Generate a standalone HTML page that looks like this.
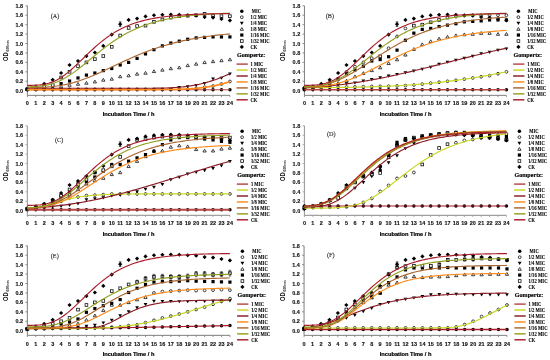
<!DOCTYPE html>
<html><head><meta charset="utf-8"><style>
html,body{margin:0;padding:0;background:#fff;overflow:hidden;width:550px;height:360px;}
svg{display:block;will-change:transform;}
text{font-family:"Liberation Sans",sans-serif;}
.tl text{font-size:5.5px;font-weight:bold;fill:#111;stroke:#111;stroke-width:0.12px;}
.xt{font-size:5.7px;font-weight:bold;fill:#000;stroke:#000;stroke-width:0.2px;}
.yt{font-size:6.5px;font-weight:bold;fill:#111;}
.sub{font-size:3.6px;font-weight:bold;fill:#333;}
.pl{font-family:"Liberation Serif",serif;font-size:6.2px;fill:#222;stroke:#222;stroke-width:0.1px;}
.lg{font-family:"Liberation Serif",serif;font-size:5.3px;font-weight:bold;fill:#000;stroke:#000;stroke-width:0.1px;}
.gz{font-family:"Liberation Serif",serif;font-size:6.1px;font-weight:bold;fill:#000;stroke:#000;stroke-width:0.15px;}
</style></head><body>
<svg width="550" height="360" viewBox="0 0 550 360">
<rect width="550" height="360" fill="#fff"/>
<g><path d="M27.35 5.79V95.35H229.91" fill="none" stroke="#777" stroke-width="0.95"/>
<path d="M25.35 90.7H27.35M25.35 81.27H27.35M25.35 71.83H27.35M25.35 62.4H27.35M25.35 52.96H27.35M25.35 43.53H27.35M25.35 34.1H27.35M25.35 24.66H27.35M25.35 15.23H27.35M25.35 5.79H27.35M27.35 95.35V97.15M35.79 95.35V97.15M44.23 95.35V97.15M52.67 95.35V97.15M61.11 95.35V97.15M69.55 95.35V97.15M77.99 95.35V97.15M86.43 95.35V97.15M94.87 95.35V97.15M103.31 95.35V97.15M111.75 95.35V97.15M120.19 95.35V97.15M128.63 95.35V97.15M137.07 95.35V97.15M145.51 95.35V97.15M153.95 95.35V97.15M162.39 95.35V97.15M170.83 95.35V97.15M179.27 95.35V97.15M187.71 95.35V97.15M196.15 95.35V97.15M204.59 95.35V97.15M213.03 95.35V97.15M221.47 95.35V97.15M229.91 95.35V97.15" stroke="#777" stroke-width="0.8"/>
<g class="tl"><text x="23.15" y="92.7" text-anchor="end">0.0</text><text x="23.15" y="83.27" text-anchor="end">0.2</text><text x="23.15" y="73.83" text-anchor="end">0.4</text><text x="23.15" y="64.4" text-anchor="end">0.6</text><text x="23.15" y="54.96" text-anchor="end">0.8</text><text x="23.15" y="45.53" text-anchor="end">1.0</text><text x="23.15" y="36.1" text-anchor="end">1.2</text><text x="23.15" y="26.66" text-anchor="end">1.4</text><text x="23.15" y="17.23" text-anchor="end">1.6</text><text x="23.15" y="7.79" text-anchor="end">1.8</text><text x="27.35" y="105.3" text-anchor="middle">0</text><text x="35.79" y="105.3" text-anchor="middle">1</text><text x="44.23" y="105.3" text-anchor="middle">2</text><text x="52.67" y="105.3" text-anchor="middle">3</text><text x="61.11" y="105.3" text-anchor="middle">4</text><text x="69.55" y="105.3" text-anchor="middle">5</text><text x="77.99" y="105.3" text-anchor="middle">6</text><text x="86.43" y="105.3" text-anchor="middle">7</text><text x="94.87" y="105.3" text-anchor="middle">8</text><text x="103.31" y="105.3" text-anchor="middle">9</text><text x="111.75" y="105.3" text-anchor="middle">10</text><text x="120.19" y="105.3" text-anchor="middle">11</text><text x="128.63" y="105.3" text-anchor="middle">12</text><text x="137.07" y="105.3" text-anchor="middle">13</text><text x="145.51" y="105.3" text-anchor="middle">14</text><text x="153.95" y="105.3" text-anchor="middle">15</text><text x="162.39" y="105.3" text-anchor="middle">16</text><text x="170.83" y="105.3" text-anchor="middle">17</text><text x="179.27" y="105.3" text-anchor="middle">18</text><text x="187.71" y="105.3" text-anchor="middle">19</text><text x="196.15" y="105.3" text-anchor="middle">20</text><text x="204.59" y="105.3" text-anchor="middle">21</text><text x="213.03" y="105.3" text-anchor="middle">22</text><text x="221.47" y="105.3" text-anchor="middle">23</text><text x="229.91" y="105.3" text-anchor="middle">24</text></g>
<text class="xt" x="128.5" y="115.6" text-anchor="middle">Incubation Time / h</text>
<g transform="translate(7.8 60.9) rotate(-90)"><text class="yt" x="0" y="0" textLength="8.6" lengthAdjust="spacingAndGlyphs">OD</text><text class="sub" x="9.3" y="0.8" textLength="11.3" lengthAdjust="spacingAndGlyphs">600nm</text></g>
<text class="pl" x="50.8" y="17.9">(A)</text>
<circle cx="27.35" cy="89.76" r="1.75" fill="#000"/><circle cx="35.79" cy="89.76" r="1.75" fill="#000"/><circle cx="44.23" cy="89.76" r="1.75" fill="#000"/><circle cx="52.67" cy="89.76" r="1.75" fill="#000"/><circle cx="61.11" cy="89.76" r="1.75" fill="#000"/><circle cx="69.55" cy="89.76" r="1.75" fill="#000"/><circle cx="77.99" cy="89.76" r="1.75" fill="#000"/><circle cx="86.43" cy="89.76" r="1.75" fill="#000"/><circle cx="94.87" cy="89.76" r="1.75" fill="#000"/><circle cx="103.31" cy="89.76" r="1.75" fill="#000"/><circle cx="111.75" cy="89.76" r="1.75" fill="#000"/><circle cx="120.19" cy="89.76" r="1.75" fill="#000"/><circle cx="128.63" cy="89.76" r="1.75" fill="#000"/><circle cx="137.07" cy="89.76" r="1.75" fill="#000"/><circle cx="145.51" cy="89.76" r="1.75" fill="#000"/><circle cx="153.95" cy="89.76" r="1.75" fill="#000"/><circle cx="162.39" cy="89.76" r="1.75" fill="#000"/><circle cx="170.83" cy="89.76" r="1.75" fill="#000"/><circle cx="179.27" cy="89.76" r="1.75" fill="#000"/><circle cx="187.71" cy="89.76" r="1.75" fill="#000"/><circle cx="196.15" cy="89.76" r="1.75" fill="#000"/><circle cx="204.59" cy="89.76" r="1.75" fill="#000"/><circle cx="213.03" cy="89.76" r="1.75" fill="#000"/><circle cx="221.47" cy="89.76" r="1.75" fill="#000"/><circle cx="229.91" cy="89.76" r="1.75" fill="#000"/>
<circle cx="27.35" cy="89.28" r="1.4" fill="none" stroke="#111" stroke-width="0.8"/><circle cx="35.79" cy="89.28" r="1.4" fill="none" stroke="#111" stroke-width="0.8"/><circle cx="44.23" cy="89.28" r="1.4" fill="none" stroke="#111" stroke-width="0.8"/><circle cx="52.67" cy="89.28" r="1.4" fill="none" stroke="#111" stroke-width="0.8"/><circle cx="61.11" cy="89.28" r="1.4" fill="none" stroke="#111" stroke-width="0.8"/><circle cx="69.55" cy="89.28" r="1.4" fill="none" stroke="#111" stroke-width="0.8"/><circle cx="77.99" cy="89.28" r="1.4" fill="none" stroke="#111" stroke-width="0.8"/><circle cx="86.43" cy="89.28" r="1.4" fill="none" stroke="#111" stroke-width="0.8"/><circle cx="94.87" cy="89.28" r="1.4" fill="none" stroke="#111" stroke-width="0.8"/><circle cx="103.31" cy="89.28" r="1.4" fill="none" stroke="#111" stroke-width="0.8"/><circle cx="111.75" cy="89.28" r="1.4" fill="none" stroke="#111" stroke-width="0.8"/><circle cx="120.19" cy="89.28" r="1.4" fill="none" stroke="#111" stroke-width="0.8"/><circle cx="128.63" cy="89.28" r="1.4" fill="none" stroke="#111" stroke-width="0.8"/><circle cx="137.07" cy="89.28" r="1.4" fill="none" stroke="#111" stroke-width="0.8"/><circle cx="145.51" cy="89.28" r="1.4" fill="none" stroke="#111" stroke-width="0.8"/><circle cx="153.95" cy="89.28" r="1.4" fill="none" stroke="#111" stroke-width="0.8"/><circle cx="162.39" cy="89.28" r="1.4" fill="none" stroke="#111" stroke-width="0.8"/><circle cx="170.83" cy="89.28" r="1.4" fill="none" stroke="#111" stroke-width="0.8"/><circle cx="179.27" cy="89.28" r="1.4" fill="none" stroke="#111" stroke-width="0.8"/><circle cx="187.71" cy="89.28" r="1.4" fill="none" stroke="#111" stroke-width="0.8"/><circle cx="196.15" cy="88.48" r="1.4" fill="none" stroke="#111" stroke-width="0.8"/><circle cx="204.59" cy="87.21" r="1.4" fill="none" stroke="#111" stroke-width="0.8"/><circle cx="213.03" cy="86.08" r="1.4" fill="none" stroke="#111" stroke-width="0.8"/><circle cx="221.47" cy="84" r="1.4" fill="none" stroke="#111" stroke-width="0.8"/><circle cx="229.91" cy="81.5" r="1.4" fill="none" stroke="#111" stroke-width="0.8"/>
<path d="M25.45 87.98H29.25L27.35 91.18Z" fill="#000"/><path d="M33.89 87.98H37.69L35.79 91.18Z" fill="#000"/><path d="M42.33 87.98H46.13L44.23 91.18Z" fill="#000"/><path d="M50.77 87.98H54.57L52.67 91.18Z" fill="#000"/><path d="M59.21 87.98H63.01L61.11 91.18Z" fill="#000"/><path d="M67.65 87.98H71.45L69.55 91.18Z" fill="#000"/><path d="M76.09 87.98H79.89L77.99 91.18Z" fill="#000"/><path d="M84.53 87.98H88.33L86.43 91.18Z" fill="#000"/><path d="M92.97 87.98H96.77L94.87 91.18Z" fill="#000"/><path d="M101.41 87.98H105.21L103.31 91.18Z" fill="#000"/><path d="M109.85 87.98H113.65L111.75 91.18Z" fill="#000"/><path d="M118.29 87.98H122.09L120.19 91.18Z" fill="#000"/><path d="M126.73 87.98H130.53L128.63 91.18Z" fill="#000"/><path d="M135.17 87.98H138.97L137.07 91.18Z" fill="#000"/><path d="M143.61 87.98H147.41L145.51 91.18Z" fill="#000"/><path d="M152.05 87.98H155.85L153.95 91.18Z" fill="#000"/><path d="M160.49 87.98H164.29L162.39 91.18Z" fill="#000"/><path d="M168.93 87.98H172.73L170.83 91.18Z" fill="#000"/><path d="M177.37 86.1H181.17L179.27 89.3Z" fill="#000"/><path d="M185.81 85.3H189.61L187.71 88.5Z" fill="#000"/><path d="M194.25 83.98H198.05L196.15 87.18Z" fill="#000"/><path d="M202.69 81.99H206.49L204.59 85.19Z" fill="#000"/><path d="M211.13 77.42H214.93L213.03 80.62Z" fill="#000"/><path d="M219.57 76.66H223.37L221.47 79.86Z" fill="#000"/><path d="M228.01 72.51H231.81L229.91 75.71Z" fill="#000"/>
<path d="M25.7 90.48H29L27.35 87.68Z" fill="#fff" stroke="#111" stroke-width="0.8"/><path d="M34.14 90.25H37.44L35.79 87.45Z" fill="#fff" stroke="#111" stroke-width="0.8"/><path d="M42.58 90.01H45.88L44.23 87.21Z" fill="#fff" stroke="#111" stroke-width="0.8"/><path d="M51.02 89.54H54.32L52.67 86.74Z" fill="#fff" stroke="#111" stroke-width="0.8"/><path d="M59.46 87.8H62.76L61.11 85Z" fill="#fff" stroke="#111" stroke-width="0.8"/><path d="M67.9 86.24H71.2L69.55 83.44Z" fill="#fff" stroke="#111" stroke-width="0.8"/><path d="M76.34 85.3H79.64L77.99 82.5Z" fill="#fff" stroke="#111" stroke-width="0.8"/><path d="M84.78 84.21H88.08L86.43 81.41Z" fill="#fff" stroke="#111" stroke-width="0.8"/><path d="M93.22 82.94H96.52L94.87 80.14Z" fill="#fff" stroke="#111" stroke-width="0.8"/><path d="M101.66 81.19H104.96L103.31 78.39Z" fill="#fff" stroke="#111" stroke-width="0.8"/><path d="M110.1 80.2H113.4L111.75 77.4Z" fill="#fff" stroke="#111" stroke-width="0.8"/><path d="M118.54 77.75H121.84L120.19 74.95Z" fill="#fff" stroke="#111" stroke-width="0.8"/><path d="M126.98 76.81H130.28L128.63 74.01Z" fill="#fff" stroke="#111" stroke-width="0.8"/><path d="M135.42 75.2H138.72L137.07 72.4Z" fill="#fff" stroke="#111" stroke-width="0.8"/><path d="M143.86 74.21H147.16L145.51 71.41Z" fill="#fff" stroke="#111" stroke-width="0.8"/><path d="M152.3 72.56H155.6L153.95 69.76Z" fill="#fff" stroke="#111" stroke-width="0.8"/><path d="M160.74 71.15H164.04L162.39 68.35Z" fill="#fff" stroke="#111" stroke-width="0.8"/><path d="M169.18 69.73H172.48L170.83 66.93Z" fill="#fff" stroke="#111" stroke-width="0.8"/><path d="M177.62 68.79H180.92L179.27 65.99Z" fill="#fff" stroke="#111" stroke-width="0.8"/><path d="M186.06 66.62H189.36L187.71 63.82Z" fill="#fff" stroke="#111" stroke-width="0.8"/><path d="M194.5 65.2H197.8L196.15 62.4Z" fill="#fff" stroke="#111" stroke-width="0.8"/><path d="M202.94 63.6H206.24L204.59 60.8Z" fill="#fff" stroke="#111" stroke-width="0.8"/><path d="M211.38 62.65H214.68L213.03 59.85Z" fill="#fff" stroke="#111" stroke-width="0.8"/><path d="M219.82 61.71H223.12L221.47 58.91Z" fill="#fff" stroke="#111" stroke-width="0.8"/><path d="M228.26 60.77H231.56L229.91 57.97Z" fill="#fff" stroke="#111" stroke-width="0.8"/>
<rect x="25.75" y="87.68" width="3.2" height="3.2" fill="#000"/><rect x="34.19" y="87.21" width="3.2" height="3.2" fill="#000"/><rect x="42.63" y="86.27" width="3.2" height="3.2" fill="#000"/><rect x="51.07" y="84.38" width="3.2" height="3.2" fill="#000"/><rect x="59.51" y="82.02" width="3.2" height="3.2" fill="#000"/><rect x="67.95" y="79.43" width="3.2" height="3.2" fill="#000"/><rect x="76.39" y="76.36" width="3.2" height="3.2" fill="#000"/><rect x="84.83" y="73.53" width="3.2" height="3.2" fill="#000"/><rect x="93.27" y="71.41" width="3.2" height="3.2" fill="#000"/><rect x="101.71" y="69.01" width="3.2" height="3.2" fill="#000"/><rect x="110.15" y="66.93" width="3.2" height="3.2" fill="#000"/><rect x="118.59" y="63.39" width="3.2" height="3.2" fill="#000"/><rect x="127.03" y="60.8" width="3.2" height="3.2" fill="#000"/><rect x="135.47" y="56.79" width="3.2" height="3.2" fill="#000"/><rect x="143.91" y="52.31" width="3.2" height="3.2" fill="#000"/><rect x="152.35" y="48.06" width="3.2" height="3.2" fill="#000"/><rect x="160.79" y="44.29" width="3.2" height="3.2" fill="#000"/><rect x="169.23" y="41.46" width="3.2" height="3.2" fill="#000"/><rect x="177.67" y="39.57" width="3.2" height="3.2" fill="#000"/><rect x="186.11" y="37.68" width="3.2" height="3.2" fill="#000"/><rect x="194.55" y="36.27" width="3.2" height="3.2" fill="#000"/><rect x="202.99" y="35.8" width="3.2" height="3.2" fill="#000"/><rect x="211.43" y="35.33" width="3.2" height="3.2" fill="#000"/><rect x="219.87" y="35.33" width="3.2" height="3.2" fill="#000"/><rect x="228.31" y="35.33" width="3.2" height="3.2" fill="#000"/>
<rect x="26" y="87.93" width="2.7" height="2.7" fill="#fff" stroke="#111" stroke-width="0.8"/><rect x="34.44" y="86.99" width="2.7" height="2.7" fill="#fff" stroke="#111" stroke-width="0.8"/><rect x="42.88" y="85.58" width="2.7" height="2.7" fill="#fff" stroke="#111" stroke-width="0.8"/><rect x="51.32" y="83.69" width="2.7" height="2.7" fill="#fff" stroke="#111" stroke-width="0.8"/><rect x="59.76" y="76.14" width="2.7" height="2.7" fill="#fff" stroke="#111" stroke-width="0.8"/><rect x="68.2" y="70.48" width="2.7" height="2.7" fill="#fff" stroke="#111" stroke-width="0.8"/><rect x="76.64" y="64.82" width="2.7" height="2.7" fill="#fff" stroke="#111" stroke-width="0.8"/><rect x="85.08" y="61.05" width="2.7" height="2.7" fill="#fff" stroke="#111" stroke-width="0.8"/><rect x="93.52" y="57.75" width="2.7" height="2.7" fill="#fff" stroke="#111" stroke-width="0.8"/><rect x="101.96" y="54.68" width="2.7" height="2.7" fill="#fff" stroke="#111" stroke-width="0.8"/><rect x="110.4" y="45.48" width="2.7" height="2.7" fill="#fff" stroke="#111" stroke-width="0.8"/><rect x="118.84" y="34.16" width="2.7" height="2.7" fill="#fff" stroke="#111" stroke-width="0.8"/><rect x="127.28" y="26.61" width="2.7" height="2.7" fill="#fff" stroke="#111" stroke-width="0.8"/><rect x="135.72" y="24.73" width="2.7" height="2.7" fill="#fff" stroke="#111" stroke-width="0.8"/><rect x="144.16" y="24.26" width="2.7" height="2.7" fill="#fff" stroke="#111" stroke-width="0.8"/><rect x="152.6" y="20.48" width="2.7" height="2.7" fill="#fff" stroke="#111" stroke-width="0.8"/><rect x="161.04" y="18.12" width="2.7" height="2.7" fill="#fff" stroke="#111" stroke-width="0.8"/><rect x="169.48" y="16.24" width="2.7" height="2.7" fill="#fff" stroke="#111" stroke-width="0.8"/><rect x="177.92" y="14.82" width="2.7" height="2.7" fill="#fff" stroke="#111" stroke-width="0.8"/><rect x="186.36" y="14.35" width="2.7" height="2.7" fill="#fff" stroke="#111" stroke-width="0.8"/><rect x="194.8" y="13.88" width="2.7" height="2.7" fill="#fff" stroke="#111" stroke-width="0.8"/><rect x="203.24" y="12.46" width="2.7" height="2.7" fill="#fff" stroke="#111" stroke-width="0.8"/><rect x="211.68" y="14.35" width="2.7" height="2.7" fill="#fff" stroke="#111" stroke-width="0.8"/><rect x="220.12" y="14.82" width="2.7" height="2.7" fill="#fff" stroke="#111" stroke-width="0.8"/><rect x="228.56" y="14.82" width="2.7" height="2.7" fill="#fff" stroke="#111" stroke-width="0.8"/>
<path d="M27.35 86.71L29.45 88.81L27.35 90.91L25.25 88.81Z" fill="#000"/><path d="M35.79 84.5L37.89 86.6L35.79 88.7L33.69 86.6Z" fill="#000"/><path d="M44.23 81.71L46.33 83.81L44.23 85.91L42.13 83.81Z" fill="#000"/><path d="M52.67 77.75L54.77 79.85L52.67 81.95L50.57 79.85Z" fill="#000"/><path d="M61.11 70.91L63.21 73.01L61.11 75.11L59.01 73.01Z" fill="#000"/><path d="M69.55 62.89L71.65 64.99L69.55 67.09L67.45 64.99Z" fill="#000"/><path d="M77.99 58.88L80.09 60.98L77.99 63.08L75.89 60.98Z" fill="#000"/><path d="M86.43 53.93L88.53 56.03L86.43 58.13L84.33 56.03Z" fill="#000"/><path d="M94.87 50.39L96.97 52.49L94.87 54.59L92.77 52.49Z" fill="#000"/><path d="M103.31 43.79L105.41 45.89L103.31 47.99L101.21 45.89Z" fill="#000"/><path d="M111.75 32.47L113.85 34.57L111.75 36.67L109.65 34.57Z" fill="#000"/><path d="M120.19 22.09L122.29 24.19L120.19 26.29L118.09 24.19Z" fill="#000"/><path d="M128.63 17.85L130.73 19.95L128.63 22.05L126.53 19.95Z" fill="#000"/><path d="M137.07 16.43L139.17 18.53L137.07 20.63L134.97 18.53Z" fill="#000"/><path d="M145.51 14.31L147.61 16.41L145.51 18.51L143.41 16.41Z" fill="#000"/><path d="M153.95 13.13L156.05 15.23L153.95 17.33L151.85 15.23Z" fill="#000"/><path d="M162.39 12.66L164.49 14.76L162.39 16.86L160.29 14.76Z" fill="#000"/><path d="M170.83 12.42L172.93 14.52L170.83 16.62L168.73 14.52Z" fill="#000"/><path d="M179.27 12.66L181.37 14.76L179.27 16.86L177.17 14.76Z" fill="#000"/><path d="M187.71 13.13L189.81 15.23L187.71 17.33L185.61 15.23Z" fill="#000"/><path d="M196.15 13.6L198.25 15.7L196.15 17.8L194.05 15.7Z" fill="#000"/><path d="M204.59 15.01L206.69 17.11L204.59 19.21L202.49 17.11Z" fill="#000"/><path d="M213.03 15.49L215.13 17.59L213.03 19.69L210.93 17.59Z" fill="#000"/><path d="M221.47 16.9L223.57 19L221.47 21.1L219.37 19Z" fill="#000"/><path d="M229.91 18.32L232.01 20.42L229.91 22.52L227.81 20.42Z" fill="#000"/><path d="M120.19 21.83V26.55M118.89 21.83H121.49M118.89 26.55H121.49" stroke="#000" stroke-width="0.6"/>
<path d="M27.35 89.76H229.91" fill="none" stroke="#b84646" stroke-width="1.2"/>
<path d="M27.35 89.55 29.46 89.55 31.57 89.55 33.68 89.55 35.79 89.55 37.9 89.55 40.01 89.55 42.12 89.55 44.23 89.55 46.34 89.55 48.45 89.55 50.56 89.55 52.67 89.55 54.78 89.55 56.89 89.55 59 89.55 61.11 89.55 63.22 89.55 65.33 89.55 67.44 89.55 69.55 89.55 71.66 89.55 73.77 89.55 75.88 89.55 77.99 89.55 80.1 89.55 82.21 89.55 84.32 89.55 86.43 89.55 88.54 89.55 90.65 89.55 92.76 89.55 94.87 89.55 96.98 89.55 99.09 89.55 101.2 89.55 103.31 89.55 105.42 89.55 107.53 89.55 109.64 89.55 111.75 89.55 113.86 89.55 115.97 89.55 118.08 89.55 120.19 89.55 122.3 89.55 124.41 89.55 126.52 89.55 128.63 89.55 130.74 89.55 132.85 89.55 134.96 89.55 137.07 89.55 139.18 89.55 141.29 89.55 143.4 89.55 145.51 89.55 147.62 89.54 149.73 89.54 151.84 89.54 153.95 89.53 156.06 89.53 158.17 89.52 160.28 89.51 162.39 89.49 164.5 89.48 166.61 89.46 168.72 89.43 170.83 89.41 172.94 89.37 175.05 89.33 177.16 89.28 179.27 89.22 181.38 89.16 183.49 89.08 185.6 88.99 187.71 88.88 189.82 88.77 191.93 88.63 194.04 88.48 196.15 88.3 198.26 88.11 200.37 87.89 202.48 87.65 204.59 87.38 206.7 87.08 208.81 86.75 210.92 86.39 213.03 86 215.14 85.57 217.25 85.11 219.36 84.61 221.47 84.07 223.58 83.49 225.69 82.87 227.8 82.2 229.91 81.5" fill="none" stroke="#ff8c1a" stroke-width="1.7"/>
<path d="M27.35 88.29 29.46 88.29 31.57 88.29 33.68 88.29 35.79 88.29 37.9 88.29 40.01 88.29 42.12 88.29 44.23 88.29 46.34 88.29 48.45 88.29 50.56 88.29 52.67 88.29 54.78 88.29 56.89 88.29 59 88.29 61.11 88.29 63.22 88.29 65.33 88.29 67.44 88.29 69.55 88.29 71.66 88.29 73.77 88.29 75.88 88.29 77.99 88.29 80.1 88.29 82.21 88.29 84.32 88.29 86.43 88.29 88.54 88.29 90.65 88.29 92.76 88.29 94.87 88.29 96.98 88.29 99.09 88.29 101.2 88.29 103.31 88.29 105.42 88.29 107.53 88.29 109.64 88.29 111.75 88.29 113.86 88.29 115.97 88.29 118.08 88.29 120.19 88.29 122.3 88.29 124.41 88.29 126.52 88.29 128.63 88.29 130.74 88.28 132.85 88.28 134.96 88.28 137.07 88.28 139.18 88.28 141.29 88.27 143.4 88.27 145.51 88.26 147.62 88.25 149.73 88.24 151.84 88.23 153.95 88.21 156.06 88.18 158.17 88.15 160.28 88.12 162.39 88.07 164.5 88.01 166.61 87.95 168.72 87.87 170.83 87.78 172.94 87.67 175.05 87.54 177.16 87.39 179.27 87.22 181.38 87.03 183.49 86.82 185.6 86.57 187.71 86.3 189.82 86 191.93 85.67 194.04 85.3 196.15 84.9 198.26 84.47 200.37 84 202.48 83.49 204.59 82.95 206.7 82.37 208.81 81.75 210.92 81.1 213.03 80.41 215.14 79.68 217.25 78.92 219.36 78.13 221.47 77.3 223.58 76.44 225.69 75.56 227.8 74.64 229.91 73.7" fill="none" stroke="#8a1c26" stroke-width="1.15"/>
<path d="M27.35 87.73 29.46 87.71 31.57 87.68 33.68 87.63 35.79 87.58 37.9 87.52 40.01 87.44 42.12 87.34 44.23 87.23 46.34 87.1 48.45 86.94 50.56 86.75 52.67 86.54 54.78 86.3 56.89 86.03 59 85.72 61.11 85.37 63.22 84.99 65.33 84.57 67.44 84.12 69.55 83.62 71.66 83.08 73.77 82.51 75.88 81.89 77.99 81.24 80.1 80.55 82.21 79.82 84.32 79.06 86.43 78.27 88.54 77.45 90.65 76.59 92.76 75.72 94.87 74.81 96.98 73.89 99.09 72.95 101.2 71.99 103.31 71.02 105.42 70.03 107.53 69.04 109.64 68.05 111.75 67.04 113.86 66.04 115.97 65.04 118.08 64.04 120.19 63.05 122.3 62.06 124.41 61.08 126.52 60.11 128.63 59.16 130.74 58.21 132.85 57.28 134.96 56.37 137.07 55.47 139.18 54.59 141.29 53.73 143.4 52.89 145.51 52.06 147.62 51.26 149.73 50.47 151.84 49.71 153.95 48.97 156.06 48.24 158.17 47.54 160.28 46.86 162.39 46.2 164.5 45.56 166.61 44.94 168.72 44.33 170.83 43.75 172.94 43.19 175.05 42.65 177.16 42.13 179.27 41.62 181.38 41.13 183.49 40.66 185.6 40.21 187.71 39.77 189.82 39.35 191.93 38.95 194.04 38.56 196.15 38.19 198.26 37.83 200.37 37.48 202.48 37.15 204.59 36.83 206.7 36.53 208.81 36.24 210.92 35.95 213.03 35.68 215.14 35.42 217.25 35.18 219.36 34.94 221.47 34.71 223.58 34.49 225.69 34.28 227.8 34.08 229.91 33.89" fill="none" stroke="#aa6630" stroke-width="1.15"/>
<path d="M27.35 86.79 29.46 86.74 31.57 86.67 33.68 86.57 35.79 86.45 37.9 86.29 40.01 86.08 42.12 85.82 44.23 85.5 46.34 85.12 48.45 84.66 50.56 84.13 52.67 83.51 54.78 82.8 56.89 81.99 59 81.1 61.11 80.11 63.22 79.03 65.33 77.86 67.44 76.61 69.55 75.27 71.66 73.86 73.77 72.38 75.88 70.84 77.99 69.25 80.1 67.6 82.21 65.93 84.32 64.22 86.43 62.49 88.54 60.75 90.65 59 92.76 57.25 94.87 55.51 96.98 53.79 99.09 52.08 101.2 50.4 103.31 48.75 105.42 47.14 107.53 45.56 109.64 44.02 111.75 42.52 113.86 41.07 115.97 39.67 118.08 38.31 120.19 37 122.3 35.74 124.41 34.53 126.52 33.36 128.63 32.25 130.74 31.18 132.85 30.16 134.96 29.18 137.07 28.25 139.18 27.37 141.29 26.52 143.4 25.72 145.51 24.95 147.62 24.23 149.73 23.54 151.84 22.89 153.95 22.27 156.06 21.68 158.17 21.13 160.28 20.6 162.39 20.11 164.5 19.64 166.61 19.19 168.72 18.78 170.83 18.38 172.94 18.01 175.05 17.65 177.16 17.32 179.27 17.01 181.38 16.71 183.49 16.44 185.6 16.17 187.71 15.93 189.82 15.7 191.93 15.48 194.04 15.27 196.15 15.08 198.26 14.9 200.37 14.72 202.48 14.56 204.59 14.41 206.7 14.27 208.81 14.14 210.92 14.01 213.03 13.89 215.14 13.78 217.25 13.67 219.36 13.58 221.47 13.48 223.58 13.4 225.69 13.32 227.8 13.24 229.91 13.17" fill="none" stroke="#94a020" stroke-width="1.15"/>
<path d="M27.35 85.39 29.46 85.37 31.57 85.32 33.68 85.26 35.79 85.16 37.9 85.02 40.01 84.83 42.12 84.57 44.23 84.24 46.34 83.81 48.45 83.28 50.56 82.64 52.67 81.87 54.78 80.98 56.89 79.95 59 78.79 61.11 77.49 63.22 76.07 65.33 74.53 67.44 72.88 69.55 71.13 71.66 69.29 73.77 67.38 75.88 65.41 77.99 63.4 80.1 61.36 82.21 59.31 84.32 57.25 86.43 55.2 88.54 53.17 90.65 51.17 92.76 49.21 94.87 47.3 96.98 45.44 99.09 43.64 101.2 41.9 103.31 40.22 105.42 38.62 107.53 37.08 109.64 35.61 111.75 34.21 113.86 32.88 115.97 31.62 118.08 30.43 120.19 29.3 122.3 28.24 124.41 27.24 126.52 26.29 128.63 25.41 130.74 24.57 132.85 23.79 134.96 23.06 137.07 22.38 139.18 21.74 141.29 21.14 143.4 20.58 145.51 20.06 147.62 19.57 149.73 19.12 151.84 18.7 153.95 18.31 156.06 17.94 158.17 17.6 160.28 17.28 162.39 16.99 164.5 16.72 166.61 16.46 168.72 16.23 170.83 16.01 172.94 15.81 175.05 15.62 177.16 15.44 179.27 15.28 181.38 15.13 183.49 14.99 185.6 14.86 187.71 14.74 189.82 14.63 191.93 14.53 194.04 14.43 196.15 14.34 198.26 14.26 200.37 14.19 202.48 14.12 204.59 14.05 206.7 13.99 208.81 13.93 210.92 13.88 213.03 13.84 215.14 13.79 217.25 13.75 219.36 13.71 221.47 13.68 223.58 13.64 225.69 13.61 227.8 13.59 229.91 13.56" fill="none" stroke="#a81c2a" stroke-width="1.15"/>
<circle cx="241.8" cy="11.25" r="1.75" fill="#000"/>
<text class="lg" x="250.6" y="13" xml:space="preserve" textLength="10.38" lengthAdjust="spacingAndGlyphs"> MIC</text>
<circle cx="241.8" cy="17.2" r="1.4" fill="none" stroke="#111" stroke-width="0.8"/>
<text class="lg" x="250.6" y="18.95" xml:space="preserve" textLength="16.57" lengthAdjust="spacingAndGlyphs">1/2 MIC</text>
<path d="M239.9 21.85H243.7L241.8 25.05Z" fill="#000"/>
<text class="lg" x="250.6" y="24.9" xml:space="preserve" textLength="16.57" lengthAdjust="spacingAndGlyphs">1/4 MIC</text>
<path d="M240.15 30.3H243.45L241.8 27.5Z" fill="#fff" stroke="#111" stroke-width="0.8"/>
<text class="lg" x="250.6" y="30.85" xml:space="preserve" textLength="16.57" lengthAdjust="spacingAndGlyphs">1/8 MIC</text>
<rect x="240.2" y="33.45" width="3.2" height="3.2" fill="#000"/>
<text class="lg" x="250.6" y="36.8" xml:space="preserve" textLength="19" lengthAdjust="spacingAndGlyphs">1/16 MIC</text>
<rect x="240.45" y="39.65" width="2.7" height="2.7" fill="#fff" stroke="#111" stroke-width="0.8"/>
<text class="lg" x="250.6" y="42.75" xml:space="preserve" textLength="19" lengthAdjust="spacingAndGlyphs">1/32 MIC</text>
<path d="M241.8 44.85L243.9 46.95L241.8 49.05L239.7 46.95Z" fill="#000"/>
<text class="lg" x="250.6" y="48.7" xml:space="preserve" textLength="6.74" lengthAdjust="spacingAndGlyphs">CK</text>
<text class="gz" x="236.9" y="57.2">Gompertz:</text>
<path d="M236.5 64.1H247.8" stroke="#b84646" stroke-width="1.45"/>
<text class="lg" x="250.6" y="65.95" textLength="12.8" lengthAdjust="spacingAndGlyphs">1 MIC</text>
<path d="M236.5 70.05H247.8" stroke="#c8d820" stroke-width="1.45"/>
<text class="lg" x="250.6" y="71.9" textLength="16.57" lengthAdjust="spacingAndGlyphs">1/2 MIC</text>
<path d="M236.5 76H247.8" stroke="#8a1c26" stroke-width="1.45"/>
<text class="lg" x="250.6" y="77.85" textLength="16.57" lengthAdjust="spacingAndGlyphs">1/4 MIC</text>
<path d="M236.5 81.95H247.8" stroke="#ff8c1a" stroke-width="1.45"/>
<text class="lg" x="250.6" y="83.8" textLength="16.57" lengthAdjust="spacingAndGlyphs">1/8 MIC</text>
<path d="M236.5 87.9H247.8" stroke="#aa6630" stroke-width="1.45"/>
<text class="lg" x="250.6" y="89.75" textLength="19" lengthAdjust="spacingAndGlyphs">1/16 MIC</text>
<path d="M236.5 93.85H247.8" stroke="#94a020" stroke-width="1.45"/>
<text class="lg" x="250.6" y="95.7" textLength="19" lengthAdjust="spacingAndGlyphs">1/32 MIC</text>
<path d="M236.5 99.8H247.8" stroke="#a81c2a" stroke-width="1.45"/>
<text class="lg" x="250.6" y="101.65" textLength="6.74" lengthAdjust="spacingAndGlyphs">CK</text></g>
<g><path d="M304.45 5.79V95.35H506.41" fill="none" stroke="#777" stroke-width="0.95"/>
<path d="M302.45 90.7H304.45M302.45 81.27H304.45M302.45 71.83H304.45M302.45 62.4H304.45M302.45 52.96H304.45M302.45 43.53H304.45M302.45 34.1H304.45M302.45 24.66H304.45M302.45 15.23H304.45M302.45 5.79H304.45M304.45 95.35V97.15M312.87 95.35V97.15M321.28 95.35V97.15M329.7 95.35V97.15M338.11 95.35V97.15M346.53 95.35V97.15M354.94 95.35V97.15M363.36 95.35V97.15M371.77 95.35V97.15M380.19 95.35V97.15M388.6 95.35V97.15M397.02 95.35V97.15M405.43 95.35V97.15M413.85 95.35V97.15M422.26 95.35V97.15M430.68 95.35V97.15M439.09 95.35V97.15M447.5 95.35V97.15M455.92 95.35V97.15M464.34 95.35V97.15M472.75 95.35V97.15M481.17 95.35V97.15M489.58 95.35V97.15M498 95.35V97.15M506.41 95.35V97.15" stroke="#777" stroke-width="0.8"/>
<g class="tl"><text x="300.25" y="92.7" text-anchor="end">0.0</text><text x="300.25" y="83.27" text-anchor="end">0.2</text><text x="300.25" y="73.83" text-anchor="end">0.4</text><text x="300.25" y="64.4" text-anchor="end">0.6</text><text x="300.25" y="54.96" text-anchor="end">0.8</text><text x="300.25" y="45.53" text-anchor="end">1.0</text><text x="300.25" y="36.1" text-anchor="end">1.2</text><text x="300.25" y="26.66" text-anchor="end">1.4</text><text x="300.25" y="17.23" text-anchor="end">1.6</text><text x="300.25" y="7.79" text-anchor="end">1.8</text><text x="304.45" y="105.3" text-anchor="middle">0</text><text x="312.87" y="105.3" text-anchor="middle">1</text><text x="321.28" y="105.3" text-anchor="middle">2</text><text x="329.7" y="105.3" text-anchor="middle">3</text><text x="338.11" y="105.3" text-anchor="middle">4</text><text x="346.53" y="105.3" text-anchor="middle">5</text><text x="354.94" y="105.3" text-anchor="middle">6</text><text x="363.36" y="105.3" text-anchor="middle">7</text><text x="371.77" y="105.3" text-anchor="middle">8</text><text x="380.19" y="105.3" text-anchor="middle">9</text><text x="388.6" y="105.3" text-anchor="middle">10</text><text x="397.02" y="105.3" text-anchor="middle">11</text><text x="405.43" y="105.3" text-anchor="middle">12</text><text x="413.85" y="105.3" text-anchor="middle">13</text><text x="422.26" y="105.3" text-anchor="middle">14</text><text x="430.68" y="105.3" text-anchor="middle">15</text><text x="439.09" y="105.3" text-anchor="middle">16</text><text x="447.5" y="105.3" text-anchor="middle">17</text><text x="455.92" y="105.3" text-anchor="middle">18</text><text x="464.34" y="105.3" text-anchor="middle">19</text><text x="472.75" y="105.3" text-anchor="middle">20</text><text x="481.17" y="105.3" text-anchor="middle">21</text><text x="489.58" y="105.3" text-anchor="middle">22</text><text x="498" y="105.3" text-anchor="middle">23</text><text x="506.41" y="105.3" text-anchor="middle">24</text></g>
<text class="xt" x="405.6" y="115.6" text-anchor="middle">Incubation Time / h</text>
<g transform="translate(284.9 60.9) rotate(-90)"><text class="yt" x="0" y="0" textLength="8.6" lengthAdjust="spacingAndGlyphs">OD</text><text class="sub" x="9.3" y="0.8" textLength="11.3" lengthAdjust="spacingAndGlyphs">600nm</text></g>
<text class="pl" x="325.8" y="17.9">(B)</text>
<circle cx="304.45" cy="89.76" r="1.75" fill="#000"/><circle cx="312.87" cy="89.76" r="1.75" fill="#000"/><circle cx="321.28" cy="89.76" r="1.75" fill="#000"/><circle cx="329.7" cy="89.76" r="1.75" fill="#000"/><circle cx="338.11" cy="89.76" r="1.75" fill="#000"/><circle cx="346.53" cy="89.76" r="1.75" fill="#000"/><circle cx="354.94" cy="89.76" r="1.75" fill="#000"/><circle cx="363.36" cy="89.76" r="1.75" fill="#000"/><circle cx="371.77" cy="89.76" r="1.75" fill="#000"/><circle cx="380.19" cy="89.76" r="1.75" fill="#000"/><circle cx="388.6" cy="89.76" r="1.75" fill="#000"/><circle cx="397.02" cy="89.76" r="1.75" fill="#000"/><circle cx="405.43" cy="89.76" r="1.75" fill="#000"/><circle cx="413.85" cy="89.76" r="1.75" fill="#000"/><circle cx="422.26" cy="89.76" r="1.75" fill="#000"/><circle cx="430.68" cy="89.76" r="1.75" fill="#000"/><circle cx="439.09" cy="89.76" r="1.75" fill="#000"/><circle cx="447.5" cy="89.76" r="1.75" fill="#000"/><circle cx="455.92" cy="89.76" r="1.75" fill="#000"/><circle cx="464.34" cy="89.76" r="1.75" fill="#000"/><circle cx="472.75" cy="89.76" r="1.75" fill="#000"/><circle cx="481.17" cy="89.76" r="1.75" fill="#000"/><circle cx="489.58" cy="89.76" r="1.75" fill="#000"/><circle cx="498" cy="89.76" r="1.75" fill="#000"/><circle cx="506.41" cy="89.76" r="1.75" fill="#000"/>
<circle cx="304.45" cy="87.87" r="1.4" fill="none" stroke="#111" stroke-width="0.8"/><circle cx="312.87" cy="87.63" r="1.4" fill="none" stroke="#111" stroke-width="0.8"/><circle cx="321.28" cy="87.4" r="1.4" fill="none" stroke="#111" stroke-width="0.8"/><circle cx="329.7" cy="87.3" r="1.4" fill="none" stroke="#111" stroke-width="0.8"/><circle cx="338.11" cy="87.16" r="1.4" fill="none" stroke="#111" stroke-width="0.8"/><circle cx="346.53" cy="87.02" r="1.4" fill="none" stroke="#111" stroke-width="0.8"/><circle cx="354.94" cy="86.93" r="1.4" fill="none" stroke="#111" stroke-width="0.8"/><circle cx="363.36" cy="86.69" r="1.4" fill="none" stroke="#111" stroke-width="0.8"/><circle cx="371.77" cy="86.45" r="1.4" fill="none" stroke="#111" stroke-width="0.8"/><circle cx="380.19" cy="86.36" r="1.4" fill="none" stroke="#111" stroke-width="0.8"/><circle cx="388.6" cy="86.22" r="1.4" fill="none" stroke="#111" stroke-width="0.8"/><circle cx="397.02" cy="85.98" r="1.4" fill="none" stroke="#111" stroke-width="0.8"/><circle cx="405.43" cy="85.61" r="1.4" fill="none" stroke="#111" stroke-width="0.8"/><circle cx="413.85" cy="85.04" r="1.4" fill="none" stroke="#111" stroke-width="0.8"/><circle cx="422.26" cy="84.1" r="1.4" fill="none" stroke="#111" stroke-width="0.8"/><circle cx="430.68" cy="83.15" r="1.4" fill="none" stroke="#111" stroke-width="0.8"/><circle cx="439.09" cy="82.21" r="1.4" fill="none" stroke="#111" stroke-width="0.8"/><circle cx="447.5" cy="81.27" r="1.4" fill="none" stroke="#111" stroke-width="0.8"/><circle cx="455.92" cy="80.32" r="1.4" fill="none" stroke="#111" stroke-width="0.8"/><circle cx="464.34" cy="79.14" r="1.4" fill="none" stroke="#111" stroke-width="0.8"/><circle cx="472.75" cy="77.96" r="1.4" fill="none" stroke="#111" stroke-width="0.8"/><circle cx="481.17" cy="76.78" r="1.4" fill="none" stroke="#111" stroke-width="0.8"/><circle cx="489.58" cy="75.61" r="1.4" fill="none" stroke="#111" stroke-width="0.8"/><circle cx="498" cy="73.72" r="1.4" fill="none" stroke="#111" stroke-width="0.8"/><circle cx="506.41" cy="71.83" r="1.4" fill="none" stroke="#111" stroke-width="0.8"/>
<path d="M302.55 87.04H306.35L304.45 90.24Z" fill="#000"/><path d="M310.97 86.57H314.77L312.87 89.77Z" fill="#000"/><path d="M319.38 85.63H323.18L321.28 88.83Z" fill="#000"/><path d="M327.8 84.68H331.6L329.7 87.88Z" fill="#000"/><path d="M336.21 83.27H340.01L338.11 86.47Z" fill="#000"/><path d="M344.63 82.32H348.43L346.53 85.52Z" fill="#000"/><path d="M353.04 81.38H356.84L354.94 84.58Z" fill="#000"/><path d="M361.46 79.49H365.25L363.36 82.69Z" fill="#000"/><path d="M369.87 78.08H373.67L371.77 81.28Z" fill="#000"/><path d="M378.29 76.19H382.09L380.19 79.39Z" fill="#000"/><path d="M386.7 74.54H390.5L388.6 77.74Z" fill="#000"/><path d="M395.12 72.89H398.92L397.02 76.09Z" fill="#000"/><path d="M403.53 71.24H407.33L405.43 74.44Z" fill="#000"/><path d="M411.95 69.59H415.75L413.85 72.79Z" fill="#000"/><path d="M420.36 67.7H424.16L422.26 70.9Z" fill="#000"/><path d="M428.78 65.82H432.58L430.68 69.02Z" fill="#000"/><path d="M437.19 62.7H440.99L439.09 65.9Z" fill="#000"/><path d="M445.61 60.63H449.4L447.5 63.83Z" fill="#000"/><path d="M454.02 58.74H457.82L455.92 61.94Z" fill="#000"/><path d="M462.44 56.85H466.24L464.34 60.05Z" fill="#000"/><path d="M470.85 54.73H474.65L472.75 57.93Z" fill="#000"/><path d="M479.27 52.14H483.06L481.17 55.34Z" fill="#000"/><path d="M487.68 50.72H491.48L489.58 53.92Z" fill="#000"/><path d="M496.1 48.83H499.89L498 52.03Z" fill="#000"/><path d="M504.51 47.42H508.31L506.41 50.62Z" fill="#000"/>
<path d="M302.8 89.54H306.1L304.45 86.74Z" fill="#fff" stroke="#111" stroke-width="0.8"/><path d="M311.22 89.07H314.52L312.87 86.27Z" fill="#fff" stroke="#111" stroke-width="0.8"/><path d="M319.63 88.13H322.93L321.28 85.33Z" fill="#fff" stroke="#111" stroke-width="0.8"/><path d="M328.05 86.24H331.35L329.7 83.44Z" fill="#fff" stroke="#111" stroke-width="0.8"/><path d="M336.46 84.35H339.76L338.11 81.55Z" fill="#fff" stroke="#111" stroke-width="0.8"/><path d="M344.88 81.99H348.18L346.53 79.19Z" fill="#fff" stroke="#111" stroke-width="0.8"/><path d="M353.29 77.75H356.59L354.94 74.95Z" fill="#fff" stroke="#111" stroke-width="0.8"/><path d="M361.71 74.45H365L363.36 71.65Z" fill="#fff" stroke="#111" stroke-width="0.8"/><path d="M370.12 71.62H373.42L371.77 68.82Z" fill="#fff" stroke="#111" stroke-width="0.8"/><path d="M378.54 68.79H381.84L380.19 65.99Z" fill="#fff" stroke="#111" stroke-width="0.8"/><path d="M386.95 64.54H390.25L388.6 61.74Z" fill="#fff" stroke="#111" stroke-width="0.8"/><path d="M395.37 60.77H398.67L397.02 57.97Z" fill="#fff" stroke="#111" stroke-width="0.8"/><path d="M403.78 56.05H407.08L405.43 53.25Z" fill="#fff" stroke="#111" stroke-width="0.8"/><path d="M412.2 50.39H415.5L413.85 47.59Z" fill="#fff" stroke="#111" stroke-width="0.8"/><path d="M420.61 45.67H423.91L422.26 42.87Z" fill="#fff" stroke="#111" stroke-width="0.8"/><path d="M429.03 42.61H432.33L430.68 39.81Z" fill="#fff" stroke="#111" stroke-width="0.8"/><path d="M437.44 40.01H440.74L439.09 37.21Z" fill="#fff" stroke="#111" stroke-width="0.8"/><path d="M445.86 38.13H449.15L447.5 35.33Z" fill="#fff" stroke="#111" stroke-width="0.8"/><path d="M454.27 36.71H457.57L455.92 33.91Z" fill="#fff" stroke="#111" stroke-width="0.8"/><path d="M462.69 35.77H465.99L464.34 32.97Z" fill="#fff" stroke="#111" stroke-width="0.8"/><path d="M471.1 35.3H474.4L472.75 32.5Z" fill="#fff" stroke="#111" stroke-width="0.8"/><path d="M479.52 34.35H482.81L481.17 31.55Z" fill="#fff" stroke="#111" stroke-width="0.8"/><path d="M487.93 34.35H491.23L489.58 31.55Z" fill="#fff" stroke="#111" stroke-width="0.8"/><path d="M496.35 35.3H499.64L498 32.5Z" fill="#fff" stroke="#111" stroke-width="0.8"/><path d="M504.76 35.3H508.06L506.41 32.5Z" fill="#fff" stroke="#111" stroke-width="0.8"/>
<rect x="302.85" y="86.74" width="3.2" height="3.2" fill="#000"/><rect x="311.27" y="85.8" width="3.2" height="3.2" fill="#000"/><rect x="319.68" y="84.38" width="3.2" height="3.2" fill="#000"/><rect x="328.1" y="82.02" width="3.2" height="3.2" fill="#000"/><rect x="336.51" y="77.31" width="3.2" height="3.2" fill="#000"/><rect x="344.93" y="72.12" width="3.2" height="3.2" fill="#000"/><rect x="353.34" y="68.35" width="3.2" height="3.2" fill="#000"/><rect x="361.75" y="64.57" width="3.2" height="3.2" fill="#000"/><rect x="370.17" y="59.38" width="3.2" height="3.2" fill="#000"/><rect x="378.59" y="57.97" width="3.2" height="3.2" fill="#000"/><rect x="387" y="55.14" width="3.2" height="3.2" fill="#000"/><rect x="395.42" y="48.53" width="3.2" height="3.2" fill="#000"/><rect x="403.83" y="38.63" width="3.2" height="3.2" fill="#000"/><rect x="412.25" y="31.55" width="3.2" height="3.2" fill="#000"/><rect x="420.66" y="27.78" width="3.2" height="3.2" fill="#000"/><rect x="429.08" y="26.84" width="3.2" height="3.2" fill="#000"/><rect x="437.49" y="24.95" width="3.2" height="3.2" fill="#000"/><rect x="445.9" y="23.53" width="3.2" height="3.2" fill="#000"/><rect x="454.32" y="22.12" width="3.2" height="3.2" fill="#000"/><rect x="462.74" y="20.23" width="3.2" height="3.2" fill="#000"/><rect x="471.15" y="19.76" width="3.2" height="3.2" fill="#000"/><rect x="479.56" y="19.29" width="3.2" height="3.2" fill="#000"/><rect x="487.98" y="18.35" width="3.2" height="3.2" fill="#000"/><rect x="496.39" y="18.35" width="3.2" height="3.2" fill="#000"/><rect x="504.81" y="18.35" width="3.2" height="3.2" fill="#000"/>
<circle cx="304.45" cy="88.34" r="1.4" fill="none" stroke="#111" stroke-width="0.8"/><circle cx="312.87" cy="86.93" r="1.4" fill="none" stroke="#111" stroke-width="0.8"/><circle cx="321.28" cy="85.04" r="1.4" fill="none" stroke="#111" stroke-width="0.8"/><circle cx="329.7" cy="82.68" r="1.4" fill="none" stroke="#111" stroke-width="0.8"/><circle cx="338.11" cy="79.19" r="1.4" fill="none" stroke="#111" stroke-width="0.8"/><circle cx="346.53" cy="71.83" r="1.4" fill="none" stroke="#111" stroke-width="0.8"/><circle cx="354.94" cy="66.64" r="1.4" fill="none" stroke="#111" stroke-width="0.8"/><circle cx="363.36" cy="62.4" r="1.4" fill="none" stroke="#111" stroke-width="0.8"/><circle cx="371.77" cy="58.15" r="1.4" fill="none" stroke="#111" stroke-width="0.8"/><rect x="378.84" y="54.92" width="2.7" height="2.7" fill="#fff" stroke="#111" stroke-width="0.8"/><circle cx="388.6" cy="48.25" r="1.4" fill="none" stroke="#111" stroke-width="0.8"/><circle cx="397.02" cy="36.45" r="1.4" fill="none" stroke="#111" stroke-width="0.8"/><circle cx="405.43" cy="28.44" r="1.4" fill="none" stroke="#111" stroke-width="0.8"/><rect x="412.5" y="24.26" width="2.7" height="2.7" fill="#fff" stroke="#111" stroke-width="0.8"/><rect x="420.91" y="23.31" width="2.7" height="2.7" fill="#fff" stroke="#111" stroke-width="0.8"/><rect x="429.33" y="20.95" width="2.7" height="2.7" fill="#fff" stroke="#111" stroke-width="0.8"/><rect x="437.74" y="18.6" width="2.7" height="2.7" fill="#fff" stroke="#111" stroke-width="0.8"/><rect x="446.15" y="16.24" width="2.7" height="2.7" fill="#fff" stroke="#111" stroke-width="0.8"/><circle cx="455.92" cy="16.64" r="1.4" fill="none" stroke="#111" stroke-width="0.8"/><circle cx="464.34" cy="15.7" r="1.4" fill="none" stroke="#111" stroke-width="0.8"/><circle cx="472.75" cy="15.23" r="1.4" fill="none" stroke="#111" stroke-width="0.8"/><circle cx="481.17" cy="15.23" r="1.4" fill="none" stroke="#111" stroke-width="0.8"/><circle cx="489.58" cy="15.23" r="1.4" fill="none" stroke="#111" stroke-width="0.8"/><circle cx="498" cy="15.23" r="1.4" fill="none" stroke="#111" stroke-width="0.8"/><circle cx="506.41" cy="15.23" r="1.4" fill="none" stroke="#111" stroke-width="0.8"/>
<path d="M304.45 86.71L306.55 88.81L304.45 90.91L302.35 88.81Z" fill="#000"/><path d="M312.87 84.5L314.97 86.6L312.87 88.7L310.77 86.6Z" fill="#000"/><path d="M321.28 81.71L323.38 83.81L321.28 85.91L319.18 83.81Z" fill="#000"/><path d="M329.7 77.75L331.8 79.85L329.7 81.95L327.6 79.85Z" fill="#000"/><path d="M338.11 70.91L340.21 73.01L338.11 75.11L336.01 73.01Z" fill="#000"/><path d="M346.53 62.89L348.63 64.99L346.53 67.09L344.43 64.99Z" fill="#000"/><path d="M354.94 58.88L357.04 60.98L354.94 63.08L352.84 60.98Z" fill="#000"/><path d="M363.36 53.93L365.46 56.03L363.36 58.13L361.25 56.03Z" fill="#000"/><path d="M371.77 50.39L373.87 52.49L371.77 54.59L369.67 52.49Z" fill="#000"/><path d="M380.19 43.79L382.29 45.89L380.19 47.99L378.09 45.89Z" fill="#000"/><path d="M388.6 32.47L390.7 34.57L388.6 36.67L386.5 34.57Z" fill="#000"/><path d="M397.02 22.09L399.12 24.19L397.02 26.29L394.92 24.19Z" fill="#000"/><path d="M405.43 17.85L407.53 19.95L405.43 22.05L403.33 19.95Z" fill="#000"/><path d="M413.85 16.43L415.95 18.53L413.85 20.63L411.75 18.53Z" fill="#000"/><path d="M422.26 14.31L424.36 16.41L422.26 18.51L420.16 16.41Z" fill="#000"/><path d="M430.68 13.13L432.78 15.23L430.68 17.33L428.58 15.23Z" fill="#000"/><path d="M439.09 12.66L441.19 14.76L439.09 16.86L436.99 14.76Z" fill="#000"/><path d="M447.5 12.42L449.61 14.52L447.5 16.62L445.4 14.52Z" fill="#000"/><path d="M455.92 12.66L458.02 14.76L455.92 16.86L453.82 14.76Z" fill="#000"/><path d="M464.34 13.13L466.44 15.23L464.34 17.33L462.24 15.23Z" fill="#000"/><path d="M472.75 13.6L474.85 15.7L472.75 17.8L470.65 15.7Z" fill="#000"/><path d="M481.17 15.01L483.27 17.11L481.17 19.21L479.06 17.11Z" fill="#000"/><path d="M489.58 15.49L491.68 17.59L489.58 19.69L487.48 17.59Z" fill="#000"/><path d="M498 16.9L500.1 19L498 21.1L495.89 19Z" fill="#000"/><path d="M506.41 18.32L508.51 20.42L506.41 22.52L504.31 20.42Z" fill="#000"/><path d="M397.02 21.83V26.55M395.72 21.83H398.32M395.72 26.55H398.32" stroke="#000" stroke-width="0.6"/>
<path d="M304.45 89.76H506.41" fill="none" stroke="#b84646" stroke-width="1.6"/>
<path d="M304.45 87.68 306.55 87.67 308.66 87.66 310.76 87.65 312.87 87.64 314.97 87.63 317.07 87.62 319.18 87.61 321.28 87.6 323.38 87.59 325.49 87.57 327.59 87.56 329.7 87.54 331.8 87.52 333.9 87.5 336.01 87.48 338.11 87.46 340.21 87.43 342.32 87.4 344.42 87.38 346.53 87.35 348.63 87.31 350.73 87.28 352.84 87.24 354.94 87.2 357.04 87.16 359.15 87.12 361.25 87.07 363.36 87.02 365.46 86.97 367.56 86.91 369.67 86.85 371.77 86.79 373.87 86.73 375.98 86.66 378.08 86.58 380.19 86.51 382.29 86.43 384.39 86.34 386.5 86.25 388.6 86.16 390.7 86.07 392.81 85.96 394.91 85.86 397.02 85.75 399.12 85.63 401.22 85.51 403.33 85.39 405.43 85.26 407.53 85.12 409.64 84.98 411.74 84.83 413.85 84.68 415.95 84.52 418.05 84.36 420.16 84.19 422.26 84.02 424.36 83.84 426.47 83.65 428.57 83.46 430.68 83.26 432.78 83.05 434.88 82.84 436.99 82.62 439.09 82.4 441.19 82.17 443.3 81.93 445.4 81.69 447.5 81.44 449.61 81.18 451.71 80.92 453.82 80.65 455.92 80.37 458.02 80.09 460.13 79.8 462.23 79.51 464.34 79.2 466.44 78.89 468.54 78.58 470.65 78.26 472.75 77.93 474.85 77.59 476.96 77.25 479.06 76.9 481.17 76.55 483.27 76.19 485.37 75.82 487.48 75.45 489.58 75.07 491.68 74.69 493.79 74.3 495.89 73.9 498 73.5 500.1 73.09 502.2 72.67 504.31 72.25 506.41 71.83" fill="none" stroke="#c8d820" stroke-width="1.15"/>
<path d="M304.45 87.88 306.55 87.75 308.66 87.63 310.76 87.49 312.87 87.35 314.97 87.2 317.07 87.04 319.18 86.87 321.28 86.7 323.38 86.52 325.49 86.32 327.59 86.13 329.7 85.92 331.8 85.7 333.9 85.48 336.01 85.24 338.11 85 340.21 84.75 342.32 84.49 344.42 84.22 346.53 83.94 348.63 83.65 350.73 83.35 352.84 83.05 354.94 82.73 357.04 82.41 359.15 82.08 361.25 81.74 363.36 81.39 365.46 81.03 367.56 80.66 369.67 80.29 371.77 79.9 373.87 79.51 375.98 79.11 378.08 78.71 380.19 78.29 382.29 77.87 384.39 77.44 386.5 77.01 388.6 76.56 390.7 76.12 392.81 75.66 394.91 75.2 397.02 74.73 399.12 74.26 401.22 73.78 403.33 73.3 405.43 72.81 407.53 72.32 409.64 71.82 411.74 71.32 413.85 70.81 415.95 70.31 418.05 69.79 420.16 69.28 422.26 68.76 424.36 68.24 426.47 67.71 428.57 67.19 430.68 66.66 432.78 66.13 434.88 65.6 436.99 65.07 439.09 64.54 441.19 64 443.3 63.47 445.4 62.94 447.5 62.4 449.61 61.87 451.71 61.33 453.82 60.8 455.92 60.27 458.02 59.74 460.13 59.21 462.23 58.68 464.34 58.15 466.44 57.62 468.54 57.1 470.65 56.58 472.75 56.06 474.85 55.54 476.96 55.03 479.06 54.51 481.17 54.01 483.27 53.5 485.37 53 487.48 52.49 489.58 52 491.68 51.5 493.79 51.01 495.89 50.53 498 50.04 500.1 49.57 502.2 49.09 504.31 48.62 506.41 48.15" fill="none" stroke="#8a1c26" stroke-width="1.15"/>
<path d="M304.45 87.25 306.55 87.19 308.66 87.13 310.76 87.04 312.87 86.94 314.97 86.81 317.07 86.66 319.18 86.48 321.28 86.28 323.38 86.04 325.49 85.76 327.59 85.45 329.7 85.1 331.8 84.71 333.9 84.27 336.01 83.79 338.11 83.26 340.21 82.69 342.32 82.08 344.42 81.42 346.53 80.71 348.63 79.96 350.73 79.18 352.84 78.35 354.94 77.48 357.04 76.58 359.15 75.65 361.25 74.69 363.36 73.7 365.46 72.69 367.56 71.66 369.67 70.61 371.77 69.54 373.87 68.47 375.98 67.38 378.08 66.29 380.19 65.2 382.29 64.11 384.39 63.02 386.5 61.94 388.6 60.86 390.7 59.8 392.81 58.74 394.91 57.7 397.02 56.67 399.12 55.67 401.22 54.67 403.33 53.7 405.43 52.75 407.53 51.82 409.64 50.91 411.74 50.02 413.85 49.15 415.95 48.31 418.05 47.49 420.16 46.7 422.26 45.93 424.36 45.18 426.47 44.45 428.57 43.75 430.68 43.08 432.78 42.42 434.88 41.79 436.99 41.18 439.09 40.59 441.19 40.02 443.3 39.48 445.4 38.95 447.5 38.45 449.61 37.96 451.71 37.49 453.82 37.04 455.92 36.61 458.02 36.2 460.13 35.8 462.23 35.42 464.34 35.06 466.44 34.71 468.54 34.37 470.65 34.05 472.75 33.74 474.85 33.45 476.96 33.17 479.06 32.9 481.17 32.64 483.27 32.4 485.37 32.16 487.48 31.94 489.58 31.72 491.68 31.52 493.79 31.32 495.89 31.13 498 30.95 500.1 30.78 502.2 30.62 504.31 30.46 506.41 30.32" fill="none" stroke="#ff8c1a" stroke-width="1.15"/>
<path d="M304.45 87.68 306.55 87.55 308.66 87.39 310.76 87.2 312.87 86.97 314.97 86.7 317.07 86.39 319.18 86.02 321.28 85.61 323.38 85.15 325.49 84.63 327.59 84.05 329.7 83.41 331.8 82.71 333.9 81.95 336.01 81.14 338.11 80.26 340.21 79.32 342.32 78.33 344.42 77.29 346.53 76.19 348.63 75.05 350.73 73.87 352.84 72.64 354.94 71.38 357.04 70.09 359.15 68.76 361.25 67.42 363.36 66.06 365.46 64.68 367.56 63.29 369.67 61.9 371.77 60.5 373.87 59.11 375.98 57.72 378.08 56.34 380.19 54.97 382.29 53.61 384.39 52.27 386.5 50.95 388.6 49.65 390.7 48.38 392.81 47.12 394.91 45.9 397.02 44.7 399.12 43.53 401.22 42.4 403.33 41.29 405.43 40.21 407.53 39.16 409.64 38.15 411.74 37.16 413.85 36.21 415.95 35.29 418.05 34.4 420.16 33.54 422.26 32.71 424.36 31.91 426.47 31.14 428.57 30.4 430.68 29.69 432.78 29.01 434.88 28.35 436.99 27.72 439.09 27.11 441.19 26.53 443.3 25.97 445.4 25.44 447.5 24.93 449.61 24.44 451.71 23.97 453.82 23.52 455.92 23.09 458.02 22.68 460.13 22.29 462.23 21.92 464.34 21.56 466.44 21.22 468.54 20.9 470.65 20.58 472.75 20.29 474.85 20.01 476.96 19.74 479.06 19.48 481.17 19.23 483.27 19 485.37 18.78 487.48 18.57 489.58 18.36 491.68 18.17 493.79 17.99 495.89 17.81 498 17.65 500.1 17.49 502.2 17.34 504.31 17.2 506.41 17.06" fill="none" stroke="#aa6630" stroke-width="1.15"/>
<path d="M304.45 86.69 306.55 86.62 308.66 86.53 310.76 86.41 312.87 86.26 314.97 86.06 317.07 85.82 319.18 85.52 321.28 85.15 323.38 84.72 325.49 84.22 327.59 83.63 329.7 82.96 331.8 82.21 333.9 81.37 336.01 80.44 338.11 79.42 340.21 78.31 342.32 77.12 344.42 75.86 346.53 74.51 348.63 73.1 350.73 71.63 352.84 70.1 354.94 68.53 357.04 66.91 359.15 65.26 361.25 63.59 363.36 61.9 365.46 60.19 367.56 58.49 369.67 56.79 371.77 55.09 373.87 53.41 375.98 51.75 378.08 50.12 380.19 48.51 382.29 46.94 384.39 45.4 386.5 43.9 388.6 42.44 390.7 41.03 392.81 39.66 394.91 38.33 397.02 37.05 399.12 35.81 401.22 34.62 403.33 33.48 405.43 32.38 407.53 31.33 409.64 30.32 411.74 29.36 413.85 28.44 415.95 27.56 418.05 26.72 420.16 25.92 422.26 25.16 424.36 24.44 426.47 23.75 428.57 23.1 430.68 22.48 432.78 21.89 434.88 21.33 436.99 20.8 439.09 20.3 441.19 19.83 443.3 19.38 445.4 18.95 447.5 18.55 449.61 18.17 451.71 17.81 453.82 17.47 455.92 17.15 458.02 16.85 460.13 16.57 462.23 16.3 464.34 16.04 466.44 15.8 468.54 15.58 470.65 15.36 472.75 15.16 474.85 14.97 476.96 14.79 479.06 14.63 481.17 14.47 483.27 14.32 485.37 14.18 487.48 14.05 489.58 13.92 491.68 13.8 493.79 13.69 495.89 13.59 498 13.49 500.1 13.4 502.2 13.31 504.31 13.23 506.41 13.15" fill="none" stroke="#94a020" stroke-width="1.15"/>
<path d="M304.45 85.39 306.55 85.37 308.66 85.32 310.76 85.26 312.87 85.16 314.97 85.02 317.07 84.83 319.18 84.57 321.28 84.24 323.38 83.81 325.49 83.28 327.59 82.64 329.7 81.87 331.8 80.98 333.9 79.95 336.01 78.79 338.11 77.49 340.21 76.07 342.32 74.53 344.42 72.88 346.53 71.13 348.63 69.29 350.73 67.38 352.84 65.41 354.94 63.4 357.04 61.36 359.15 59.31 361.25 57.25 363.36 55.2 365.46 53.17 367.56 51.17 369.67 49.21 371.77 47.3 373.87 45.44 375.98 43.64 378.08 41.9 380.19 40.22 382.29 38.62 384.39 37.08 386.5 35.61 388.6 34.21 390.7 32.88 392.81 31.62 394.91 30.43 397.02 29.3 399.12 28.24 401.22 27.24 403.33 26.29 405.43 25.41 407.53 24.57 409.64 23.79 411.74 23.06 413.85 22.38 415.95 21.74 418.05 21.14 420.16 20.58 422.26 20.06 424.36 19.57 426.47 19.12 428.57 18.7 430.68 18.31 432.78 17.94 434.88 17.6 436.99 17.28 439.09 16.99 441.19 16.72 443.3 16.46 445.4 16.23 447.5 16.01 449.61 15.81 451.71 15.62 453.82 15.44 455.92 15.28 458.02 15.13 460.13 14.99 462.23 14.86 464.34 14.74 466.44 14.63 468.54 14.53 470.65 14.43 472.75 14.34 474.85 14.26 476.96 14.19 479.06 14.12 481.17 14.05 483.27 13.99 485.37 13.93 487.48 13.88 489.58 13.84 491.68 13.79 493.79 13.75 495.89 13.71 498 13.68 500.1 13.64 502.2 13.61 504.31 13.59 506.41 13.56" fill="none" stroke="#a81c2a" stroke-width="1.15"/>
<circle cx="518.4" cy="11.25" r="1.75" fill="#000"/>
<text class="lg" x="527.2" y="13" xml:space="preserve" textLength="10.38" lengthAdjust="spacingAndGlyphs"> MIC</text>
<circle cx="518.4" cy="17.2" r="1.4" fill="none" stroke="#111" stroke-width="0.8"/>
<text class="lg" x="527.2" y="18.95" xml:space="preserve" textLength="16.57" lengthAdjust="spacingAndGlyphs">1/2 MIC</text>
<path d="M516.5 21.85H520.3L518.4 25.05Z" fill="#000"/>
<text class="lg" x="527.2" y="24.9" xml:space="preserve" textLength="16.57" lengthAdjust="spacingAndGlyphs">1/4 MIC</text>
<path d="M516.75 30.3H520.05L518.4 27.5Z" fill="#fff" stroke="#111" stroke-width="0.8"/>
<text class="lg" x="527.2" y="30.85" xml:space="preserve" textLength="16.57" lengthAdjust="spacingAndGlyphs">1/8 MIC</text>
<rect x="516.8" y="33.45" width="3.2" height="3.2" fill="#000"/>
<text class="lg" x="527.2" y="36.8" xml:space="preserve" textLength="19" lengthAdjust="spacingAndGlyphs">1/16 MIC</text>
<rect x="517.05" y="39.65" width="2.7" height="2.7" fill="#fff" stroke="#111" stroke-width="0.8"/>
<text class="lg" x="527.2" y="42.75" xml:space="preserve" textLength="19" lengthAdjust="spacingAndGlyphs">1/32 MIC</text>
<path d="M518.4 44.85L520.5 46.95L518.4 49.05L516.3 46.95Z" fill="#000"/>
<text class="lg" x="527.2" y="48.7" xml:space="preserve" textLength="6.74" lengthAdjust="spacingAndGlyphs">CK</text>
<text class="gz" x="513.5" y="57.2">Gompertz:</text>
<path d="M513.1 64.1H524.4" stroke="#b84646" stroke-width="1.45"/>
<text class="lg" x="527.2" y="65.95" textLength="12.8" lengthAdjust="spacingAndGlyphs">1 MIC</text>
<path d="M513.1 70.05H524.4" stroke="#c8d820" stroke-width="1.45"/>
<text class="lg" x="527.2" y="71.9" textLength="16.57" lengthAdjust="spacingAndGlyphs">1/2 MIC</text>
<path d="M513.1 76H524.4" stroke="#8a1c26" stroke-width="1.45"/>
<text class="lg" x="527.2" y="77.85" textLength="16.57" lengthAdjust="spacingAndGlyphs">1/4 MIC</text>
<path d="M513.1 81.95H524.4" stroke="#ff8c1a" stroke-width="1.45"/>
<text class="lg" x="527.2" y="83.8" textLength="16.57" lengthAdjust="spacingAndGlyphs">1/8 MIC</text>
<path d="M513.1 87.9H524.4" stroke="#aa6630" stroke-width="1.45"/>
<text class="lg" x="527.2" y="89.75" textLength="19" lengthAdjust="spacingAndGlyphs">1/16 MIC</text>
<path d="M513.1 93.85H524.4" stroke="#94a020" stroke-width="1.45"/>
<text class="lg" x="527.2" y="95.7" textLength="19" lengthAdjust="spacingAndGlyphs">1/32 MIC</text>
<path d="M513.1 99.8H524.4" stroke="#a81c2a" stroke-width="1.45"/>
<text class="lg" x="527.2" y="101.65" textLength="6.74" lengthAdjust="spacingAndGlyphs">CK</text></g>
<g><path d="M27.35 125.79V215.35H229.91" fill="none" stroke="#a0a0a0" stroke-width="1.15"/>
<path d="M25.35 210.7H27.35M25.35 201.27H27.35M25.35 191.83H27.35M25.35 182.4H27.35M25.35 172.96H27.35M25.35 163.53H27.35M25.35 154.1H27.35M25.35 144.66H27.35M25.35 135.23H27.35M25.35 125.79H27.35M27.35 215.35V217.15M35.79 215.35V217.15M44.23 215.35V217.15M52.67 215.35V217.15M61.11 215.35V217.15M69.55 215.35V217.15M77.99 215.35V217.15M86.43 215.35V217.15M94.87 215.35V217.15M103.31 215.35V217.15M111.75 215.35V217.15M120.19 215.35V217.15M128.63 215.35V217.15M137.07 215.35V217.15M145.51 215.35V217.15M153.95 215.35V217.15M162.39 215.35V217.15M170.83 215.35V217.15M179.27 215.35V217.15M187.71 215.35V217.15M196.15 215.35V217.15M204.59 215.35V217.15M213.03 215.35V217.15M221.47 215.35V217.15M229.91 215.35V217.15" stroke="#a0a0a0" stroke-width="0.8"/>
<g class="tl"><text x="23.15" y="212.7" text-anchor="end">0.0</text><text x="23.15" y="203.27" text-anchor="end">0.2</text><text x="23.15" y="193.83" text-anchor="end">0.4</text><text x="23.15" y="184.4" text-anchor="end">0.6</text><text x="23.15" y="174.96" text-anchor="end">0.8</text><text x="23.15" y="165.53" text-anchor="end">1.0</text><text x="23.15" y="156.1" text-anchor="end">1.2</text><text x="23.15" y="146.66" text-anchor="end">1.4</text><text x="23.15" y="137.23" text-anchor="end">1.6</text><text x="23.15" y="127.79" text-anchor="end">1.8</text><text x="27.35" y="225.3" text-anchor="middle">0</text><text x="35.79" y="225.3" text-anchor="middle">1</text><text x="44.23" y="225.3" text-anchor="middle">2</text><text x="52.67" y="225.3" text-anchor="middle">3</text><text x="61.11" y="225.3" text-anchor="middle">4</text><text x="69.55" y="225.3" text-anchor="middle">5</text><text x="77.99" y="225.3" text-anchor="middle">6</text><text x="86.43" y="225.3" text-anchor="middle">7</text><text x="94.87" y="225.3" text-anchor="middle">8</text><text x="103.31" y="225.3" text-anchor="middle">9</text><text x="111.75" y="225.3" text-anchor="middle">10</text><text x="120.19" y="225.3" text-anchor="middle">11</text><text x="128.63" y="225.3" text-anchor="middle">12</text><text x="137.07" y="225.3" text-anchor="middle">13</text><text x="145.51" y="225.3" text-anchor="middle">14</text><text x="153.95" y="225.3" text-anchor="middle">15</text><text x="162.39" y="225.3" text-anchor="middle">16</text><text x="170.83" y="225.3" text-anchor="middle">17</text><text x="179.27" y="225.3" text-anchor="middle">18</text><text x="187.71" y="225.3" text-anchor="middle">19</text><text x="196.15" y="225.3" text-anchor="middle">20</text><text x="204.59" y="225.3" text-anchor="middle">21</text><text x="213.03" y="225.3" text-anchor="middle">22</text><text x="221.47" y="225.3" text-anchor="middle">23</text><text x="229.91" y="225.3" text-anchor="middle">24</text></g>
<text class="xt" x="128.5" y="235.6" text-anchor="middle">Incubation Time / h</text>
<g transform="translate(7.8 180.9) rotate(-90)"><text class="yt" x="0" y="0" textLength="8.6" lengthAdjust="spacingAndGlyphs">OD</text><text class="sub" x="9.3" y="0.8" textLength="11.3" lengthAdjust="spacingAndGlyphs">600nm</text></g>
<text class="pl" x="55" y="141.7">(C)</text>
<circle cx="27.35" cy="209.76" r="1.75" fill="#000"/><circle cx="35.79" cy="209.76" r="1.75" fill="#000"/><circle cx="44.23" cy="209.76" r="1.75" fill="#000"/><circle cx="52.67" cy="209.76" r="1.75" fill="#000"/><circle cx="61.11" cy="209.76" r="1.75" fill="#000"/><circle cx="69.55" cy="209.76" r="1.75" fill="#000"/><circle cx="77.99" cy="209.76" r="1.75" fill="#000"/><circle cx="86.43" cy="209.76" r="1.75" fill="#000"/><circle cx="94.87" cy="209.76" r="1.75" fill="#000"/><circle cx="103.31" cy="209.76" r="1.75" fill="#000"/><circle cx="111.75" cy="209.76" r="1.75" fill="#000"/><circle cx="120.19" cy="209.76" r="1.75" fill="#000"/><circle cx="128.63" cy="209.76" r="1.75" fill="#000"/><circle cx="137.07" cy="209.76" r="1.75" fill="#000"/><circle cx="145.51" cy="209.76" r="1.75" fill="#000"/><circle cx="153.95" cy="209.76" r="1.75" fill="#000"/><circle cx="162.39" cy="209.76" r="1.75" fill="#000"/><circle cx="170.83" cy="209.76" r="1.75" fill="#000"/><circle cx="179.27" cy="209.76" r="1.75" fill="#000"/><circle cx="187.71" cy="209.76" r="1.75" fill="#000"/><circle cx="196.15" cy="209.76" r="1.75" fill="#000"/><circle cx="204.59" cy="209.76" r="1.75" fill="#000"/><circle cx="213.03" cy="209.76" r="1.75" fill="#000"/><circle cx="221.47" cy="209.76" r="1.75" fill="#000"/><circle cx="229.91" cy="209.76" r="1.75" fill="#000"/>
<circle cx="27.35" cy="208.34" r="1.4" fill="none" stroke="#111" stroke-width="0.8"/><circle cx="35.79" cy="207.4" r="1.4" fill="none" stroke="#111" stroke-width="0.8"/><circle cx="44.23" cy="205.98" r="1.4" fill="none" stroke="#111" stroke-width="0.8"/><circle cx="52.67" cy="203.62" r="1.4" fill="none" stroke="#111" stroke-width="0.8"/><circle cx="61.11" cy="201.27" r="1.4" fill="none" stroke="#111" stroke-width="0.8"/><circle cx="69.55" cy="197.96" r="1.4" fill="none" stroke="#111" stroke-width="0.8"/><circle cx="77.99" cy="197.02" r="1.4" fill="none" stroke="#111" stroke-width="0.8"/><circle cx="86.43" cy="195.61" r="1.4" fill="none" stroke="#111" stroke-width="0.8"/><circle cx="94.87" cy="195.13" r="1.4" fill="none" stroke="#111" stroke-width="0.8"/><circle cx="103.31" cy="194.66" r="1.4" fill="none" stroke="#111" stroke-width="0.8"/><circle cx="111.75" cy="194" r="1.4" fill="none" stroke="#111" stroke-width="0.8"/><circle cx="120.19" cy="193.95" r="1.4" fill="none" stroke="#111" stroke-width="0.8"/><circle cx="128.63" cy="193.72" r="1.4" fill="none" stroke="#111" stroke-width="0.8"/><circle cx="137.07" cy="193.95" r="1.4" fill="none" stroke="#111" stroke-width="0.8"/><circle cx="145.51" cy="193.95" r="1.4" fill="none" stroke="#111" stroke-width="0.8"/><circle cx="153.95" cy="193.95" r="1.4" fill="none" stroke="#111" stroke-width="0.8"/><circle cx="162.39" cy="193.95" r="1.4" fill="none" stroke="#111" stroke-width="0.8"/><circle cx="170.83" cy="193.95" r="1.4" fill="none" stroke="#111" stroke-width="0.8"/><circle cx="179.27" cy="193.95" r="1.4" fill="none" stroke="#111" stroke-width="0.8"/><circle cx="187.71" cy="193.95" r="1.4" fill="none" stroke="#111" stroke-width="0.8"/><circle cx="196.15" cy="193.95" r="1.4" fill="none" stroke="#111" stroke-width="0.8"/><circle cx="204.59" cy="193.95" r="1.4" fill="none" stroke="#111" stroke-width="0.8"/><circle cx="213.03" cy="193.95" r="1.4" fill="none" stroke="#111" stroke-width="0.8"/><circle cx="221.47" cy="193.95" r="1.4" fill="none" stroke="#111" stroke-width="0.8"/><circle cx="229.91" cy="193.95" r="1.4" fill="none" stroke="#111" stroke-width="0.8"/>
<path d="M25.45 207.51H29.25L27.35 210.71Z" fill="#000"/><path d="M33.89 207.04H37.69L35.79 210.24Z" fill="#000"/><path d="M42.33 206.57H46.13L44.23 209.77Z" fill="#000"/><path d="M50.77 205.63H54.57L52.67 208.83Z" fill="#000"/><path d="M59.21 204.68H63.01L61.11 207.88Z" fill="#000"/><path d="M67.65 203.74H71.45L69.55 206.94Z" fill="#000"/><path d="M76.09 202.32H79.89L77.99 205.52Z" fill="#000"/><path d="M84.53 198.32H88.33L86.43 201.52Z" fill="#000"/><path d="M92.97 197.28H96.77L94.87 200.48Z" fill="#000"/><path d="M101.41 196.19H105.21L103.31 199.39Z" fill="#000"/><path d="M109.85 194.31H113.65L111.75 197.51Z" fill="#000"/><path d="M118.29 193.83H122.09L120.19 197.03Z" fill="#000"/><path d="M126.73 191.29H130.53L128.63 194.49Z" fill="#000"/><path d="M135.17 190.3H138.97L137.07 193.5Z" fill="#000"/><path d="M143.61 187.7H147.41L145.51 190.9Z" fill="#000"/><path d="M152.05 185.81H155.85L153.95 189.01Z" fill="#000"/><path d="M160.49 183.08H164.29L162.39 186.28Z" fill="#000"/><path d="M168.93 178.27H172.73L170.83 181.47Z" fill="#000"/><path d="M177.37 175.72H181.17L179.27 178.92Z" fill="#000"/><path d="M185.81 172.61H189.61L187.71 175.81Z" fill="#000"/><path d="M194.25 170.72H198.05L196.15 173.92Z" fill="#000"/><path d="M202.69 169.12H206.49L204.59 172.32Z" fill="#000"/><path d="M211.13 166.95H214.93L213.03 170.15Z" fill="#000"/><path d="M219.57 164.31H223.37L221.47 167.51Z" fill="#000"/><path d="M228.01 160.11H231.81L229.91 163.31Z" fill="#000"/>
<path d="M25.7 210.01H29L27.35 207.21Z" fill="#fff" stroke="#111" stroke-width="0.8"/><path d="M34.14 209.07H37.44L35.79 206.27Z" fill="#fff" stroke="#111" stroke-width="0.8"/><path d="M42.58 207.18H45.88L44.23 204.38Z" fill="#fff" stroke="#111" stroke-width="0.8"/><path d="M51.02 203.88H54.32L52.67 201.08Z" fill="#fff" stroke="#111" stroke-width="0.8"/><path d="M59.46 200.11H62.76L61.11 197.31Z" fill="#fff" stroke="#111" stroke-width="0.8"/><path d="M67.9 195.39H71.2L69.55 192.59Z" fill="#fff" stroke="#111" stroke-width="0.8"/><path d="M76.34 190.67H79.64L77.99 187.87Z" fill="#fff" stroke="#111" stroke-width="0.8"/><path d="M84.78 185.01H88.08L86.43 182.21Z" fill="#fff" stroke="#111" stroke-width="0.8"/><path d="M93.22 181.71H96.52L94.87 178.91Z" fill="#fff" stroke="#111" stroke-width="0.8"/><path d="M101.66 179.35H104.96L103.31 176.55Z" fill="#fff" stroke="#111" stroke-width="0.8"/><path d="M110.1 175.58H113.4L111.75 172.78Z" fill="#fff" stroke="#111" stroke-width="0.8"/><path d="M118.54 173.69H121.84L120.19 170.89Z" fill="#fff" stroke="#111" stroke-width="0.8"/><path d="M126.98 167.56H130.28L128.63 164.76Z" fill="#fff" stroke="#111" stroke-width="0.8"/><path d="M135.42 162.37H138.72L137.07 159.57Z" fill="#fff" stroke="#111" stroke-width="0.8"/><path d="M143.86 157.65H147.16L145.51 154.85Z" fill="#fff" stroke="#111" stroke-width="0.8"/><path d="M152.3 151.99H155.6L153.95 149.19Z" fill="#fff" stroke="#111" stroke-width="0.8"/><path d="M160.74 151.99H164.04L162.39 149.19Z" fill="#fff" stroke="#111" stroke-width="0.8"/><path d="M169.18 148.22H172.48L170.83 145.42Z" fill="#fff" stroke="#111" stroke-width="0.8"/><path d="M177.62 146.81H180.92L179.27 144.01Z" fill="#fff" stroke="#111" stroke-width="0.8"/><path d="M186.06 147.75H189.36L187.71 144.95Z" fill="#fff" stroke="#111" stroke-width="0.8"/><path d="M194.5 150.58H197.8L196.15 147.78Z" fill="#fff" stroke="#111" stroke-width="0.8"/><path d="M202.94 151.99H206.24L204.59 149.19Z" fill="#fff" stroke="#111" stroke-width="0.8"/><path d="M211.38 151.99H214.68L213.03 149.19Z" fill="#fff" stroke="#111" stroke-width="0.8"/><path d="M219.82 150.11H223.12L221.47 147.31Z" fill="#fff" stroke="#111" stroke-width="0.8"/><path d="M228.26 149.16H231.56L229.91 146.36Z" fill="#fff" stroke="#111" stroke-width="0.8"/>
<rect x="25.75" y="207.21" width="3.2" height="3.2" fill="#000"/><rect x="34.19" y="205.8" width="3.2" height="3.2" fill="#000"/><rect x="42.63" y="203.44" width="3.2" height="3.2" fill="#000"/><rect x="51.07" y="199.67" width="3.2" height="3.2" fill="#000"/><rect x="59.51" y="194.95" width="3.2" height="3.2" fill="#000"/><rect x="67.95" y="190.23" width="3.2" height="3.2" fill="#000"/><rect x="76.39" y="184.57" width="3.2" height="3.2" fill="#000"/><rect x="84.83" y="179.85" width="3.2" height="3.2" fill="#000"/><rect x="93.27" y="175.42" width="3.2" height="3.2" fill="#000"/><rect x="101.71" y="169.48" width="3.2" height="3.2" fill="#000"/><rect x="110.15" y="162.87" width="3.2" height="3.2" fill="#000"/><rect x="118.59" y="162.87" width="3.2" height="3.2" fill="#000"/><rect x="127.03" y="159.57" width="3.2" height="3.2" fill="#000"/><rect x="135.47" y="156.27" width="3.2" height="3.2" fill="#000"/><rect x="143.91" y="152.97" width="3.2" height="3.2" fill="#000"/><rect x="152.35" y="149.67" width="3.2" height="3.2" fill="#000"/><rect x="160.79" y="143.06" width="3.2" height="3.2" fill="#000"/><rect x="169.23" y="138.34" width="3.2" height="3.2" fill="#000"/><rect x="177.67" y="135.99" width="3.2" height="3.2" fill="#000"/><rect x="186.11" y="135.99" width="3.2" height="3.2" fill="#000"/><rect x="194.55" y="136.93" width="3.2" height="3.2" fill="#000"/><rect x="202.99" y="137.4" width="3.2" height="3.2" fill="#000"/><rect x="211.43" y="138.34" width="3.2" height="3.2" fill="#000"/><rect x="219.87" y="139.76" width="3.2" height="3.2" fill="#000"/><rect x="228.31" y="140.7" width="3.2" height="3.2" fill="#000"/>
<rect x="26" y="207.46" width="2.7" height="2.7" fill="#fff" stroke="#111" stroke-width="0.8"/><rect x="34.44" y="206.05" width="2.7" height="2.7" fill="#fff" stroke="#111" stroke-width="0.8"/><rect x="42.88" y="203.22" width="2.7" height="2.7" fill="#fff" stroke="#111" stroke-width="0.8"/><rect x="51.32" y="198.97" width="2.7" height="2.7" fill="#fff" stroke="#111" stroke-width="0.8"/><rect x="59.76" y="194.26" width="2.7" height="2.7" fill="#fff" stroke="#111" stroke-width="0.8"/><rect x="68.2" y="188.12" width="2.7" height="2.7" fill="#fff" stroke="#111" stroke-width="0.8"/><rect x="76.64" y="182.65" width="2.7" height="2.7" fill="#fff" stroke="#111" stroke-width="0.8"/><rect x="85.08" y="178.22" width="2.7" height="2.7" fill="#fff" stroke="#111" stroke-width="0.8"/><rect x="93.52" y="171.14" width="2.7" height="2.7" fill="#fff" stroke="#111" stroke-width="0.8"/><rect x="101.96" y="168.78" width="2.7" height="2.7" fill="#fff" stroke="#111" stroke-width="0.8"/><rect x="110.4" y="165.01" width="2.7" height="2.7" fill="#fff" stroke="#111" stroke-width="0.8"/><rect x="118.84" y="155.58" width="2.7" height="2.7" fill="#fff" stroke="#111" stroke-width="0.8"/><rect x="127.28" y="144.73" width="2.7" height="2.7" fill="#fff" stroke="#111" stroke-width="0.8"/><rect x="135.72" y="138.59" width="2.7" height="2.7" fill="#fff" stroke="#111" stroke-width="0.8"/><rect x="144.16" y="137.65" width="2.7" height="2.7" fill="#fff" stroke="#111" stroke-width="0.8"/><rect x="152.6" y="136.24" width="2.7" height="2.7" fill="#fff" stroke="#111" stroke-width="0.8"/><rect x="161.04" y="135.29" width="2.7" height="2.7" fill="#fff" stroke="#111" stroke-width="0.8"/><rect x="169.48" y="134.82" width="2.7" height="2.7" fill="#fff" stroke="#111" stroke-width="0.8"/><rect x="177.92" y="134.82" width="2.7" height="2.7" fill="#fff" stroke="#111" stroke-width="0.8"/><rect x="186.36" y="135.29" width="2.7" height="2.7" fill="#fff" stroke="#111" stroke-width="0.8"/><rect x="194.8" y="135.76" width="2.7" height="2.7" fill="#fff" stroke="#111" stroke-width="0.8"/><rect x="203.24" y="136.24" width="2.7" height="2.7" fill="#fff" stroke="#111" stroke-width="0.8"/><rect x="211.68" y="136.24" width="2.7" height="2.7" fill="#fff" stroke="#111" stroke-width="0.8"/><rect x="220.12" y="136.24" width="2.7" height="2.7" fill="#fff" stroke="#111" stroke-width="0.8"/><rect x="228.56" y="136.24" width="2.7" height="2.7" fill="#fff" stroke="#111" stroke-width="0.8"/>
<path d="M27.35 206.71L29.45 208.81L27.35 210.91L25.25 208.81Z" fill="#000"/><path d="M35.79 204.5L37.89 206.6L35.79 208.7L33.69 206.6Z" fill="#000"/><path d="M44.23 201.71L46.33 203.81L44.23 205.91L42.13 203.81Z" fill="#000"/><path d="M52.67 197.75L54.77 199.85L52.67 201.95L50.57 199.85Z" fill="#000"/><path d="M61.11 190.91L63.21 193.01L61.11 195.11L59.01 193.01Z" fill="#000"/><path d="M69.55 182.89L71.65 184.99L69.55 187.09L67.45 184.99Z" fill="#000"/><path d="M77.99 178.88L80.09 180.98L77.99 183.08L75.89 180.98Z" fill="#000"/><path d="M86.43 173.93L88.53 176.03L86.43 178.13L84.33 176.03Z" fill="#000"/><path d="M94.87 170.39L96.97 172.49L94.87 174.59L92.77 172.49Z" fill="#000"/><path d="M103.31 163.79L105.41 165.89L103.31 167.99L101.21 165.89Z" fill="#000"/><path d="M111.75 152.47L113.85 154.57L111.75 156.67L109.65 154.57Z" fill="#000"/><path d="M120.19 142.09L122.29 144.19L120.19 146.29L118.09 144.19Z" fill="#000"/><path d="M128.63 137.84L130.73 139.94L128.63 142.04L126.53 139.94Z" fill="#000"/><path d="M137.07 136.43L139.17 138.53L137.07 140.63L134.97 138.53Z" fill="#000"/><path d="M145.51 134.31L147.61 136.41L145.51 138.51L143.41 136.41Z" fill="#000"/><path d="M153.95 133.13L156.05 135.23L153.95 137.33L151.85 135.23Z" fill="#000"/><path d="M162.39 132.66L164.49 134.76L162.39 136.86L160.29 134.76Z" fill="#000"/><path d="M170.83 132.42L172.93 134.52L170.83 136.62L168.73 134.52Z" fill="#000"/><path d="M179.27 132.66L181.37 134.76L179.27 136.86L177.17 134.76Z" fill="#000"/><path d="M187.71 133.13L189.81 135.23L187.71 137.33L185.61 135.23Z" fill="#000"/><path d="M196.15 133.6L198.25 135.7L196.15 137.8L194.05 135.7Z" fill="#000"/><path d="M204.59 135.01L206.69 137.11L204.59 139.21L202.49 137.11Z" fill="#000"/><path d="M213.03 135.49L215.13 137.59L213.03 139.69L210.93 137.59Z" fill="#000"/><path d="M221.47 136.9L223.57 139L221.47 141.1L219.37 139Z" fill="#000"/><path d="M229.91 138.32L232.01 140.42L229.91 142.52L227.81 140.42Z" fill="#000"/><path d="M120.19 141.83V146.55M118.89 141.83H121.49M118.89 146.55H121.49" stroke="#000" stroke-width="0.6"/>
<path d="M27.35 209.76H229.91" fill="none" stroke="#b84646" stroke-width="1.8"/>
<path d="M27.35 207.97 29.46 207.91 31.57 207.82 33.68 207.69 35.79 207.5 37.9 207.24 40.01 206.92 42.12 206.53 44.23 206.08 46.34 205.56 48.45 205 50.56 204.39 52.67 203.75 54.78 203.1 56.89 202.45 59 201.79 61.11 201.16 63.22 200.54 65.33 199.95 67.44 199.4 69.55 198.87 71.66 198.39 73.77 197.94 75.88 197.52 77.99 197.14 80.1 196.79 82.21 196.48 84.32 196.19 86.43 195.93 88.54 195.7 90.65 195.49 92.76 195.31 94.87 195.14 96.98 194.99 99.09 194.86 101.2 194.74 103.31 194.64 105.42 194.54 107.53 194.46 109.64 194.39 111.75 194.32 113.86 194.26 115.97 194.21 118.08 194.17 120.19 194.13 122.3 194.09 124.41 194.06 126.52 194.03 128.63 194.01 130.74 193.99 132.85 193.97 134.96 193.95 137.07 193.94 139.18 193.92 141.29 193.91 143.4 193.9 145.51 193.89 147.62 193.88 149.73 193.88 151.84 193.87 153.95 193.86 156.06 193.86 158.17 193.86 160.28 193.85 162.39 193.85 164.5 193.85 166.61 193.84 168.72 193.84 170.83 193.84 172.94 193.84 175.05 193.84 177.16 193.83 179.27 193.83 181.38 193.83 183.49 193.83 185.6 193.83 187.71 193.83 189.82 193.83 191.93 193.83 194.04 193.83 196.15 193.83 198.26 193.83 200.37 193.83 202.48 193.83 204.59 193.83 206.7 193.83 208.81 193.83 210.92 193.83 213.03 193.83 215.14 193.82 217.25 193.82 219.36 193.82 221.47 193.82 223.58 193.82 225.69 193.82 227.8 193.82 229.91 193.82" fill="none" stroke="#c8d820" stroke-width="1.15"/>
<path d="M27.35 208.49 29.46 208.36 31.57 208.23 33.68 208.08 35.79 207.93 37.9 207.77 40.01 207.61 42.12 207.43 44.23 207.24 46.34 207.05 48.45 206.85 50.56 206.63 52.67 206.41 54.78 206.18 56.89 205.93 59 205.68 61.11 205.42 63.22 205.14 65.33 204.86 67.44 204.56 69.55 204.26 71.66 203.94 73.77 203.61 75.88 203.28 77.99 202.93 80.1 202.57 82.21 202.2 84.32 201.82 86.43 201.43 88.54 201.03 90.65 200.61 92.76 200.19 94.87 199.76 96.98 199.32 99.09 198.86 101.2 198.4 103.31 197.93 105.42 197.45 107.53 196.96 109.64 196.46 111.75 195.95 113.86 195.43 115.97 194.91 118.08 194.37 120.19 193.83 122.3 193.28 124.41 192.72 126.52 192.16 128.63 191.59 130.74 191.01 132.85 190.42 134.96 189.83 137.07 189.23 139.18 188.63 141.29 188.02 143.4 187.41 145.51 186.79 147.62 186.17 149.73 185.55 151.84 184.91 153.95 184.28 156.06 183.64 158.17 183 160.28 182.36 162.39 181.72 164.5 181.07 166.61 180.42 168.72 179.77 170.83 179.11 172.94 178.46 175.05 177.81 177.16 177.15 179.27 176.5 181.38 175.84 183.49 175.19 185.6 174.53 187.71 173.88 189.82 173.22 191.93 172.57 194.04 171.92 196.15 171.27 198.26 170.62 200.37 169.98 202.48 169.34 204.59 168.69 206.7 168.06 208.81 167.42 210.92 166.79 213.03 166.16 215.14 165.53 217.25 164.91 219.36 164.29 221.47 163.67 223.58 163.06 225.69 162.45 227.8 161.85 229.91 161.25" fill="none" stroke="#8a1c26" stroke-width="1.15"/>
<path d="M27.35 208.08 29.46 208.01 31.57 207.92 33.68 207.8 35.79 207.65 37.9 207.46 40.01 207.23 42.12 206.95 44.23 206.63 46.34 206.25 48.45 205.8 50.56 205.3 52.67 204.73 54.78 204.1 56.89 203.39 59 202.62 61.11 201.78 63.22 200.87 65.33 199.9 67.44 198.87 69.55 197.78 71.66 196.64 73.77 195.45 75.88 194.21 77.99 192.94 80.1 191.64 82.21 190.3 84.32 188.95 86.43 187.58 88.54 186.2 90.65 184.81 92.76 183.43 94.87 182.05 96.98 180.67 99.09 179.31 101.2 177.97 103.31 176.64 105.42 175.34 107.53 174.06 109.64 172.81 111.75 171.59 113.86 170.4 115.97 169.25 118.08 168.13 120.19 167.04 122.3 165.99 124.41 164.97 126.52 163.99 128.63 163.04 130.74 162.13 132.85 161.26 134.96 160.42 137.07 159.61 139.18 158.84 141.29 158.1 143.4 157.39 145.51 156.71 147.62 156.07 149.73 155.45 151.84 154.86 153.95 154.3 156.06 153.77 158.17 153.26 160.28 152.78 162.39 152.32 164.5 151.88 166.61 151.47 168.72 151.07 170.83 150.7 172.94 150.34 175.05 150.01 177.16 149.69 179.27 149.39 181.38 149.1 183.49 148.83 185.6 148.57 187.71 148.33 189.82 148.1 191.93 147.88 194.04 147.67 196.15 147.48 198.26 147.29 200.37 147.12 202.48 146.95 204.59 146.79 206.7 146.65 208.81 146.51 210.92 146.37 213.03 146.25 215.14 146.13 217.25 146.02 219.36 145.92 221.47 145.82 223.58 145.72 225.69 145.64 227.8 145.55 229.91 145.47" fill="none" stroke="#ff8c1a" stroke-width="1.15"/>
<path d="M27.35 208.32 29.46 208.21 31.57 208.06 33.68 207.89 35.79 207.67 37.9 207.4 40.01 207.09 42.12 206.72 44.23 206.28 46.34 205.79 48.45 205.22 50.56 204.59 52.67 203.88 54.78 203.1 56.89 202.24 59 201.31 61.11 200.31 63.22 199.24 65.33 198.1 67.44 196.9 69.55 195.64 71.66 194.33 73.77 192.97 75.88 191.56 77.99 190.12 80.1 188.65 82.21 187.16 84.32 185.64 86.43 184.11 88.54 182.57 90.65 181.03 92.76 179.49 94.87 177.96 96.98 176.44 99.09 174.94 101.2 173.45 103.31 171.99 105.42 170.56 107.53 169.15 109.64 167.77 111.75 166.43 113.86 165.12 115.97 163.84 118.08 162.61 120.19 161.41 122.3 160.24 124.41 159.12 126.52 158.04 128.63 156.99 130.74 155.98 132.85 155.01 134.96 154.08 137.07 153.19 139.18 152.33 141.29 151.5 143.4 150.72 145.51 149.96 147.62 149.24 149.73 148.55 151.84 147.89 153.95 147.27 156.06 146.67 158.17 146.1 160.28 145.55 162.39 145.03 164.5 144.54 166.61 144.07 168.72 143.63 170.83 143.2 172.94 142.8 175.05 142.42 177.16 142.05 179.27 141.71 181.38 141.38 183.49 141.07 185.6 140.77 187.71 140.49 189.82 140.23 191.93 139.98 194.04 139.74 196.15 139.51 198.26 139.3 200.37 139.1 202.48 138.91 204.59 138.73 206.7 138.55 208.81 138.39 210.92 138.24 213.03 138.09 215.14 137.95 217.25 137.82 219.36 137.7 221.47 137.58 223.58 137.47 225.69 137.37 227.8 137.27 229.91 137.18" fill="none" stroke="#aa6630" stroke-width="1.15"/>
<path d="M27.35 207.72 29.46 207.65 31.57 207.54 33.68 207.41 35.79 207.23 37.9 206.99 40.01 206.7 42.12 206.33 44.23 205.88 46.34 205.35 48.45 204.72 50.56 204 52.67 203.17 54.78 202.23 56.89 201.19 59 200.04 61.11 198.79 63.22 197.45 65.33 196.01 67.44 194.49 69.55 192.9 71.66 191.24 73.77 189.52 75.88 187.76 77.99 185.96 80.1 184.14 82.21 182.3 84.32 180.45 86.43 178.61 88.54 176.77 90.65 174.96 92.76 173.17 94.87 171.4 96.98 169.68 99.09 167.99 101.2 166.35 103.31 164.76 105.42 163.22 107.53 161.73 109.64 160.29 111.75 158.91 113.86 157.58 115.97 156.31 118.08 155.1 120.19 153.93 122.3 152.83 124.41 151.77 126.52 150.77 128.63 149.82 130.74 148.91 132.85 148.05 134.96 147.24 137.07 146.47 139.18 145.75 141.29 145.06 143.4 144.42 145.51 143.81 147.62 143.23 149.73 142.69 151.84 142.18 153.95 141.7 156.06 141.25 158.17 140.82 160.28 140.42 162.39 140.05 164.5 139.7 166.61 139.37 168.72 139.06 170.83 138.77 172.94 138.5 175.05 138.24 177.16 138 179.27 137.78 181.38 137.57 183.49 137.37 185.6 137.19 187.71 137.02 189.82 136.86 191.93 136.7 194.04 136.56 196.15 136.43 198.26 136.31 200.37 136.19 202.48 136.08 204.59 135.98 206.7 135.89 208.81 135.8 210.92 135.72 213.03 135.64 215.14 135.57 217.25 135.5 219.36 135.44 221.47 135.38 223.58 135.32 225.69 135.27 227.8 135.22 229.91 135.18" fill="none" stroke="#94a020" stroke-width="1.15"/>
<path d="M27.35 205.39 29.46 205.37 31.57 205.32 33.68 205.26 35.79 205.16 37.9 205.02 40.01 204.83 42.12 204.57 44.23 204.24 46.34 203.81 48.45 203.28 50.56 202.64 52.67 201.87 54.78 200.98 56.89 199.95 59 198.79 61.11 197.49 63.22 196.07 65.33 194.53 67.44 192.88 69.55 191.13 71.66 189.29 73.77 187.38 75.88 185.41 77.99 183.4 80.1 181.36 82.21 179.31 84.32 177.25 86.43 175.2 88.54 173.17 90.65 171.17 92.76 169.21 94.87 167.3 96.98 165.44 99.09 163.64 101.2 161.9 103.31 160.22 105.42 158.62 107.53 157.08 109.64 155.61 111.75 154.21 113.86 152.88 115.97 151.62 118.08 150.43 120.19 149.3 122.3 148.24 124.41 147.24 126.52 146.29 128.63 145.41 130.74 144.57 132.85 143.79 134.96 143.06 137.07 142.38 139.18 141.74 141.29 141.14 143.4 140.58 145.51 140.06 147.62 139.57 149.73 139.12 151.84 138.7 153.95 138.31 156.06 137.94 158.17 137.6 160.28 137.28 162.39 136.99 164.5 136.72 166.61 136.46 168.72 136.23 170.83 136.01 172.94 135.81 175.05 135.62 177.16 135.44 179.27 135.28 181.38 135.13 183.49 134.99 185.6 134.86 187.71 134.74 189.82 134.63 191.93 134.53 194.04 134.43 196.15 134.34 198.26 134.26 200.37 134.19 202.48 134.12 204.59 134.05 206.7 133.99 208.81 133.93 210.92 133.88 213.03 133.84 215.14 133.79 217.25 133.75 219.36 133.71 221.47 133.68 223.58 133.64 225.69 133.61 227.8 133.59 229.91 133.56" fill="none" stroke="#a81c2a" stroke-width="1.15"/>
<circle cx="242.1" cy="131.25" r="1.75" fill="#000"/>
<text class="lg" x="250.9" y="133" xml:space="preserve" textLength="10.38" lengthAdjust="spacingAndGlyphs"> MIC</text>
<circle cx="242.1" cy="137.2" r="1.4" fill="none" stroke="#111" stroke-width="0.8"/>
<text class="lg" x="250.9" y="138.95" xml:space="preserve" textLength="16.57" lengthAdjust="spacingAndGlyphs">1/2 MIC</text>
<path d="M240.2 141.85H244L242.1 145.05Z" fill="#000"/>
<text class="lg" x="250.9" y="144.9" xml:space="preserve" textLength="16.57" lengthAdjust="spacingAndGlyphs">1/4 MIC</text>
<path d="M240.45 150.3H243.75L242.1 147.5Z" fill="#fff" stroke="#111" stroke-width="0.8"/>
<text class="lg" x="250.9" y="150.85" xml:space="preserve" textLength="16.57" lengthAdjust="spacingAndGlyphs">1/8 MIC</text>
<rect x="240.5" y="153.45" width="3.2" height="3.2" fill="#000"/>
<text class="lg" x="250.9" y="156.8" xml:space="preserve" textLength="19" lengthAdjust="spacingAndGlyphs">1/16 MIC</text>
<rect x="240.75" y="159.65" width="2.7" height="2.7" fill="#fff" stroke="#111" stroke-width="0.8"/>
<text class="lg" x="250.9" y="162.75" xml:space="preserve" textLength="19" lengthAdjust="spacingAndGlyphs">1/32 MIC</text>
<path d="M242.1 164.85L244.2 166.95L242.1 169.05L240 166.95Z" fill="#000"/>
<text class="lg" x="250.9" y="168.7" xml:space="preserve" textLength="6.74" lengthAdjust="spacingAndGlyphs">CK</text>
<text class="gz" x="237.2" y="177.2">Gompertz:</text>
<path d="M236.8 184.1H248.1" stroke="#b84646" stroke-width="1.45"/>
<text class="lg" x="250.9" y="185.95" textLength="12.8" lengthAdjust="spacingAndGlyphs">1 MIC</text>
<path d="M236.8 190.05H248.1" stroke="#c8d820" stroke-width="1.45"/>
<text class="lg" x="250.9" y="191.9" textLength="16.57" lengthAdjust="spacingAndGlyphs">1/2 MIC</text>
<path d="M236.8 196H248.1" stroke="#8a1c26" stroke-width="1.45"/>
<text class="lg" x="250.9" y="197.85" textLength="16.57" lengthAdjust="spacingAndGlyphs">1/4 MIC</text>
<path d="M236.8 201.95H248.1" stroke="#ff8c1a" stroke-width="1.45"/>
<text class="lg" x="250.9" y="203.8" textLength="16.57" lengthAdjust="spacingAndGlyphs">1/8 MIC</text>
<path d="M236.8 207.9H248.1" stroke="#aa6630" stroke-width="1.45"/>
<text class="lg" x="250.9" y="209.75" textLength="19" lengthAdjust="spacingAndGlyphs">1/16 MIC</text>
<path d="M236.8 213.85H248.1" stroke="#94a020" stroke-width="1.45"/>
<text class="lg" x="250.9" y="215.7" textLength="19" lengthAdjust="spacingAndGlyphs">1/32 MIC</text>
<path d="M236.8 219.8H248.1" stroke="#a81c2a" stroke-width="1.45"/>
<text class="lg" x="250.9" y="221.65" textLength="6.74" lengthAdjust="spacingAndGlyphs">CK</text></g>
<g><path d="M304.45 125.79V215.35H506.41" fill="none" stroke="#a0a0a0" stroke-width="1.15"/>
<path d="M302.45 210.7H304.45M302.45 201.27H304.45M302.45 191.83H304.45M302.45 182.4H304.45M302.45 172.96H304.45M302.45 163.53H304.45M302.45 154.1H304.45M302.45 144.66H304.45M302.45 135.23H304.45M302.45 125.79H304.45M304.45 215.35V217.15M312.87 215.35V217.15M321.28 215.35V217.15M329.7 215.35V217.15M338.11 215.35V217.15M346.53 215.35V217.15M354.94 215.35V217.15M363.36 215.35V217.15M371.77 215.35V217.15M380.19 215.35V217.15M388.6 215.35V217.15M397.02 215.35V217.15M405.43 215.35V217.15M413.85 215.35V217.15M422.26 215.35V217.15M430.68 215.35V217.15M439.09 215.35V217.15M447.5 215.35V217.15M455.92 215.35V217.15M464.34 215.35V217.15M472.75 215.35V217.15M481.17 215.35V217.15M489.58 215.35V217.15M498 215.35V217.15M506.41 215.35V217.15" stroke="#a0a0a0" stroke-width="0.8"/>
<g class="tl"><text x="300.25" y="212.7" text-anchor="end">0.0</text><text x="300.25" y="203.27" text-anchor="end">0.2</text><text x="300.25" y="193.83" text-anchor="end">0.4</text><text x="300.25" y="184.4" text-anchor="end">0.6</text><text x="300.25" y="174.96" text-anchor="end">0.8</text><text x="300.25" y="165.53" text-anchor="end">1.0</text><text x="300.25" y="156.1" text-anchor="end">1.2</text><text x="300.25" y="146.66" text-anchor="end">1.4</text><text x="300.25" y="137.23" text-anchor="end">1.6</text><text x="300.25" y="127.79" text-anchor="end">1.8</text><text x="304.45" y="225.3" text-anchor="middle">0</text><text x="312.87" y="225.3" text-anchor="middle">1</text><text x="321.28" y="225.3" text-anchor="middle">2</text><text x="329.7" y="225.3" text-anchor="middle">3</text><text x="338.11" y="225.3" text-anchor="middle">4</text><text x="346.53" y="225.3" text-anchor="middle">5</text><text x="354.94" y="225.3" text-anchor="middle">6</text><text x="363.36" y="225.3" text-anchor="middle">7</text><text x="371.77" y="225.3" text-anchor="middle">8</text><text x="380.19" y="225.3" text-anchor="middle">9</text><text x="388.6" y="225.3" text-anchor="middle">10</text><text x="397.02" y="225.3" text-anchor="middle">11</text><text x="405.43" y="225.3" text-anchor="middle">12</text><text x="413.85" y="225.3" text-anchor="middle">13</text><text x="422.26" y="225.3" text-anchor="middle">14</text><text x="430.68" y="225.3" text-anchor="middle">15</text><text x="439.09" y="225.3" text-anchor="middle">16</text><text x="447.5" y="225.3" text-anchor="middle">17</text><text x="455.92" y="225.3" text-anchor="middle">18</text><text x="464.34" y="225.3" text-anchor="middle">19</text><text x="472.75" y="225.3" text-anchor="middle">20</text><text x="481.17" y="225.3" text-anchor="middle">21</text><text x="489.58" y="225.3" text-anchor="middle">22</text><text x="498" y="225.3" text-anchor="middle">23</text><text x="506.41" y="225.3" text-anchor="middle">24</text></g>
<text class="xt" x="405.6" y="235.6" text-anchor="middle">Incubation Time / h</text>
<g transform="translate(284.9 180.9) rotate(-90)"><text class="yt" x="0" y="0" textLength="8.6" lengthAdjust="spacingAndGlyphs">OD</text><text class="sub" x="9.3" y="0.8" textLength="11.3" lengthAdjust="spacingAndGlyphs">600nm</text></g>
<text class="pl" x="327" y="135.6">(D)</text>
<circle cx="304.45" cy="205.98" r="1.75" fill="#000"/><circle cx="312.87" cy="205.98" r="1.75" fill="#000"/><circle cx="321.28" cy="205.98" r="1.75" fill="#000"/><circle cx="329.7" cy="205.98" r="1.75" fill="#000"/><circle cx="338.11" cy="205.98" r="1.75" fill="#000"/><circle cx="346.53" cy="205.98" r="1.75" fill="#000"/><circle cx="354.94" cy="205.98" r="1.75" fill="#000"/><circle cx="363.36" cy="205.98" r="1.75" fill="#000"/><circle cx="371.77" cy="205.98" r="1.75" fill="#000"/><circle cx="380.19" cy="205.98" r="1.75" fill="#000"/><circle cx="388.6" cy="205.98" r="1.75" fill="#000"/><circle cx="397.02" cy="205.98" r="1.75" fill="#000"/><circle cx="405.43" cy="205.98" r="1.75" fill="#000"/><circle cx="413.85" cy="205.98" r="1.75" fill="#000"/><circle cx="422.26" cy="205.98" r="1.75" fill="#000"/><circle cx="430.68" cy="205.98" r="1.75" fill="#000"/><circle cx="439.09" cy="205.98" r="1.75" fill="#000"/><circle cx="447.5" cy="205.98" r="1.75" fill="#000"/><circle cx="455.92" cy="205.98" r="1.75" fill="#000"/><circle cx="464.34" cy="205.98" r="1.75" fill="#000"/><circle cx="472.75" cy="205.98" r="1.75" fill="#000"/><circle cx="481.17" cy="205.98" r="1.75" fill="#000"/><circle cx="489.58" cy="205.98" r="1.75" fill="#000"/><circle cx="498" cy="205.98" r="1.75" fill="#000"/><circle cx="506.41" cy="205.98" r="1.75" fill="#000"/>
<circle cx="304.45" cy="207.4" r="1.4" fill="none" stroke="#111" stroke-width="0.8"/><circle cx="312.87" cy="207.63" r="1.4" fill="none" stroke="#111" stroke-width="0.8"/><circle cx="321.28" cy="207.4" r="1.4" fill="none" stroke="#111" stroke-width="0.8"/><circle cx="329.7" cy="207.16" r="1.4" fill="none" stroke="#111" stroke-width="0.8"/><circle cx="338.11" cy="207.16" r="1.4" fill="none" stroke="#111" stroke-width="0.8"/><circle cx="346.53" cy="206.93" r="1.4" fill="none" stroke="#111" stroke-width="0.8"/><circle cx="354.94" cy="205.51" r="1.4" fill="none" stroke="#111" stroke-width="0.8"/><circle cx="363.36" cy="202.4" r="1.4" fill="none" stroke="#111" stroke-width="0.8"/><circle cx="371.77" cy="198.44" r="1.4" fill="none" stroke="#111" stroke-width="0.8"/><circle cx="380.19" cy="191.36" r="1.4" fill="none" stroke="#111" stroke-width="0.8"/><circle cx="388.6" cy="185.42" r="1.4" fill="none" stroke="#111" stroke-width="0.8"/><circle cx="397.02" cy="178.39" r="1.4" fill="none" stroke="#111" stroke-width="0.8"/><circle cx="405.43" cy="176.03" r="1.4" fill="none" stroke="#111" stroke-width="0.8"/><circle cx="413.85" cy="172.49" r="1.4" fill="none" stroke="#111" stroke-width="0.8"/><rect x="420.91" y="163.12" width="2.7" height="2.7" fill="#fff" stroke="#111" stroke-width="0.8"/><rect x="429.33" y="153.69" width="2.7" height="2.7" fill="#fff" stroke="#111" stroke-width="0.8"/><rect x="437.74" y="146.61" width="2.7" height="2.7" fill="#fff" stroke="#111" stroke-width="0.8"/><rect x="446.15" y="142.84" width="2.7" height="2.7" fill="#fff" stroke="#111" stroke-width="0.8"/><circle cx="455.92" cy="142.78" r="1.4" fill="none" stroke="#111" stroke-width="0.8"/><circle cx="464.34" cy="140.42" r="1.4" fill="none" stroke="#111" stroke-width="0.8"/><circle cx="472.75" cy="139.47" r="1.4" fill="none" stroke="#111" stroke-width="0.8"/><circle cx="481.17" cy="138.06" r="1.4" fill="none" stroke="#111" stroke-width="0.8"/><circle cx="489.58" cy="136.64" r="1.4" fill="none" stroke="#111" stroke-width="0.8"/><circle cx="498" cy="135.23" r="1.4" fill="none" stroke="#111" stroke-width="0.8"/><circle cx="506.41" cy="133.81" r="1.4" fill="none" stroke="#111" stroke-width="0.8"/>
<path d="M302.55 206.57H306.35L304.45 209.77Z" fill="#000"/><path d="M310.97 205.63H314.77L312.87 208.83Z" fill="#000"/><path d="M319.38 203.74H323.18L321.28 206.94Z" fill="#000"/><path d="M327.8 199.97H331.6L329.7 203.17Z" fill="#000"/><path d="M336.21 195.25H340.01L338.11 198.45Z" fill="#000"/><path d="M344.63 187.23H348.43L346.53 190.43Z" fill="#000"/><path d="M353.04 186.76H356.84L354.94 189.96Z" fill="#000"/><path d="M361.46 181.1H365.25L363.36 184.3Z" fill="#000"/><path d="M369.87 174.97H373.67L371.77 178.17Z" fill="#000"/><path d="M378.29 166.95H382.09L380.19 170.15Z" fill="#000"/><path d="M386.7 161.29H390.5L388.6 164.49Z" fill="#000"/><path d="M395.12 154.21H398.92L397.02 157.41Z" fill="#000"/><path d="M403.53 147.14H407.33L405.43 150.34Z" fill="#000"/><path d="M411.95 141.95H415.75L413.85 145.15Z" fill="#000"/><path d="M420.36 136.29H424.16L422.26 139.49Z" fill="#000"/><path d="M428.78 133.93H432.58L430.68 137.13Z" fill="#000"/><path d="M437.19 132.98H440.99L439.09 136.18Z" fill="#000"/><path d="M445.61 132.51H449.4L447.5 135.71Z" fill="#000"/><path d="M454.02 132.98H457.82L455.92 136.18Z" fill="#000"/><path d="M462.44 133.93H466.24L464.34 137.13Z" fill="#000"/><path d="M470.85 134.87H474.65L472.75 138.07Z" fill="#000"/><path d="M479.27 135.81H483.06L481.17 139.01Z" fill="#000"/><path d="M487.68 136.76H491.48L489.58 139.96Z" fill="#000"/><path d="M496.1 137.7H499.89L498 140.9Z" fill="#000"/><path d="M504.51 138.64H508.31L506.41 141.84Z" fill="#000"/>
<path d="M302.8 209.07H306.1L304.45 206.27Z" fill="#fff" stroke="#111" stroke-width="0.8"/><path d="M311.22 207.65H314.52L312.87 204.85Z" fill="#fff" stroke="#111" stroke-width="0.8"/><path d="M319.63 205.3H322.93L321.28 202.5Z" fill="#fff" stroke="#111" stroke-width="0.8"/><path d="M328.05 201.52H331.35L329.7 198.72Z" fill="#fff" stroke="#111" stroke-width="0.8"/><path d="M336.46 197.75H339.76L338.11 194.95Z" fill="#fff" stroke="#111" stroke-width="0.8"/><path d="M344.88 188.31H348.18L346.53 185.51Z" fill="#fff" stroke="#111" stroke-width="0.8"/><path d="M353.29 183.6H356.59L354.94 180.8Z" fill="#fff" stroke="#111" stroke-width="0.8"/><path d="M361.71 177.94H365L363.36 175.14Z" fill="#fff" stroke="#111" stroke-width="0.8"/><path d="M370.12 174.16H373.42L371.77 171.36Z" fill="#fff" stroke="#111" stroke-width="0.8"/><path d="M378.54 167.09H381.84L380.19 164.29Z" fill="#fff" stroke="#111" stroke-width="0.8"/><path d="M386.95 158.6H390.25L388.6 155.8Z" fill="#fff" stroke="#111" stroke-width="0.8"/><path d="M395.37 145.86H398.67L397.02 143.06Z" fill="#fff" stroke="#111" stroke-width="0.8"/><path d="M403.78 141.14H407.08L405.43 138.34Z" fill="#fff" stroke="#111" stroke-width="0.8"/><path d="M412.2 138.79H415.5L413.85 135.99Z" fill="#fff" stroke="#111" stroke-width="0.8"/><path d="M420.61 137.37H423.91L422.26 134.57Z" fill="#fff" stroke="#111" stroke-width="0.8"/><path d="M429.03 136.43H432.33L430.68 133.63Z" fill="#fff" stroke="#111" stroke-width="0.8"/><path d="M437.44 135.01H440.74L439.09 132.21Z" fill="#fff" stroke="#111" stroke-width="0.8"/><path d="M445.86 134.54H449.15L447.5 131.74Z" fill="#fff" stroke="#111" stroke-width="0.8"/><path d="M454.27 133.6H457.57L455.92 130.8Z" fill="#fff" stroke="#111" stroke-width="0.8"/><path d="M462.69 134.07H465.99L464.34 131.27Z" fill="#fff" stroke="#111" stroke-width="0.8"/><path d="M471.1 135.48H474.4L472.75 132.68Z" fill="#fff" stroke="#111" stroke-width="0.8"/><path d="M479.52 136.43H482.81L481.17 133.63Z" fill="#fff" stroke="#111" stroke-width="0.8"/><path d="M487.93 137.37H491.23L489.58 134.57Z" fill="#fff" stroke="#111" stroke-width="0.8"/><path d="M496.35 138.79H499.64L498 135.99Z" fill="#fff" stroke="#111" stroke-width="0.8"/><path d="M504.76 140.2H508.06L506.41 137.4Z" fill="#fff" stroke="#111" stroke-width="0.8"/>
<rect x="302.85" y="206.27" width="3.2" height="3.2" fill="#000"/><rect x="311.27" y="204.85" width="3.2" height="3.2" fill="#000"/><rect x="319.68" y="202.5" width="3.2" height="3.2" fill="#000"/><rect x="328.1" y="198.72" width="3.2" height="3.2" fill="#000"/><rect x="336.51" y="194.01" width="3.2" height="3.2" fill="#000"/><rect x="344.93" y="186.93" width="3.2" height="3.2" fill="#000"/><rect x="353.34" y="179.85" width="3.2" height="3.2" fill="#000"/><rect x="361.75" y="174.19" width="3.2" height="3.2" fill="#000"/><rect x="370.17" y="172.31" width="3.2" height="3.2" fill="#000"/><rect x="378.59" y="169.01" width="3.2" height="3.2" fill="#000"/><rect x="387" y="153.91" width="3.2" height="3.2" fill="#000"/><rect x="395.42" y="140.7" width="3.2" height="3.2" fill="#000"/><rect x="403.83" y="136.93" width="3.2" height="3.2" fill="#000"/><rect x="412.25" y="135.99" width="3.2" height="3.2" fill="#000"/><rect x="420.66" y="134.57" width="3.2" height="3.2" fill="#000"/><rect x="429.08" y="133.16" width="3.2" height="3.2" fill="#000"/><rect x="437.49" y="132.21" width="3.2" height="3.2" fill="#000"/><rect x="445.9" y="131.27" width="3.2" height="3.2" fill="#000"/><rect x="454.32" y="130.8" width="3.2" height="3.2" fill="#000"/><rect x="462.74" y="130.8" width="3.2" height="3.2" fill="#000"/><rect x="471.15" y="131.74" width="3.2" height="3.2" fill="#000"/><rect x="479.56" y="132.68" width="3.2" height="3.2" fill="#000"/><rect x="487.98" y="133.63" width="3.2" height="3.2" fill="#000"/><rect x="496.39" y="134.57" width="3.2" height="3.2" fill="#000"/><rect x="504.81" y="135.04" width="3.2" height="3.2" fill="#000"/>
<rect x="303.1" y="206.52" width="2.7" height="2.7" fill="#fff" stroke="#111" stroke-width="0.8"/><rect x="311.52" y="205.1" width="2.7" height="2.7" fill="#fff" stroke="#111" stroke-width="0.8"/><rect x="319.93" y="202.75" width="2.7" height="2.7" fill="#fff" stroke="#111" stroke-width="0.8"/><rect x="328.35" y="198.97" width="2.7" height="2.7" fill="#fff" stroke="#111" stroke-width="0.8"/><rect x="336.76" y="196.61" width="2.7" height="2.7" fill="#fff" stroke="#111" stroke-width="0.8"/><rect x="345.18" y="184.82" width="2.7" height="2.7" fill="#fff" stroke="#111" stroke-width="0.8"/><rect x="353.59" y="181.05" width="2.7" height="2.7" fill="#fff" stroke="#111" stroke-width="0.8"/><rect x="362" y="174.44" width="2.7" height="2.7" fill="#fff" stroke="#111" stroke-width="0.8"/><rect x="370.42" y="173.03" width="2.7" height="2.7" fill="#fff" stroke="#111" stroke-width="0.8"/><rect x="378.84" y="171.61" width="2.7" height="2.7" fill="#fff" stroke="#111" stroke-width="0.8"/><rect x="387.25" y="152.75" width="2.7" height="2.7" fill="#fff" stroke="#111" stroke-width="0.8"/><rect x="395.67" y="144.26" width="2.7" height="2.7" fill="#fff" stroke="#111" stroke-width="0.8"/><rect x="404.08" y="138.59" width="2.7" height="2.7" fill="#fff" stroke="#111" stroke-width="0.8"/><rect x="412.5" y="136.24" width="2.7" height="2.7" fill="#fff" stroke="#111" stroke-width="0.8"/><rect x="420.91" y="134.82" width="2.7" height="2.7" fill="#fff" stroke="#111" stroke-width="0.8"/><rect x="429.33" y="133.88" width="2.7" height="2.7" fill="#fff" stroke="#111" stroke-width="0.8"/><rect x="437.74" y="132.93" width="2.7" height="2.7" fill="#fff" stroke="#111" stroke-width="0.8"/><rect x="446.15" y="131.99" width="2.7" height="2.7" fill="#fff" stroke="#111" stroke-width="0.8"/><rect x="454.57" y="131.52" width="2.7" height="2.7" fill="#fff" stroke="#111" stroke-width="0.8"/><rect x="462.99" y="132.46" width="2.7" height="2.7" fill="#fff" stroke="#111" stroke-width="0.8"/><rect x="471.4" y="133.88" width="2.7" height="2.7" fill="#fff" stroke="#111" stroke-width="0.8"/><rect x="479.81" y="135.29" width="2.7" height="2.7" fill="#fff" stroke="#111" stroke-width="0.8"/><rect x="488.23" y="136.24" width="2.7" height="2.7" fill="#fff" stroke="#111" stroke-width="0.8"/><rect x="496.64" y="137.18" width="2.7" height="2.7" fill="#fff" stroke="#111" stroke-width="0.8"/><rect x="505.06" y="138.59" width="2.7" height="2.7" fill="#fff" stroke="#111" stroke-width="0.8"/>
<path d="M304.45 206.71L306.55 208.81L304.45 210.91L302.35 208.81Z" fill="#000"/><path d="M312.87 204.5L314.97 206.6L312.87 208.7L310.77 206.6Z" fill="#000"/><path d="M321.28 201.71L323.38 203.81L321.28 205.91L319.18 203.81Z" fill="#000"/><path d="M329.7 197.75L331.8 199.85L329.7 201.95L327.6 199.85Z" fill="#000"/><path d="M338.11 190.91L340.21 193.01L338.11 195.11L336.01 193.01Z" fill="#000"/><path d="M346.53 182.89L348.63 184.99L346.53 187.09L344.43 184.99Z" fill="#000"/><path d="M354.94 178.88L357.04 180.98L354.94 183.08L352.84 180.98Z" fill="#000"/><path d="M363.36 173.93L365.46 176.03L363.36 178.13L361.25 176.03Z" fill="#000"/><path d="M371.77 170.39L373.87 172.49L371.77 174.59L369.67 172.49Z" fill="#000"/><path d="M380.19 163.79L382.29 165.89L380.19 167.99L378.09 165.89Z" fill="#000"/><path d="M388.6 152.47L390.7 154.57L388.6 156.67L386.5 154.57Z" fill="#000"/><path d="M397.02 142.09L399.12 144.19L397.02 146.29L394.92 144.19Z" fill="#000"/><path d="M405.43 137.84L407.53 139.94L405.43 142.04L403.33 139.94Z" fill="#000"/><path d="M413.85 136.43L415.95 138.53L413.85 140.63L411.75 138.53Z" fill="#000"/><path d="M422.26 134.31L424.36 136.41L422.26 138.51L420.16 136.41Z" fill="#000"/><path d="M430.68 133.13L432.78 135.23L430.68 137.33L428.58 135.23Z" fill="#000"/><path d="M439.09 132.66L441.19 134.76L439.09 136.86L436.99 134.76Z" fill="#000"/><path d="M447.5 132.42L449.61 134.52L447.5 136.62L445.4 134.52Z" fill="#000"/><path d="M455.92 132.66L458.02 134.76L455.92 136.86L453.82 134.76Z" fill="#000"/><path d="M464.34 133.13L466.44 135.23L464.34 137.33L462.24 135.23Z" fill="#000"/><path d="M472.75 133.6L474.85 135.7L472.75 137.8L470.65 135.7Z" fill="#000"/><path d="M481.17 135.01L483.27 137.11L481.17 139.21L479.06 137.11Z" fill="#000"/><path d="M489.58 135.49L491.68 137.59L489.58 139.69L487.48 137.59Z" fill="#000"/><path d="M498 136.9L500.1 139L498 141.1L495.89 139Z" fill="#000"/><path d="M506.41 138.32L508.51 140.42L506.41 142.52L504.31 140.42Z" fill="#000"/><path d="M397.02 141.83V146.55M395.72 141.83H398.32M395.72 146.55H398.32" stroke="#000" stroke-width="0.6"/>
<path d="M304.45 205.98H506.41" fill="none" stroke="#a81c2a" stroke-width="1.1"/>
<path d="M304.45 208.13 306.55 208.13 308.66 208.13 310.76 208.13 312.87 208.13 314.97 208.12 317.07 208.12 319.18 208.11 321.28 208.1 323.38 208.09 325.49 208.07 327.59 208.04 329.7 208 331.8 207.95 333.9 207.87 336.01 207.78 338.11 207.65 340.21 207.5 342.32 207.3 344.42 207.07 346.53 206.78 348.63 206.43 350.73 206.03 352.84 205.56 354.94 205.02 357.04 204.41 359.15 203.72 361.25 202.95 363.36 202.1 365.46 201.18 367.56 200.17 369.67 199.09 371.77 197.93 373.87 196.71 375.98 195.41 378.08 194.05 380.19 192.64 382.29 191.18 384.39 189.67 386.5 188.12 388.6 186.54 390.7 184.93 392.81 183.3 394.91 181.66 397.02 180.01 399.12 178.36 401.22 176.71 403.33 175.07 405.43 173.45 407.53 171.84 409.64 170.25 411.74 168.69 413.85 167.15 415.95 165.65 418.05 164.18 420.16 162.74 422.26 161.34 424.36 159.98 426.47 158.67 428.57 157.39 430.68 156.15 432.78 154.95 434.88 153.8 436.99 152.68 439.09 151.61 441.19 150.58 443.3 149.59 445.4 148.63 447.5 147.72 449.61 146.85 451.71 146.01 453.82 145.21 455.92 144.44 458.02 143.71 460.13 143.01 462.23 142.35 464.34 141.71 466.44 141.1 468.54 140.53 470.65 139.98 472.75 139.45 474.85 138.96 476.96 138.48 479.06 138.04 481.17 137.61 483.27 137.2 485.37 136.82 487.48 136.45 489.58 136.11 491.68 135.78 493.79 135.46 495.89 135.17 498 134.89 500.1 134.62 502.2 134.37 504.31 134.13 506.41 133.91" fill="none" stroke="#c8d820" stroke-width="1.15"/>
<path d="M304.45 207.12 306.55 207.09 308.66 207.04 310.76 206.98 312.87 206.88 314.97 206.75 317.07 206.57 319.18 206.34 321.28 206.04 323.38 205.66 325.49 205.2 327.59 204.64 329.7 203.97 331.8 203.2 333.9 202.31 336.01 201.31 338.11 200.18 340.21 198.95 342.32 197.6 344.42 196.14 346.53 194.59 348.63 192.95 350.73 191.23 352.84 189.43 354.94 187.59 357.04 185.69 359.15 183.76 361.25 181.81 363.36 179.85 365.46 177.89 367.56 175.93 369.67 173.99 371.77 172.08 373.87 170.2 375.98 168.35 378.08 166.56 380.19 164.81 382.29 163.11 384.39 161.47 386.5 159.89 388.6 158.36 390.7 156.9 392.81 155.5 394.91 154.16 397.02 152.88 399.12 151.66 401.22 150.5 403.33 149.39 405.43 148.35 407.53 147.36 409.64 146.42 411.74 145.53 413.85 144.69 415.95 143.9 418.05 143.16 420.16 142.46 422.26 141.8 424.36 141.18 426.47 140.59 428.57 140.05 430.68 139.53 432.78 139.05 434.88 138.6 436.99 138.17 439.09 137.78 441.19 137.4 443.3 137.06 445.4 136.73 447.5 136.42 449.61 136.14 451.71 135.87 453.82 135.62 455.92 135.39 458.02 135.17 460.13 134.97 462.23 134.78 464.34 134.6 466.44 134.44 468.54 134.29 470.65 134.14 472.75 134.01 474.85 133.88 476.96 133.77 479.06 133.66 481.17 133.55 483.27 133.46 485.37 133.37 487.48 133.29 489.58 133.21 491.68 133.14 493.79 133.07 495.89 133.01 498 132.95 500.1 132.9 502.2 132.85 504.31 132.8 506.41 132.76" fill="none" stroke="#8a1c26" stroke-width="1.15"/>
<path d="M304.45 206.34 306.55 206.22 308.66 206.05 310.76 205.84 312.87 205.56 314.97 205.2 317.07 204.77 319.18 204.24 321.28 203.61 323.38 202.87 325.49 202.02 327.59 201.05 329.7 199.96 331.8 198.76 333.9 197.44 336.01 196.02 338.11 194.49 340.21 192.87 342.32 191.17 344.42 189.39 346.53 187.55 348.63 185.66 350.73 183.73 352.84 181.77 354.94 179.79 357.04 177.81 359.15 175.83 361.25 173.86 363.36 171.92 365.46 170 367.56 168.12 369.67 166.28 371.77 164.49 373.87 162.74 375.98 161.06 378.08 159.42 380.19 157.85 382.29 156.34 384.39 154.89 386.5 153.49 388.6 152.17 390.7 150.9 392.81 149.69 394.91 148.54 397.02 147.45 399.12 146.41 401.22 145.43 403.33 144.5 405.43 143.62 407.53 142.79 409.64 142.01 411.74 141.27 413.85 140.58 415.95 139.92 418.05 139.31 420.16 138.73 422.26 138.18 424.36 137.67 426.47 137.19 428.57 136.75 430.68 136.32 432.78 135.93 434.88 135.56 436.99 135.21 439.09 134.89 441.19 134.58 443.3 134.3 445.4 134.04 447.5 133.79 449.61 133.55 451.71 133.34 453.82 133.14 455.92 132.95 458.02 132.77 460.13 132.6 462.23 132.45 464.34 132.31 466.44 132.17 468.54 132.05 470.65 131.93 472.75 131.82 474.85 131.72 476.96 131.62 479.06 131.53 481.17 131.45 483.27 131.37 485.37 131.3 487.48 131.23 489.58 131.17 491.68 131.11 493.79 131.06 495.89 131.01 498 130.96 500.1 130.92 502.2 130.87 504.31 130.84 506.41 130.8" fill="none" stroke="#ff8c1a" stroke-width="1.15"/>
<path d="M304.45 206.67 306.55 206.57 308.66 206.44 310.76 206.25 312.87 206.01 314.97 205.71 317.07 205.33 319.18 204.86 321.28 204.3 323.38 203.63 325.49 202.86 327.59 201.97 329.7 200.97 331.8 199.85 333.9 198.62 336.01 197.28 338.11 195.83 340.21 194.29 342.32 192.66 344.42 190.95 346.53 189.16 348.63 187.32 350.73 185.44 352.84 183.52 354.94 181.57 357.04 179.61 359.15 177.65 361.25 175.69 363.36 173.75 365.46 171.83 367.56 169.94 369.67 168.08 371.77 166.27 373.87 164.51 375.98 162.8 378.08 161.14 380.19 159.53 382.29 157.99 384.39 156.5 386.5 155.08 388.6 153.71 390.7 152.41 392.81 151.16 394.91 149.97 397.02 148.84 399.12 147.77 401.22 146.76 403.33 145.79 405.43 144.88 407.53 144.02 409.64 143.2 411.74 142.43 413.85 141.7 415.95 141.02 418.05 140.38 420.16 139.77 422.26 139.2 424.36 138.67 426.47 138.16 428.57 137.69 430.68 137.25 432.78 136.83 434.88 136.44 436.99 136.08 439.09 135.73 441.19 135.41 443.3 135.11 445.4 134.83 447.5 134.57 449.61 134.32 451.71 134.1 453.82 133.88 455.92 133.68 458.02 133.49 460.13 133.32 462.23 133.15 464.34 133 466.44 132.86 468.54 132.72 470.65 132.6 472.75 132.48 474.85 132.37 476.96 132.27 479.06 132.18 481.17 132.09 483.27 132.01 485.37 131.93 487.48 131.86 489.58 131.79 491.68 131.73 493.79 131.67 495.89 131.61 498 131.56 500.1 131.52 502.2 131.47 504.31 131.43 506.41 131.39" fill="none" stroke="#aa6630" stroke-width="1.15"/>
<path d="M304.45 206.22 306.55 206.15 308.66 206.04 310.76 205.89 312.87 205.69 314.97 205.43 317.07 205.1 319.18 204.68 321.28 204.17 323.38 203.56 325.49 202.84 327.59 202 329.7 201.04 331.8 199.96 333.9 198.77 336.01 197.45 338.11 196.02 340.21 194.48 342.32 192.85 344.42 191.14 346.53 189.34 348.63 187.48 350.73 185.57 352.84 183.62 354.94 181.64 357.04 179.65 359.15 177.65 361.25 175.65 363.36 173.67 365.46 171.72 367.56 169.79 369.67 167.91 371.77 166.06 373.87 164.27 375.98 162.53 378.08 160.85 380.19 159.22 382.29 157.66 384.39 156.16 386.5 154.73 388.6 153.35 390.7 152.04 392.81 150.79 394.91 149.61 397.02 148.48 399.12 147.41 401.22 146.4 403.33 145.44 405.43 144.54 407.53 143.68 409.64 142.88 411.74 142.12 413.85 141.41 415.95 140.74 418.05 140.11 420.16 139.52 422.26 138.97 424.36 138.45 426.47 137.96 428.57 137.5 430.68 137.07 432.78 136.67 434.88 136.3 436.99 135.95 439.09 135.62 441.19 135.32 443.3 135.03 445.4 134.77 447.5 134.52 449.61 134.28 451.71 134.07 453.82 133.86 455.92 133.68 458.02 133.5 460.13 133.34 462.23 133.18 464.34 133.04 466.44 132.91 468.54 132.78 470.65 132.67 472.75 132.56 474.85 132.46 476.96 132.37 479.06 132.28 481.17 132.2 483.27 132.12 485.37 132.05 487.48 131.99 489.58 131.93 491.68 131.87 493.79 131.82 495.89 131.77 498 131.72 500.1 131.68 502.2 131.64 504.31 131.6 506.41 131.57" fill="none" stroke="#94a020" stroke-width="1.15"/>
<path d="M304.45 206.05 306.55 205.96 308.66 205.83 310.76 205.65 312.87 205.42 314.97 205.11 317.07 204.72 319.18 204.24 321.28 203.65 323.38 202.96 325.49 202.14 327.59 201.2 329.7 200.13 331.8 198.94 333.9 197.63 336.01 196.19 338.11 194.65 340.21 193 342.32 191.27 344.42 189.45 346.53 187.56 348.63 185.62 350.73 183.64 352.84 181.63 354.94 179.6 357.04 177.57 359.15 175.55 361.25 173.54 363.36 171.55 365.46 169.61 367.56 167.7 369.67 165.84 371.77 164.03 373.87 162.28 375.98 160.59 378.08 158.96 380.19 157.39 382.29 155.89 384.39 154.46 386.5 153.09 388.6 151.79 390.7 150.55 392.81 149.38 394.91 148.27 397.02 147.21 399.12 146.22 401.22 145.28 403.33 144.4 405.43 143.56 407.53 142.78 409.64 142.04 411.74 141.35 413.85 140.7 415.95 140.09 418.05 139.52 420.16 138.99 422.26 138.49 424.36 138.02 426.47 137.59 428.57 137.18 430.68 136.8 432.78 136.44 434.88 136.11 436.99 135.8 439.09 135.51 441.19 135.24 443.3 134.99 445.4 134.76 447.5 134.54 449.61 134.34 451.71 134.15 453.82 133.97 455.92 133.81 458.02 133.66 460.13 133.52 462.23 133.38 464.34 133.26 466.44 133.15 468.54 133.04 470.65 132.94 472.75 132.85 474.85 132.77 476.96 132.69 479.06 132.61 481.17 132.54 483.27 132.48 485.37 132.42 487.48 132.37 489.58 132.31 491.68 132.27 493.79 132.22 495.89 132.18 498 132.14 500.1 132.11 502.2 132.08 504.31 132.05 506.41 132.02" fill="none" stroke="#a81c2a" stroke-width="1.15"/>
<circle cx="519.4" cy="131.25" r="1.75" fill="#000"/>
<text class="lg" x="528.2" y="133" xml:space="preserve" textLength="10.38" lengthAdjust="spacingAndGlyphs"> MIC</text>
<circle cx="519.4" cy="137.2" r="1.4" fill="none" stroke="#111" stroke-width="0.8"/>
<text class="lg" x="528.2" y="138.95" xml:space="preserve" textLength="16.57" lengthAdjust="spacingAndGlyphs">1/2 MIC</text>
<path d="M517.5 141.85H521.3L519.4 145.05Z" fill="#000"/>
<text class="lg" x="528.2" y="144.9" xml:space="preserve" textLength="16.57" lengthAdjust="spacingAndGlyphs">1/4 MIC</text>
<path d="M517.75 150.3H521.05L519.4 147.5Z" fill="#fff" stroke="#111" stroke-width="0.8"/>
<text class="lg" x="528.2" y="150.85" xml:space="preserve" textLength="16.57" lengthAdjust="spacingAndGlyphs">1/8 MIC</text>
<rect x="517.8" y="153.45" width="3.2" height="3.2" fill="#000"/>
<text class="lg" x="528.2" y="156.8" xml:space="preserve" textLength="19" lengthAdjust="spacingAndGlyphs">1/16 MIC</text>
<rect x="518.05" y="159.65" width="2.7" height="2.7" fill="#fff" stroke="#111" stroke-width="0.8"/>
<text class="lg" x="528.2" y="162.75" xml:space="preserve" textLength="19" lengthAdjust="spacingAndGlyphs">1/32 MIC</text>
<path d="M519.4 164.85L521.5 166.95L519.4 169.05L517.3 166.95Z" fill="#000"/>
<text class="lg" x="528.2" y="168.7" xml:space="preserve" textLength="6.74" lengthAdjust="spacingAndGlyphs">CK</text>
<text class="gz" x="514.5" y="177.2">Gompertz:</text>
<path d="M514.1 184.1H525.4" stroke="#b84646" stroke-width="1.45"/>
<text class="lg" x="528.2" y="185.95" textLength="12.8" lengthAdjust="spacingAndGlyphs">1 MIC</text>
<path d="M514.1 190.05H525.4" stroke="#c8d820" stroke-width="1.45"/>
<text class="lg" x="528.2" y="191.9" textLength="16.57" lengthAdjust="spacingAndGlyphs">1/2 MIC</text>
<path d="M514.1 196H525.4" stroke="#8a1c26" stroke-width="1.45"/>
<text class="lg" x="528.2" y="197.85" textLength="16.57" lengthAdjust="spacingAndGlyphs">1/4 MIC</text>
<path d="M514.1 201.95H525.4" stroke="#ff8c1a" stroke-width="1.45"/>
<text class="lg" x="528.2" y="203.8" textLength="16.57" lengthAdjust="spacingAndGlyphs">1/8 MIC</text>
<path d="M514.1 207.9H525.4" stroke="#aa6630" stroke-width="1.45"/>
<text class="lg" x="528.2" y="209.75" textLength="19" lengthAdjust="spacingAndGlyphs">1/16 MIC</text>
<path d="M514.1 213.85H525.4" stroke="#94a020" stroke-width="1.45"/>
<text class="lg" x="528.2" y="215.7" textLength="19" lengthAdjust="spacingAndGlyphs">1/32 MIC</text>
<path d="M514.1 219.8H525.4" stroke="#a81c2a" stroke-width="1.45"/>
<text class="lg" x="528.2" y="221.65" textLength="6.74" lengthAdjust="spacingAndGlyphs">CK</text></g>
<g><path d="M27.35 245.79V335.35H229.91" fill="none" stroke="#777" stroke-width="0.95"/>
<path d="M25.35 330.7H27.35M25.35 321.27H27.35M25.35 311.83H27.35M25.35 302.4H27.35M25.35 292.96H27.35M25.35 283.53H27.35M25.35 274.1H27.35M25.35 264.66H27.35M25.35 255.23H27.35M25.35 245.79H27.35M27.35 335.35V337.15M35.79 335.35V337.15M44.23 335.35V337.15M52.67 335.35V337.15M61.11 335.35V337.15M69.55 335.35V337.15M77.99 335.35V337.15M86.43 335.35V337.15M94.87 335.35V337.15M103.31 335.35V337.15M111.75 335.35V337.15M120.19 335.35V337.15M128.63 335.35V337.15M137.07 335.35V337.15M145.51 335.35V337.15M153.95 335.35V337.15M162.39 335.35V337.15M170.83 335.35V337.15M179.27 335.35V337.15M187.71 335.35V337.15M196.15 335.35V337.15M204.59 335.35V337.15M213.03 335.35V337.15M221.47 335.35V337.15M229.91 335.35V337.15" stroke="#777" stroke-width="0.8"/>
<g class="tl"><text x="23.15" y="332.7" text-anchor="end">0.0</text><text x="23.15" y="323.27" text-anchor="end">0.2</text><text x="23.15" y="313.83" text-anchor="end">0.4</text><text x="23.15" y="304.4" text-anchor="end">0.6</text><text x="23.15" y="294.96" text-anchor="end">0.8</text><text x="23.15" y="285.53" text-anchor="end">1.0</text><text x="23.15" y="276.1" text-anchor="end">1.2</text><text x="23.15" y="266.66" text-anchor="end">1.4</text><text x="23.15" y="257.23" text-anchor="end">1.6</text><text x="23.15" y="247.79" text-anchor="end">1.8</text><text x="27.35" y="346" text-anchor="middle">0</text><text x="35.79" y="346" text-anchor="middle">1</text><text x="44.23" y="346" text-anchor="middle">2</text><text x="52.67" y="346" text-anchor="middle">3</text><text x="61.11" y="346" text-anchor="middle">4</text><text x="69.55" y="346" text-anchor="middle">5</text><text x="77.99" y="346" text-anchor="middle">6</text><text x="86.43" y="346" text-anchor="middle">7</text><text x="94.87" y="346" text-anchor="middle">8</text><text x="103.31" y="346" text-anchor="middle">9</text><text x="111.75" y="346" text-anchor="middle">10</text><text x="120.19" y="346" text-anchor="middle">11</text><text x="128.63" y="346" text-anchor="middle">12</text><text x="137.07" y="346" text-anchor="middle">13</text><text x="145.51" y="346" text-anchor="middle">14</text><text x="153.95" y="346" text-anchor="middle">15</text><text x="162.39" y="346" text-anchor="middle">16</text><text x="170.83" y="346" text-anchor="middle">17</text><text x="179.27" y="346" text-anchor="middle">18</text><text x="187.71" y="346" text-anchor="middle">19</text><text x="196.15" y="346" text-anchor="middle">20</text><text x="204.59" y="346" text-anchor="middle">21</text><text x="213.03" y="346" text-anchor="middle">22</text><text x="221.47" y="346" text-anchor="middle">23</text><text x="229.91" y="346" text-anchor="middle">24</text></g>
<text class="xt" x="128.5" y="356" text-anchor="middle">Incubation Time / h</text>
<g transform="translate(7.8 300.9) rotate(-90)"><text class="yt" x="0" y="0" textLength="8.6" lengthAdjust="spacingAndGlyphs">OD</text><text class="sub" x="9.3" y="0.8" textLength="11.3" lengthAdjust="spacingAndGlyphs">600nm</text></g>
<text class="pl" x="50.8" y="257.7">(E)</text>
<circle cx="27.35" cy="328.81" r="1.75" fill="#000"/><circle cx="35.79" cy="328.81" r="1.75" fill="#000"/><circle cx="44.23" cy="328.81" r="1.75" fill="#000"/><circle cx="52.67" cy="328.58" r="1.75" fill="#000"/><circle cx="61.11" cy="328.58" r="1.75" fill="#000"/><circle cx="69.55" cy="328.34" r="1.75" fill="#000"/><circle cx="77.99" cy="328.34" r="1.75" fill="#000"/><circle cx="86.43" cy="328.34" r="1.75" fill="#000"/><circle cx="94.87" cy="328.11" r="1.75" fill="#000"/><circle cx="103.31" cy="328.11" r="1.75" fill="#000"/><circle cx="111.75" cy="327.87" r="1.75" fill="#000"/><circle cx="120.19" cy="327.87" r="1.75" fill="#000"/><circle cx="128.63" cy="327.59" r="1.75" fill="#000"/><circle cx="137.07" cy="327.4" r="1.75" fill="#000"/><circle cx="145.51" cy="327.4" r="1.75" fill="#000"/><circle cx="153.95" cy="327.16" r="1.75" fill="#000"/><circle cx="162.39" cy="326.93" r="1.75" fill="#000"/><circle cx="170.83" cy="326.69" r="1.75" fill="#000"/><circle cx="179.27" cy="326.45" r="1.75" fill="#000"/><circle cx="187.71" cy="326.45" r="1.75" fill="#000"/><circle cx="196.15" cy="326.22" r="1.75" fill="#000"/><circle cx="204.59" cy="325.98" r="1.75" fill="#000"/><circle cx="213.03" cy="325.98" r="1.75" fill="#000"/><circle cx="221.47" cy="325.75" r="1.75" fill="#000"/><circle cx="229.91" cy="325.61" r="1.75" fill="#000"/>
<circle cx="27.35" cy="328.81" r="1.4" fill="none" stroke="#111" stroke-width="0.8"/><circle cx="35.79" cy="328.81" r="1.4" fill="none" stroke="#111" stroke-width="0.8"/><circle cx="44.23" cy="328.58" r="1.4" fill="none" stroke="#111" stroke-width="0.8"/><circle cx="52.67" cy="328.34" r="1.4" fill="none" stroke="#111" stroke-width="0.8"/><circle cx="61.11" cy="328.34" r="1.4" fill="none" stroke="#111" stroke-width="0.8"/><circle cx="69.55" cy="328.11" r="1.4" fill="none" stroke="#111" stroke-width="0.8"/><circle cx="77.99" cy="327.87" r="1.4" fill="none" stroke="#111" stroke-width="0.8"/><circle cx="86.43" cy="327.87" r="1.4" fill="none" stroke="#111" stroke-width="0.8"/><circle cx="94.87" cy="327.63" r="1.4" fill="none" stroke="#111" stroke-width="0.8"/><circle cx="103.31" cy="327.4" r="1.4" fill="none" stroke="#111" stroke-width="0.8"/><circle cx="111.75" cy="327.16" r="1.4" fill="none" stroke="#111" stroke-width="0.8"/><circle cx="120.19" cy="326.93" r="1.4" fill="none" stroke="#111" stroke-width="0.8"/><circle cx="128.63" cy="325.61" r="1.4" fill="none" stroke="#111" stroke-width="0.8"/><circle cx="137.07" cy="324.8" r="1.4" fill="none" stroke="#111" stroke-width="0.8"/><circle cx="145.51" cy="322.68" r="1.4" fill="none" stroke="#111" stroke-width="0.8"/><circle cx="153.95" cy="320.32" r="1.4" fill="none" stroke="#111" stroke-width="0.8"/><circle cx="162.39" cy="317.96" r="1.4" fill="none" stroke="#111" stroke-width="0.8"/><circle cx="170.83" cy="316.08" r="1.4" fill="none" stroke="#111" stroke-width="0.8"/><circle cx="179.27" cy="314" r="1.4" fill="none" stroke="#111" stroke-width="0.8"/><circle cx="187.71" cy="311.83" r="1.4" fill="none" stroke="#111" stroke-width="0.8"/><circle cx="196.15" cy="309.47" r="1.4" fill="none" stroke="#111" stroke-width="0.8"/><circle cx="204.59" cy="307.12" r="1.4" fill="none" stroke="#111" stroke-width="0.8"/><circle cx="213.03" cy="304.28" r="1.4" fill="none" stroke="#111" stroke-width="0.8"/><circle cx="221.47" cy="301.45" r="1.4" fill="none" stroke="#111" stroke-width="0.8"/><circle cx="229.91" cy="298.62" r="1.4" fill="none" stroke="#111" stroke-width="0.8"/>
<path d="M25.45 327.51H29.25L27.35 330.71Z" fill="#000"/><path d="M33.89 327.28H37.69L35.79 330.48Z" fill="#000"/><path d="M42.33 327.04H46.13L44.23 330.24Z" fill="#000"/><path d="M50.77 326.81H54.57L52.67 330.01Z" fill="#000"/><path d="M59.21 326.57H63.01L61.11 329.77Z" fill="#000"/><path d="M67.65 326.1H71.45L69.55 329.3Z" fill="#000"/><path d="M76.09 325.63H79.89L77.99 328.83Z" fill="#000"/><path d="M84.53 324.68H88.33L86.43 327.88Z" fill="#000"/><path d="M92.97 323.74H96.77L94.87 326.94Z" fill="#000"/><path d="M101.41 321.38H105.21L103.31 324.58Z" fill="#000"/><path d="M109.85 318.69H113.65L111.75 321.89Z" fill="#000"/><path d="M118.29 314.31H122.09L120.19 317.51Z" fill="#000"/><path d="M126.73 310.3H130.53L128.63 313.5Z" fill="#000"/><path d="M135.17 306.29H138.97L137.07 309.49Z" fill="#000"/><path d="M143.61 302.98H147.41L145.51 306.18Z" fill="#000"/><path d="M152.05 299.68H155.85L153.95 302.88Z" fill="#000"/><path d="M160.49 299.92H164.29L162.39 303.12Z" fill="#000"/><path d="M168.93 299.92H172.73L170.83 303.12Z" fill="#000"/><path d="M177.37 300.15H181.17L179.27 303.35Z" fill="#000"/><path d="M185.81 300.15H189.61L187.71 303.35Z" fill="#000"/><path d="M194.25 299.92H198.05L196.15 303.12Z" fill="#000"/><path d="M202.69 299.92H206.49L204.59 303.12Z" fill="#000"/><path d="M211.13 299.68H214.93L213.03 302.88Z" fill="#000"/><path d="M219.57 299.45H223.37L221.47 302.65Z" fill="#000"/><path d="M228.01 299.21H231.81L229.91 302.41Z" fill="#000"/>
<path d="M25.7 330.01H29L27.35 327.21Z" fill="#fff" stroke="#111" stroke-width="0.8"/><path d="M34.14 329.54H37.44L35.79 326.74Z" fill="#fff" stroke="#111" stroke-width="0.8"/><path d="M42.58 329.07H45.88L44.23 326.27Z" fill="#fff" stroke="#111" stroke-width="0.8"/><path d="M51.02 328.13H54.32L52.67 325.33Z" fill="#fff" stroke="#111" stroke-width="0.8"/><path d="M59.46 327.18H62.76L61.11 324.38Z" fill="#fff" stroke="#111" stroke-width="0.8"/><path d="M67.9 326.24H71.2L69.55 323.44Z" fill="#fff" stroke="#111" stroke-width="0.8"/><path d="M76.34 324.82H79.64L77.99 322.02Z" fill="#fff" stroke="#111" stroke-width="0.8"/><path d="M84.78 321.19H88.08L86.43 318.39Z" fill="#fff" stroke="#111" stroke-width="0.8"/><path d="M93.22 316.81H96.52L94.87 314.01Z" fill="#fff" stroke="#111" stroke-width="0.8"/><path d="M101.66 311.62H104.96L103.31 308.82Z" fill="#fff" stroke="#111" stroke-width="0.8"/><path d="M110.1 306.19H113.4L111.75 303.39Z" fill="#fff" stroke="#111" stroke-width="0.8"/><path d="M118.54 306.19H121.84L120.19 303.39Z" fill="#fff" stroke="#111" stroke-width="0.8"/><path d="M126.98 303.6H130.28L128.63 300.8Z" fill="#fff" stroke="#111" stroke-width="0.8"/><path d="M135.42 300.77H138.72L137.07 297.97Z" fill="#fff" stroke="#111" stroke-width="0.8"/><path d="M143.86 298.41H147.16L145.51 295.61Z" fill="#fff" stroke="#111" stroke-width="0.8"/><circle cx="153.95" cy="292.96" r="1.4" fill="none" stroke="#111" stroke-width="0.8"/><circle cx="162.39" cy="291.55" r="1.4" fill="none" stroke="#111" stroke-width="0.8"/><circle cx="170.83" cy="291.08" r="1.4" fill="none" stroke="#111" stroke-width="0.8"/><circle cx="179.27" cy="290.61" r="1.4" fill="none" stroke="#111" stroke-width="0.8"/><circle cx="187.71" cy="290.13" r="1.4" fill="none" stroke="#111" stroke-width="0.8"/><circle cx="196.15" cy="290.61" r="1.4" fill="none" stroke="#111" stroke-width="0.8"/><circle cx="204.59" cy="290.37" r="1.4" fill="none" stroke="#111" stroke-width="0.8"/><circle cx="213.03" cy="290.13" r="1.4" fill="none" stroke="#111" stroke-width="0.8"/><circle cx="221.47" cy="289.66" r="1.4" fill="none" stroke="#111" stroke-width="0.8"/><circle cx="229.91" cy="290.13" r="1.4" fill="none" stroke="#111" stroke-width="0.8"/>
<rect x="25.75" y="327.21" width="3.2" height="3.2" fill="#000"/><rect x="34.19" y="326.27" width="3.2" height="3.2" fill="#000"/><rect x="42.63" y="325.33" width="3.2" height="3.2" fill="#000"/><rect x="51.07" y="323.91" width="3.2" height="3.2" fill="#000"/><rect x="59.51" y="322.02" width="3.2" height="3.2" fill="#000"/><rect x="67.95" y="320.42" width="3.2" height="3.2" fill="#000"/><rect x="76.39" y="317.4" width="3.2" height="3.2" fill="#000"/><rect x="84.83" y="310.7" width="3.2" height="3.2" fill="#000"/><rect x="93.27" y="306.93" width="3.2" height="3.2" fill="#000"/><rect x="101.71" y="304.1" width="3.2" height="3.2" fill="#000"/><rect x="110.15" y="301.74" width="3.2" height="3.2" fill="#000"/><rect x="118.59" y="297.97" width="3.2" height="3.2" fill="#000"/><rect x="127.03" y="290.89" width="3.2" height="3.2" fill="#000"/><rect x="135.47" y="286.65" width="3.2" height="3.2" fill="#000"/><rect x="143.91" y="282.87" width="3.2" height="3.2" fill="#000"/><rect x="152.35" y="280.51" width="3.2" height="3.2" fill="#000"/><rect x="160.79" y="280.04" width="3.2" height="3.2" fill="#000"/><rect x="169.23" y="280.04" width="3.2" height="3.2" fill="#000"/><rect x="177.67" y="279.57" width="3.2" height="3.2" fill="#000"/><rect x="186.11" y="279.1" width="3.2" height="3.2" fill="#000"/><rect x="194.55" y="279.57" width="3.2" height="3.2" fill="#000"/><rect x="202.99" y="279.81" width="3.2" height="3.2" fill="#000"/><rect x="211.43" y="280.04" width="3.2" height="3.2" fill="#000"/><rect x="219.87" y="280.28" width="3.2" height="3.2" fill="#000"/><rect x="228.31" y="280.51" width="3.2" height="3.2" fill="#000"/>
<rect x="26" y="327.46" width="2.7" height="2.7" fill="#fff" stroke="#111" stroke-width="0.8"/><rect x="34.44" y="326.05" width="2.7" height="2.7" fill="#fff" stroke="#111" stroke-width="0.8"/><rect x="42.88" y="324.63" width="2.7" height="2.7" fill="#fff" stroke="#111" stroke-width="0.8"/><rect x="51.32" y="322.27" width="2.7" height="2.7" fill="#fff" stroke="#111" stroke-width="0.8"/><rect x="59.76" y="319.92" width="2.7" height="2.7" fill="#fff" stroke="#111" stroke-width="0.8"/><rect x="68.2" y="316.61" width="2.7" height="2.7" fill="#fff" stroke="#111" stroke-width="0.8"/><rect x="76.64" y="308.27" width="2.7" height="2.7" fill="#fff" stroke="#111" stroke-width="0.8"/><rect x="85.08" y="303.64" width="2.7" height="2.7" fill="#fff" stroke="#111" stroke-width="0.8"/><rect x="93.52" y="301.05" width="2.7" height="2.7" fill="#fff" stroke="#111" stroke-width="0.8"/><rect x="101.96" y="299.63" width="2.7" height="2.7" fill="#fff" stroke="#111" stroke-width="0.8"/><rect x="110.4" y="289.73" width="2.7" height="2.7" fill="#fff" stroke="#111" stroke-width="0.8"/><rect x="118.84" y="286.9" width="2.7" height="2.7" fill="#fff" stroke="#111" stroke-width="0.8"/><rect x="127.28" y="283.12" width="2.7" height="2.7" fill="#fff" stroke="#111" stroke-width="0.8"/><rect x="135.72" y="280.76" width="2.7" height="2.7" fill="#fff" stroke="#111" stroke-width="0.8"/><rect x="144.16" y="277.46" width="2.7" height="2.7" fill="#fff" stroke="#111" stroke-width="0.8"/><rect x="152.6" y="275.58" width="2.7" height="2.7" fill="#fff" stroke="#111" stroke-width="0.8"/><rect x="161.04" y="275.34" width="2.7" height="2.7" fill="#fff" stroke="#111" stroke-width="0.8"/><rect x="169.48" y="275.58" width="2.7" height="2.7" fill="#fff" stroke="#111" stroke-width="0.8"/><rect x="177.92" y="275.58" width="2.7" height="2.7" fill="#fff" stroke="#111" stroke-width="0.8"/><rect x="186.36" y="275.1" width="2.7" height="2.7" fill="#fff" stroke="#111" stroke-width="0.8"/><rect x="194.8" y="272.75" width="2.7" height="2.7" fill="#fff" stroke="#111" stroke-width="0.8"/><rect x="203.24" y="272.75" width="2.7" height="2.7" fill="#fff" stroke="#111" stroke-width="0.8"/><rect x="211.68" y="273.22" width="2.7" height="2.7" fill="#fff" stroke="#111" stroke-width="0.8"/><rect x="220.12" y="272.75" width="2.7" height="2.7" fill="#fff" stroke="#111" stroke-width="0.8"/><rect x="228.56" y="271.8" width="2.7" height="2.7" fill="#fff" stroke="#111" stroke-width="0.8"/><path d="M137.07 280.23V284M135.77 280.23H138.37M135.77 284H138.37" stroke="#000" stroke-width="0.6"/><path d="M145.51 276.45V281.17M144.21 276.45H146.81M144.21 281.17H146.81" stroke="#000" stroke-width="0.6"/><path d="M153.95 274.33V279.52M152.65 274.33H155.25M152.65 279.52H155.25" stroke="#000" stroke-width="0.6"/><path d="M162.39 274.33V279.05M161.09 274.33H163.69M161.09 279.05H163.69" stroke="#000" stroke-width="0.6"/><path d="M170.83 274.8V279.05M169.53 274.8H172.13M169.53 279.05H172.13" stroke="#000" stroke-width="0.6"/><path d="M179.27 274.8V279.05M177.97 274.8H180.57M177.97 279.05H180.57" stroke="#000" stroke-width="0.6"/><path d="M187.71 274.1V278.81M186.41 274.1H189.01M186.41 278.81H189.01" stroke="#000" stroke-width="0.6"/><path d="M196.15 271.5V276.69M194.85 271.5H197.45M194.85 276.69H197.45" stroke="#000" stroke-width="0.6"/><path d="M204.59 271.5V276.69M203.29 271.5H205.89M203.29 276.69H205.89" stroke="#000" stroke-width="0.6"/><path d="M213.03 272.45V276.69M211.73 272.45H214.33M211.73 276.69H214.33" stroke="#000" stroke-width="0.6"/><path d="M221.47 271.74V276.45M220.17 271.74H222.77M220.17 276.45H222.77" stroke="#000" stroke-width="0.6"/><path d="M229.91 270.32V275.98M228.61 270.32H231.21M228.61 275.98H231.21" stroke="#000" stroke-width="0.6"/>
<path d="M27.35 326.71L29.45 328.81L27.35 330.91L25.25 328.81Z" fill="#000"/><path d="M35.79 324.5L37.89 326.6L35.79 328.7L33.69 326.6Z" fill="#000"/><path d="M44.23 321.71L46.33 323.81L44.23 325.91L42.13 323.81Z" fill="#000"/><path d="M52.67 317.75L54.77 319.85L52.67 321.95L50.57 319.85Z" fill="#000"/><path d="M61.11 310.91L63.21 313.01L61.11 315.11L59.01 313.01Z" fill="#000"/><path d="M69.55 302.89L71.65 304.99L69.55 307.09L67.45 304.99Z" fill="#000"/><path d="M77.99 298.88L80.09 300.98L77.99 303.08L75.89 300.98Z" fill="#000"/><path d="M86.43 293.93L88.53 296.03L86.43 298.13L84.33 296.03Z" fill="#000"/><path d="M94.87 290.39L96.97 292.49L94.87 294.59L92.77 292.49Z" fill="#000"/><path d="M103.31 283.79L105.41 285.89L103.31 287.99L101.21 285.89Z" fill="#000"/><path d="M111.75 272.47L113.85 274.57L111.75 276.67L109.65 274.57Z" fill="#000"/><path d="M120.19 262.09L122.29 264.19L120.19 266.29L118.09 264.19Z" fill="#000"/><path d="M128.63 257.84L130.73 259.94L128.63 262.05L126.53 259.94Z" fill="#000"/><path d="M137.07 256.43L139.17 258.53L137.07 260.63L134.97 258.53Z" fill="#000"/><path d="M145.51 254.31L147.61 256.41L145.51 258.51L143.41 256.41Z" fill="#000"/><path d="M153.95 253.13L156.05 255.23L153.95 257.33L151.85 255.23Z" fill="#000"/><path d="M162.39 252.66L164.49 254.76L162.39 256.86L160.29 254.76Z" fill="#000"/><path d="M170.83 252.42L172.93 254.52L170.83 256.62L168.73 254.52Z" fill="#000"/><path d="M179.27 252.66L181.37 254.76L179.27 256.86L177.17 254.76Z" fill="#000"/><path d="M187.71 253.13L189.81 255.23L187.71 257.33L185.61 255.23Z" fill="#000"/><path d="M196.15 253.6L198.25 255.7L196.15 257.8L194.05 255.7Z" fill="#000"/><path d="M204.59 255.01L206.69 257.11L204.59 259.21L202.49 257.11Z" fill="#000"/><path d="M213.03 255.49L215.13 257.59L213.03 259.69L210.93 257.59Z" fill="#000"/><path d="M221.47 256.9L223.57 259L221.47 261.1L219.37 259Z" fill="#000"/><path d="M229.91 258.32L232.01 260.42L229.91 262.52L227.81 260.42Z" fill="#000"/><path d="M120.19 261.83V266.55M118.89 261.83H121.49M118.89 266.55H121.49" stroke="#000" stroke-width="0.6"/>
<path d="M27.35 328.81 31.57 328.76 35.79 328.71 40.01 328.66 44.23 328.61 48.45 328.56 52.67 328.51 56.89 328.46 61.11 328.4 65.33 328.35 69.55 328.3 73.77 328.25 77.99 328.2 82.21 328.15 86.43 328.1 90.65 328.05 94.87 328 99.09 327.94 103.31 327.89 107.53 327.84 111.75 327.79 115.97 327.74 120.19 327.69 124.41 327.64 128.63 327.59 132.85 327.5 137.07 327.42 141.29 327.34 145.51 327.26 149.73 327.17 153.95 327.09 158.17 327.01 162.39 326.93 166.61 326.84 170.83 326.76 175.05 326.68 179.27 326.6 183.49 326.51 187.71 326.43 191.93 326.35 196.15 326.27 200.37 326.18 204.59 326.1 208.81 326.02 213.03 325.94 217.25 325.85 221.47 325.77 225.69 325.69 229.91 325.61" fill="none" stroke="#a81c2a" stroke-width="1.15"/>
<path d="M27.35 328.72 29.46 328.72 31.57 328.72 33.68 328.72 35.79 328.72 37.9 328.72 40.01 328.72 42.12 328.72 44.23 328.72 46.34 328.71 48.45 328.71 50.56 328.71 52.67 328.71 54.78 328.71 56.89 328.71 59 328.7 61.11 328.7 63.22 328.69 65.33 328.69 67.44 328.68 69.55 328.67 71.66 328.65 73.77 328.64 75.88 328.62 77.99 328.6 80.1 328.58 82.21 328.55 84.32 328.52 86.43 328.48 88.54 328.43 90.65 328.38 92.76 328.33 94.87 328.26 96.98 328.19 99.09 328.11 101.2 328.02 103.31 327.91 105.42 327.8 107.53 327.68 109.64 327.54 111.75 327.39 113.86 327.23 115.97 327.05 118.08 326.86 120.19 326.65 122.3 326.43 124.41 326.19 126.52 325.94 128.63 325.67 130.74 325.38 132.85 325.07 134.96 324.75 137.07 324.41 139.18 324.05 141.29 323.68 143.4 323.29 145.51 322.88 147.62 322.45 149.73 322.01 151.84 321.55 153.95 321.08 156.06 320.59 158.17 320.09 160.28 319.57 162.39 319.04 164.5 318.49 166.61 317.94 168.72 317.37 170.83 316.79 172.94 316.19 175.05 315.59 177.16 314.98 179.27 314.37 181.38 313.74 183.49 313.11 185.6 312.47 187.71 311.83 189.82 311.18 191.93 310.53 194.04 309.87 196.15 309.21 198.26 308.55 200.37 307.89 202.48 307.23 204.59 306.57 206.7 305.91 208.81 305.26 210.92 304.6 213.03 303.95 215.14 303.3 217.25 302.65 219.36 302.01 221.47 301.37 223.58 300.74 225.69 300.12 227.8 299.49 229.91 298.88" fill="none" stroke="#c8d820" stroke-width="1.15"/>
<path d="M27.35 327.94 29.46 327.94 31.57 327.94 33.68 327.94 35.79 327.94 37.9 327.94 40.01 327.94 42.12 327.94 44.23 327.94 46.34 327.94 48.45 327.94 50.56 327.94 52.67 327.94 54.78 327.94 56.89 327.94 59 327.94 61.11 327.94 63.22 327.94 65.33 327.94 67.44 327.94 69.55 327.94 71.66 327.94 73.77 327.94 75.88 327.94 77.99 327.94 80.1 327.94 82.21 327.93 84.32 327.91 86.43 327.87 88.54 327.8 90.65 327.7 92.76 327.54 94.87 327.31 96.98 326.99 99.09 326.57 101.2 326.05 103.31 325.42 105.42 324.69 107.53 323.84 109.64 322.91 111.75 321.9 113.86 320.82 115.97 319.7 118.08 318.55 120.19 317.39 122.3 316.24 124.41 315.09 126.52 313.98 128.63 312.91 130.74 311.88 132.85 310.9 134.96 309.97 137.07 309.1 139.18 308.29 141.29 307.54 143.4 306.84 145.51 306.19 147.62 305.6 149.73 305.06 151.84 304.57 153.95 304.11 156.06 303.7 158.17 303.33 160.28 302.99 162.39 302.69 164.5 302.41 166.61 302.16 168.72 301.94 170.83 301.74 172.94 301.56 175.05 301.39 177.16 301.25 179.27 301.11 181.38 301 183.49 300.89 185.6 300.79 187.71 300.71 189.82 300.63 191.93 300.56 194.04 300.5 196.15 300.45 198.26 300.4 200.37 300.36 202.48 300.32 204.59 300.28 206.7 300.25 208.81 300.22 210.92 300.2 213.03 300.17 215.14 300.15 217.25 300.14 219.36 300.12 221.47 300.11 223.58 300.09 225.69 300.08 227.8 300.07 229.91 300.06" fill="none" stroke="#8a1c26" stroke-width="1.15"/>
<path d="M27.35 327.84 29.46 327.84 31.57 327.84 33.68 327.84 35.79 327.84 37.9 327.84 40.01 327.84 42.12 327.84 44.23 327.83 46.34 327.82 48.45 327.81 50.56 327.78 52.67 327.75 54.78 327.7 56.89 327.63 59 327.53 61.11 327.41 63.22 327.24 65.33 327.04 67.44 326.78 69.55 326.47 71.66 326.1 73.77 325.67 75.88 325.17 77.99 324.61 80.1 323.98 82.21 323.29 84.32 322.53 86.43 321.72 88.54 320.85 90.65 319.93 92.76 318.97 94.87 317.97 96.98 316.95 99.09 315.9 101.2 314.83 103.31 313.75 105.42 312.67 107.53 311.59 109.64 310.52 111.75 309.46 113.86 308.42 115.97 307.4 118.08 306.4 120.19 305.43 122.3 304.48 124.41 303.57 126.52 302.69 128.63 301.85 130.74 301.03 132.85 300.26 134.96 299.51 137.07 298.81 139.18 298.13 141.29 297.49 143.4 296.88 145.51 296.31 147.62 295.76 149.73 295.25 151.84 294.76 153.95 294.3 156.06 293.87 158.17 293.46 160.28 293.08 162.39 292.72 164.5 292.38 166.61 292.07 168.72 291.77 170.83 291.49 172.94 291.23 175.05 290.99 177.16 290.76 179.27 290.55 181.38 290.35 183.49 290.16 185.6 289.99 187.71 289.83 189.82 289.68 191.93 289.54 194.04 289.4 196.15 289.28 198.26 289.17 200.37 289.06 202.48 288.96 204.59 288.87 206.7 288.78 208.81 288.7 210.92 288.62 213.03 288.56 215.14 288.49 217.25 288.43 219.36 288.37 221.47 288.32 223.58 288.27 225.69 288.23 227.8 288.18 229.91 288.14" fill="none" stroke="#ff8c1a" stroke-width="1.15"/>
<path d="M27.35 327.65 29.46 327.65 31.57 327.65 33.68 327.65 35.79 327.64 37.9 327.63 40.01 327.61 42.12 327.59 44.23 327.55 46.34 327.49 48.45 327.41 50.56 327.31 52.67 327.16 54.78 326.98 56.89 326.74 59 326.45 61.11 326.09 63.22 325.67 65.33 325.17 67.44 324.59 69.55 323.94 71.66 323.2 73.77 322.39 75.88 321.5 77.99 320.54 80.1 319.5 82.21 318.41 84.32 317.26 86.43 316.06 88.54 314.82 90.65 313.55 92.76 312.25 94.87 310.93 96.98 309.61 99.09 308.28 101.2 306.96 103.31 305.65 105.42 304.35 107.53 303.08 109.64 301.83 111.75 300.61 113.86 299.43 115.97 298.27 118.08 297.16 120.19 296.09 122.3 295.06 124.41 294.07 126.52 293.12 128.63 292.21 130.74 291.34 132.85 290.52 134.96 289.73 137.07 288.98 139.18 288.28 141.29 287.61 143.4 286.97 145.51 286.37 147.62 285.81 149.73 285.28 151.84 284.77 153.95 284.3 156.06 283.86 158.17 283.44 160.28 283.05 162.39 282.68 164.5 282.33 166.61 282.01 168.72 281.71 170.83 281.42 172.94 281.16 175.05 280.91 177.16 280.67 179.27 280.46 181.38 280.25 183.49 280.06 185.6 279.88 187.71 279.72 189.82 279.56 191.93 279.42 194.04 279.28 196.15 279.16 198.26 279.04 200.37 278.93 202.48 278.83 204.59 278.73 206.7 278.64 208.81 278.56 210.92 278.48 213.03 278.41 215.14 278.34 217.25 278.28 219.36 278.22 221.47 278.17 223.58 278.11 225.69 278.07 227.8 278.02 229.91 277.98" fill="none" stroke="#aa6630" stroke-width="1.15"/>
<path d="M27.35 326.87 29.46 326.86 31.57 326.83 33.68 326.8 35.79 326.75 37.9 326.68 40.01 326.59 42.12 326.46 44.23 326.29 46.34 326.08 48.45 325.82 50.56 325.5 52.67 325.12 54.78 324.66 56.89 324.14 59 323.53 61.11 322.85 63.22 322.09 65.33 321.25 67.44 320.33 69.55 319.34 71.66 318.29 73.77 317.17 75.88 316 77.99 314.78 80.1 313.52 82.21 312.23 84.32 310.91 86.43 309.57 88.54 308.22 90.65 306.86 92.76 305.51 94.87 304.16 96.98 302.83 99.09 301.52 101.2 300.24 103.31 298.98 105.42 297.75 107.53 296.55 109.64 295.39 111.75 294.27 113.86 293.19 115.97 292.14 118.08 291.14 120.19 290.18 122.3 289.26 124.41 288.39 126.52 287.55 128.63 286.75 130.74 285.99 132.85 285.27 134.96 284.58 137.07 283.93 139.18 283.32 141.29 282.74 143.4 282.19 145.51 281.67 147.62 281.18 149.73 280.72 151.84 280.29 153.95 279.88 156.06 279.49 158.17 279.13 160.28 278.79 162.39 278.47 164.5 278.17 166.61 277.89 168.72 277.63 170.83 277.38 172.94 277.15 175.05 276.93 177.16 276.73 179.27 276.53 181.38 276.36 183.49 276.19 185.6 276.03 187.71 275.88 189.82 275.75 191.93 275.62 194.04 275.5 196.15 275.39 198.26 275.28 200.37 275.18 202.48 275.09 204.59 275.01 206.7 274.93 208.81 274.85 210.92 274.78 213.03 274.72 215.14 274.66 217.25 274.6 219.36 274.55 221.47 274.5 223.58 274.45 225.69 274.41 227.8 274.37 229.91 274.33" fill="none" stroke="#94a020" stroke-width="1.15"/>
<path d="M27.35 325.39 29.46 325.37 31.57 325.32 33.68 325.26 35.79 325.16 37.9 325.02 40.01 324.83 42.12 324.57 44.23 324.24 46.34 323.81 48.45 323.28 50.56 322.64 52.67 321.87 54.78 320.98 56.89 319.95 59 318.79 61.11 317.49 63.22 316.07 65.33 314.53 67.44 312.88 69.55 311.13 71.66 309.29 73.77 307.38 75.88 305.41 77.99 303.4 80.1 301.36 82.21 299.31 84.32 297.25 86.43 295.2 88.54 293.17 90.65 291.17 92.76 289.21 94.87 287.3 96.98 285.44 99.09 283.64 101.2 281.9 103.31 280.22 105.42 278.62 107.53 277.08 109.64 275.61 111.75 274.21 113.86 272.88 115.97 271.62 118.08 270.43 120.19 269.3 122.3 268.24 124.41 267.24 126.52 266.29 128.63 265.41 130.74 264.57 132.85 263.79 134.96 263.06 137.07 262.38 139.18 261.74 141.29 261.14 143.4 260.58 145.51 260.06 147.62 259.57 149.73 259.12 151.84 258.7 153.95 258.31 156.06 257.94 158.17 257.6 160.28 257.28 162.39 256.99 164.5 256.72 166.61 256.46 168.72 256.23 170.83 256.01 172.94 255.81 175.05 255.62 177.16 255.44 179.27 255.28 181.38 255.13 183.49 254.99 185.6 254.86 187.71 254.74 189.82 254.63 191.93 254.53 194.04 254.43 196.15 254.34 198.26 254.26 200.37 254.19 202.48 254.12 204.59 254.05 206.7 253.99 208.81 253.93 210.92 253.88 213.03 253.84 215.14 253.79 217.25 253.75 219.36 253.71 221.47 253.68 223.58 253.64 225.69 253.61 227.8 253.59 229.91 253.56" fill="none" stroke="#a81c2a" stroke-width="1.15"/>
<circle cx="242.4" cy="251.25" r="1.75" fill="#000"/>
<text class="lg" x="251.2" y="253" xml:space="preserve" textLength="10.38" lengthAdjust="spacingAndGlyphs"> MIC</text>
<circle cx="242.4" cy="257.2" r="1.4" fill="none" stroke="#111" stroke-width="0.8"/>
<text class="lg" x="251.2" y="258.95" xml:space="preserve" textLength="16.57" lengthAdjust="spacingAndGlyphs">1/2 MIC</text>
<path d="M240.5 261.85H244.3L242.4 265.05Z" fill="#000"/>
<text class="lg" x="251.2" y="264.9" xml:space="preserve" textLength="16.57" lengthAdjust="spacingAndGlyphs">1/4 MIC</text>
<path d="M240.75 270.3H244.05L242.4 267.5Z" fill="#fff" stroke="#111" stroke-width="0.8"/>
<text class="lg" x="251.2" y="270.85" xml:space="preserve" textLength="16.57" lengthAdjust="spacingAndGlyphs">1/8 MIC</text>
<rect x="240.8" y="273.45" width="3.2" height="3.2" fill="#000"/>
<text class="lg" x="251.2" y="276.8" xml:space="preserve" textLength="19" lengthAdjust="spacingAndGlyphs">1/16 MIC</text>
<rect x="241.05" y="279.65" width="2.7" height="2.7" fill="#fff" stroke="#111" stroke-width="0.8"/>
<text class="lg" x="251.2" y="282.75" xml:space="preserve" textLength="19" lengthAdjust="spacingAndGlyphs">1/32 MIC</text>
<path d="M242.4 284.85L244.5 286.95L242.4 289.05L240.3 286.95Z" fill="#000"/>
<text class="lg" x="251.2" y="288.7" xml:space="preserve" textLength="6.74" lengthAdjust="spacingAndGlyphs">CK</text>
<text class="gz" x="237.5" y="297.2">Gompertz:</text>
<path d="M237.1 304.1H248.4" stroke="#b84646" stroke-width="1.45"/>
<text class="lg" x="251.2" y="305.95" textLength="12.8" lengthAdjust="spacingAndGlyphs">1 MIC</text>
<path d="M237.1 310.05H248.4" stroke="#c8d820" stroke-width="1.45"/>
<text class="lg" x="251.2" y="311.9" textLength="16.57" lengthAdjust="spacingAndGlyphs">1/2 MIC</text>
<path d="M237.1 316H248.4" stroke="#8a1c26" stroke-width="1.45"/>
<text class="lg" x="251.2" y="317.85" textLength="16.57" lengthAdjust="spacingAndGlyphs">1/4 MIC</text>
<path d="M237.1 321.95H248.4" stroke="#ff8c1a" stroke-width="1.45"/>
<text class="lg" x="251.2" y="323.8" textLength="16.57" lengthAdjust="spacingAndGlyphs">1/8 MIC</text>
<path d="M237.1 327.9H248.4" stroke="#aa6630" stroke-width="1.45"/>
<text class="lg" x="251.2" y="329.75" textLength="19" lengthAdjust="spacingAndGlyphs">1/16 MIC</text>
<path d="M237.1 333.85H248.4" stroke="#94a020" stroke-width="1.45"/>
<text class="lg" x="251.2" y="335.7" textLength="19" lengthAdjust="spacingAndGlyphs">1/32 MIC</text>
<path d="M237.1 339.8H248.4" stroke="#a81c2a" stroke-width="1.45"/>
<text class="lg" x="251.2" y="341.65" textLength="6.74" lengthAdjust="spacingAndGlyphs">CK</text></g>
<g><path d="M304.05 245.79V335.35H506.97" fill="none" stroke="#777" stroke-width="0.95"/>
<path d="M302.05 330.7H304.05M302.05 321.27H304.05M302.05 311.83H304.05M302.05 302.4H304.05M302.05 292.96H304.05M302.05 283.53H304.05M302.05 274.1H304.05M302.05 264.66H304.05M302.05 255.23H304.05M302.05 245.79H304.05M304.05 335.35V337.15M312.5 335.35V337.15M320.96 335.35V337.15M329.42 335.35V337.15M337.87 335.35V337.15M346.32 335.35V337.15M354.78 335.35V337.15M363.24 335.35V337.15M371.69 335.35V337.15M380.14 335.35V337.15M388.6 335.35V337.15M397.06 335.35V337.15M405.51 335.35V337.15M413.97 335.35V337.15M422.42 335.35V337.15M430.88 335.35V337.15M439.33 335.35V337.15M447.79 335.35V337.15M456.24 335.35V337.15M464.7 335.35V337.15M473.15 335.35V337.15M481.61 335.35V337.15M490.06 335.35V337.15M498.51 335.35V337.15M506.97 335.35V337.15" stroke="#777" stroke-width="0.8"/>
<g class="tl"><text x="299.85" y="332.7" text-anchor="end">0.0</text><text x="299.85" y="323.27" text-anchor="end">0.2</text><text x="299.85" y="313.83" text-anchor="end">0.4</text><text x="299.85" y="304.4" text-anchor="end">0.6</text><text x="299.85" y="294.96" text-anchor="end">0.8</text><text x="299.85" y="285.53" text-anchor="end">1.0</text><text x="299.85" y="276.1" text-anchor="end">1.2</text><text x="299.85" y="266.66" text-anchor="end">1.4</text><text x="299.85" y="257.23" text-anchor="end">1.6</text><text x="299.85" y="247.79" text-anchor="end">1.8</text><text x="304.05" y="346" text-anchor="middle">0</text><text x="312.5" y="346" text-anchor="middle">1</text><text x="320.96" y="346" text-anchor="middle">2</text><text x="329.42" y="346" text-anchor="middle">3</text><text x="337.87" y="346" text-anchor="middle">4</text><text x="346.32" y="346" text-anchor="middle">5</text><text x="354.78" y="346" text-anchor="middle">6</text><text x="363.24" y="346" text-anchor="middle">7</text><text x="371.69" y="346" text-anchor="middle">8</text><text x="380.14" y="346" text-anchor="middle">9</text><text x="388.6" y="346" text-anchor="middle">10</text><text x="397.06" y="346" text-anchor="middle">11</text><text x="405.51" y="346" text-anchor="middle">12</text><text x="413.97" y="346" text-anchor="middle">13</text><text x="422.42" y="346" text-anchor="middle">14</text><text x="430.88" y="346" text-anchor="middle">15</text><text x="439.33" y="346" text-anchor="middle">16</text><text x="447.79" y="346" text-anchor="middle">17</text><text x="456.24" y="346" text-anchor="middle">18</text><text x="464.7" y="346" text-anchor="middle">19</text><text x="473.15" y="346" text-anchor="middle">20</text><text x="481.61" y="346" text-anchor="middle">21</text><text x="490.06" y="346" text-anchor="middle">22</text><text x="498.51" y="346" text-anchor="middle">23</text><text x="506.97" y="346" text-anchor="middle">24</text></g>
<text class="xt" x="405.6" y="356" text-anchor="middle">Incubation Time / h</text>
<g transform="translate(284.9 300.9) rotate(-90)"><text class="yt" x="0" y="0" textLength="8.6" lengthAdjust="spacingAndGlyphs">OD</text><text class="sub" x="9.3" y="0.8" textLength="11.3" lengthAdjust="spacingAndGlyphs">600nm</text></g>
<text class="pl" x="327" y="256.7">(F)</text>
<circle cx="304.05" cy="329.52" r="1.75" fill="#000"/><circle cx="312.5" cy="329.52" r="1.75" fill="#000"/><circle cx="320.96" cy="329.52" r="1.75" fill="#000"/><circle cx="329.42" cy="329.52" r="1.75" fill="#000"/><circle cx="337.87" cy="329.52" r="1.75" fill="#000"/><circle cx="346.32" cy="329.52" r="1.75" fill="#000"/><circle cx="354.78" cy="329.52" r="1.75" fill="#000"/><circle cx="363.24" cy="329.52" r="1.75" fill="#000"/><circle cx="371.69" cy="329.52" r="1.75" fill="#000"/><circle cx="380.14" cy="329.52" r="1.75" fill="#000"/><circle cx="388.6" cy="329.52" r="1.75" fill="#000"/><circle cx="397.06" cy="329.52" r="1.75" fill="#000"/><circle cx="405.51" cy="329.52" r="1.75" fill="#000"/><circle cx="413.97" cy="329.52" r="1.75" fill="#000"/><circle cx="422.42" cy="329.52" r="1.75" fill="#000"/><circle cx="430.88" cy="329.52" r="1.75" fill="#000"/><circle cx="439.33" cy="329.52" r="1.75" fill="#000"/><circle cx="447.79" cy="329.52" r="1.75" fill="#000"/><circle cx="456.24" cy="329.52" r="1.75" fill="#000"/><circle cx="464.7" cy="329.52" r="1.75" fill="#000"/><circle cx="473.15" cy="329.52" r="1.75" fill="#000"/><circle cx="481.61" cy="329.52" r="1.75" fill="#000"/><circle cx="490.06" cy="329.52" r="1.75" fill="#000"/><circle cx="498.51" cy="329.52" r="1.75" fill="#000"/><circle cx="506.97" cy="329.52" r="1.75" fill="#000"/>
<circle cx="304.05" cy="327.87" r="1.4" fill="none" stroke="#111" stroke-width="0.8"/><circle cx="312.5" cy="327.87" r="1.4" fill="none" stroke="#111" stroke-width="0.8"/><circle cx="320.96" cy="327.87" r="1.4" fill="none" stroke="#111" stroke-width="0.8"/><circle cx="329.42" cy="327.87" r="1.4" fill="none" stroke="#111" stroke-width="0.8"/><circle cx="337.87" cy="327.87" r="1.4" fill="none" stroke="#111" stroke-width="0.8"/><circle cx="346.32" cy="327.87" r="1.4" fill="none" stroke="#111" stroke-width="0.8"/><circle cx="354.78" cy="327.87" r="1.4" fill="none" stroke="#111" stroke-width="0.8"/><circle cx="363.24" cy="327.87" r="1.4" fill="none" stroke="#111" stroke-width="0.8"/><circle cx="371.69" cy="327.87" r="1.4" fill="none" stroke="#111" stroke-width="0.8"/><circle cx="380.14" cy="327.87" r="1.4" fill="none" stroke="#111" stroke-width="0.8"/><circle cx="388.6" cy="327.87" r="1.4" fill="none" stroke="#111" stroke-width="0.8"/><circle cx="397.06" cy="327.87" r="1.4" fill="none" stroke="#111" stroke-width="0.8"/><circle cx="405.51" cy="327.87" r="1.4" fill="none" stroke="#111" stroke-width="0.8"/><circle cx="413.97" cy="327.87" r="1.4" fill="none" stroke="#111" stroke-width="0.8"/><circle cx="422.42" cy="327.87" r="1.4" fill="none" stroke="#111" stroke-width="0.8"/><circle cx="430.88" cy="327.87" r="1.4" fill="none" stroke="#111" stroke-width="0.8"/><circle cx="439.33" cy="327.87" r="1.4" fill="none" stroke="#111" stroke-width="0.8"/><circle cx="447.79" cy="327.87" r="1.4" fill="none" stroke="#111" stroke-width="0.8"/><circle cx="456.24" cy="326.93" r="1.4" fill="none" stroke="#111" stroke-width="0.8"/><circle cx="464.7" cy="324.57" r="1.4" fill="none" stroke="#111" stroke-width="0.8"/><circle cx="473.15" cy="321.27" r="1.4" fill="none" stroke="#111" stroke-width="0.8"/><circle cx="481.61" cy="316.55" r="1.4" fill="none" stroke="#111" stroke-width="0.8"/><circle cx="490.06" cy="313.01" r="1.4" fill="none" stroke="#111" stroke-width="0.8"/><circle cx="498.51" cy="309.47" r="1.4" fill="none" stroke="#111" stroke-width="0.8"/><circle cx="506.97" cy="304.99" r="1.4" fill="none" stroke="#111" stroke-width="0.8"/>
<path d="M302.15 327.51H305.95L304.05 330.71Z" fill="#000"/><path d="M310.61 327.04H314.4L312.5 330.24Z" fill="#000"/><path d="M319.06 326.1H322.86L320.96 329.3Z" fill="#000"/><path d="M327.52 323.74H331.31L329.42 326.94Z" fill="#000"/><path d="M335.97 319.97H339.77L337.87 323.17Z" fill="#000"/><path d="M344.43 316.66H348.22L346.32 319.86Z" fill="#000"/><path d="M352.88 313.83H356.68L354.78 317.03Z" fill="#000"/><path d="M361.34 310.06H365.13L363.24 313.26Z" fill="#000"/><path d="M369.79 306.76H373.59L371.69 309.96Z" fill="#000"/><path d="M378.25 302.98H382.04L380.14 306.18Z" fill="#000"/><path d="M386.7 301.1H390.5L388.6 304.3Z" fill="#000"/><path d="M395.16 299.21H398.95L397.06 302.41Z" fill="#000"/><path d="M403.61 297.8H407.41L405.51 301Z" fill="#000"/><path d="M412.07 296.38H415.87L413.97 299.58Z" fill="#000"/><path d="M420.52 294.97H424.32L422.42 298.17Z" fill="#000"/><path d="M428.98 293.31H432.77L430.88 296.51Z" fill="#000"/><path d="M437.43 293.08H441.23L439.33 296.28Z" fill="#000"/><path d="M445.89 292.84H449.69L447.79 296.04Z" fill="#000"/><path d="M454.34 292.84H458.14L456.24 296.04Z" fill="#000"/><path d="M462.8 293.08H466.6L464.7 296.28Z" fill="#000"/><path d="M471.25 293.31H475.05L473.15 296.51Z" fill="#000"/><path d="M479.71 293.31H483.5L481.61 296.51Z" fill="#000"/><path d="M488.16 293.31H491.96L490.06 296.51Z" fill="#000"/><path d="M496.62 293.31H500.41L498.51 296.51Z" fill="#000"/><path d="M505.07 293.31H508.87L506.97 296.51Z" fill="#000"/>
<path d="M302.4 330.01H305.7L304.05 327.21Z" fill="#fff" stroke="#111" stroke-width="0.8"/><path d="M310.86 329.07H314.15L312.5 326.27Z" fill="#fff" stroke="#111" stroke-width="0.8"/><path d="M319.31 327.65H322.61L320.96 324.85Z" fill="#fff" stroke="#111" stroke-width="0.8"/><path d="M327.77 324.82H331.06L329.42 322.02Z" fill="#fff" stroke="#111" stroke-width="0.8"/><path d="M336.22 321.52H339.52L337.87 318.72Z" fill="#fff" stroke="#111" stroke-width="0.8"/><path d="M344.68 315.39H347.97L346.32 312.59Z" fill="#fff" stroke="#111" stroke-width="0.8"/><path d="M353.13 308.31H356.43L354.78 305.51Z" fill="#fff" stroke="#111" stroke-width="0.8"/><path d="M361.59 303.6H364.88L363.24 300.8Z" fill="#fff" stroke="#111" stroke-width="0.8"/><path d="M370.04 298.88H373.34L371.69 296.08Z" fill="#fff" stroke="#111" stroke-width="0.8"/><path d="M378.5 294.16H381.79L380.14 291.36Z" fill="#fff" stroke="#111" stroke-width="0.8"/><path d="M386.95 286.15H390.25L388.6 283.35Z" fill="#fff" stroke="#111" stroke-width="0.8"/><path d="M395.41 283.79H398.7L397.06 280.99Z" fill="#fff" stroke="#111" stroke-width="0.8"/><path d="M403.86 278.13H407.16L405.51 275.33Z" fill="#fff" stroke="#111" stroke-width="0.8"/><path d="M412.32 277.65H415.62L413.97 274.85Z" fill="#fff" stroke="#111" stroke-width="0.8"/><path d="M420.77 278.6H424.07L422.42 275.8Z" fill="#fff" stroke="#111" stroke-width="0.8"/><path d="M429.23 278.13H432.52L430.88 275.33Z" fill="#fff" stroke="#111" stroke-width="0.8"/><path d="M437.68 277.89H440.98L439.33 275.09Z" fill="#fff" stroke="#111" stroke-width="0.8"/><path d="M446.14 277.65H449.44L447.79 274.85Z" fill="#fff" stroke="#111" stroke-width="0.8"/><path d="M454.59 276.71H457.89L456.24 273.91Z" fill="#fff" stroke="#111" stroke-width="0.8"/><path d="M463.05 275.77H466.35L464.7 272.97Z" fill="#fff" stroke="#111" stroke-width="0.8"/><path d="M471.5 275.77H474.8L473.15 272.97Z" fill="#fff" stroke="#111" stroke-width="0.8"/><path d="M479.96 275.77H483.25L481.61 272.97Z" fill="#fff" stroke="#111" stroke-width="0.8"/><path d="M488.41 275.3H491.71L490.06 272.5Z" fill="#fff" stroke="#111" stroke-width="0.8"/><path d="M496.87 275.3H500.16L498.51 272.5Z" fill="#fff" stroke="#111" stroke-width="0.8"/><path d="M505.32 275.3H508.62L506.97 272.5Z" fill="#fff" stroke="#111" stroke-width="0.8"/>
<rect x="302.45" y="327.21" width="3.2" height="3.2" fill="#000"/><rect x="310.9" y="325.8" width="3.2" height="3.2" fill="#000"/><rect x="319.36" y="324.38" width="3.2" height="3.2" fill="#000"/><rect x="327.81" y="321.08" width="3.2" height="3.2" fill="#000"/><rect x="336.27" y="316.84" width="3.2" height="3.2" fill="#000"/><rect x="344.72" y="310.23" width="3.2" height="3.2" fill="#000"/><rect x="353.18" y="303.16" width="3.2" height="3.2" fill="#000"/><rect x="361.63" y="298.44" width="3.2" height="3.2" fill="#000"/><rect x="370.09" y="295.14" width="3.2" height="3.2" fill="#000"/><rect x="378.54" y="291.36" width="3.2" height="3.2" fill="#000"/><rect x="387" y="280.99" width="3.2" height="3.2" fill="#000"/><rect x="395.45" y="275.33" width="3.2" height="3.2" fill="#000"/><rect x="403.91" y="268.25" width="3.2" height="3.2" fill="#000"/><rect x="412.37" y="266.36" width="3.2" height="3.2" fill="#000"/><rect x="420.82" y="266.36" width="3.2" height="3.2" fill="#000"/><rect x="429.27" y="266.36" width="3.2" height="3.2" fill="#000"/><rect x="437.73" y="266.36" width="3.2" height="3.2" fill="#000"/><rect x="446.19" y="265.89" width="3.2" height="3.2" fill="#000"/><rect x="454.64" y="266.36" width="3.2" height="3.2" fill="#000"/><rect x="463.1" y="266.36" width="3.2" height="3.2" fill="#000"/><rect x="471.55" y="266.36" width="3.2" height="3.2" fill="#000"/><rect x="480" y="266.36" width="3.2" height="3.2" fill="#000"/><rect x="488.46" y="266.36" width="3.2" height="3.2" fill="#000"/><rect x="496.91" y="266.36" width="3.2" height="3.2" fill="#000"/><rect x="505.37" y="267.31" width="3.2" height="3.2" fill="#000"/>
<rect x="302.7" y="327.46" width="2.7" height="2.7" fill="#fff" stroke="#111" stroke-width="0.8"/><rect x="311.15" y="326.05" width="2.7" height="2.7" fill="#fff" stroke="#111" stroke-width="0.8"/><rect x="319.61" y="324.63" width="2.7" height="2.7" fill="#fff" stroke="#111" stroke-width="0.8"/><rect x="328.06" y="321.33" width="2.7" height="2.7" fill="#fff" stroke="#111" stroke-width="0.8"/><rect x="336.52" y="316.14" width="2.7" height="2.7" fill="#fff" stroke="#111" stroke-width="0.8"/><rect x="344.97" y="308.12" width="2.7" height="2.7" fill="#fff" stroke="#111" stroke-width="0.8"/><rect x="353.43" y="302.93" width="2.7" height="2.7" fill="#fff" stroke="#111" stroke-width="0.8"/><rect x="361.88" y="296.8" width="2.7" height="2.7" fill="#fff" stroke="#111" stroke-width="0.8"/><rect x="370.34" y="292.56" width="2.7" height="2.7" fill="#fff" stroke="#111" stroke-width="0.8"/><rect x="378.79" y="285.48" width="2.7" height="2.7" fill="#fff" stroke="#111" stroke-width="0.8"/><rect x="387.25" y="272.75" width="2.7" height="2.7" fill="#fff" stroke="#111" stroke-width="0.8"/><rect x="395.7" y="266.14" width="2.7" height="2.7" fill="#fff" stroke="#111" stroke-width="0.8"/><rect x="404.16" y="264.73" width="2.7" height="2.7" fill="#fff" stroke="#111" stroke-width="0.8"/><rect x="412.62" y="264.49" width="2.7" height="2.7" fill="#fff" stroke="#111" stroke-width="0.8"/><rect x="421.07" y="264.49" width="2.7" height="2.7" fill="#fff" stroke="#111" stroke-width="0.8"/><rect x="429.52" y="264.49" width="2.7" height="2.7" fill="#fff" stroke="#111" stroke-width="0.8"/><rect x="437.98" y="263.31" width="2.7" height="2.7" fill="#fff" stroke="#111" stroke-width="0.8"/><rect x="446.44" y="258.59" width="2.7" height="2.7" fill="#fff" stroke="#111" stroke-width="0.8"/><rect x="454.89" y="258.59" width="2.7" height="2.7" fill="#fff" stroke="#111" stroke-width="0.8"/><rect x="463.35" y="258.12" width="2.7" height="2.7" fill="#fff" stroke="#111" stroke-width="0.8"/><rect x="471.8" y="257.89" width="2.7" height="2.7" fill="#fff" stroke="#111" stroke-width="0.8"/><rect x="480.25" y="257.18" width="2.7" height="2.7" fill="#fff" stroke="#111" stroke-width="0.8"/><rect x="488.71" y="257.65" width="2.7" height="2.7" fill="#fff" stroke="#111" stroke-width="0.8"/><rect x="497.16" y="257.89" width="2.7" height="2.7" fill="#fff" stroke="#111" stroke-width="0.8"/><rect x="505.62" y="258.59" width="2.7" height="2.7" fill="#fff" stroke="#111" stroke-width="0.8"/><path d="M397.06 265.61V269.38M395.75 265.61H398.36M395.75 269.38H398.36" stroke="#000" stroke-width="0.6"/><path d="M439.33 262.78V266.55M438.03 262.78H440.63M438.03 266.55H440.63" stroke="#000" stroke-width="0.6"/><path d="M447.79 258.53V261.36M446.49 258.53H449.09M446.49 261.36H449.09" stroke="#000" stroke-width="0.6"/><path d="M464.7 258.06V260.89M463.4 258.06H466M463.4 260.89H466" stroke="#000" stroke-width="0.6"/><path d="M473.15 257.35V261.12M471.85 257.35H474.45M471.85 261.12H474.45" stroke="#000" stroke-width="0.6"/>
<path d="M304.05 326.71L306.15 328.81L304.05 330.91L301.95 328.81Z" fill="#000"/><path d="M312.5 324.5L314.61 326.6L312.5 328.7L310.4 326.6Z" fill="#000"/><path d="M320.96 321.71L323.06 323.81L320.96 325.91L318.86 323.81Z" fill="#000"/><path d="M329.42 317.75L331.52 319.85L329.42 321.95L327.31 319.85Z" fill="#000"/><path d="M337.87 310.91L339.97 313.01L337.87 315.11L335.77 313.01Z" fill="#000"/><path d="M346.32 302.89L348.43 304.99L346.32 307.09L344.22 304.99Z" fill="#000"/><path d="M354.78 298.88L356.88 300.98L354.78 303.08L352.68 300.98Z" fill="#000"/><path d="M363.24 293.93L365.34 296.03L363.24 298.13L361.13 296.03Z" fill="#000"/><path d="M371.69 290.39L373.79 292.49L371.69 294.59L369.59 292.49Z" fill="#000"/><path d="M380.14 283.79L382.25 285.89L380.14 287.99L378.04 285.89Z" fill="#000"/><path d="M388.6 272.47L390.7 274.57L388.6 276.67L386.5 274.57Z" fill="#000"/><path d="M397.06 262.09L399.16 264.19L397.06 266.29L394.95 264.19Z" fill="#000"/><path d="M405.51 257.84L407.61 259.94L405.51 262.05L403.41 259.94Z" fill="#000"/><path d="M413.97 256.43L416.07 258.53L413.97 260.63L411.87 258.53Z" fill="#000"/><path d="M422.42 254.31L424.52 256.41L422.42 258.51L420.32 256.41Z" fill="#000"/><path d="M430.88 253.13L432.98 255.23L430.88 257.33L428.77 255.23Z" fill="#000"/><path d="M439.33 252.66L441.43 254.76L439.33 256.86L437.23 254.76Z" fill="#000"/><path d="M447.79 252.42L449.89 254.52L447.79 256.62L445.69 254.52Z" fill="#000"/><path d="M456.24 252.66L458.34 254.76L456.24 256.86L454.14 254.76Z" fill="#000"/><path d="M464.7 253.13L466.8 255.23L464.7 257.33L462.6 255.23Z" fill="#000"/><path d="M473.15 253.6L475.25 255.7L473.15 257.8L471.05 255.7Z" fill="#000"/><path d="M481.61 255.01L483.71 257.11L481.61 259.21L479.5 257.11Z" fill="#000"/><path d="M490.06 255.49L492.16 257.59L490.06 259.69L487.96 257.59Z" fill="#000"/><path d="M498.51 256.9L500.62 259L498.51 261.1L496.41 259Z" fill="#000"/><path d="M506.97 258.32L509.07 260.42L506.97 262.52L504.87 260.42Z" fill="#000"/><path d="M397.06 261.83V266.55M395.75 261.83H398.36M395.75 266.55H398.36" stroke="#000" stroke-width="0.6"/>
<path d="M304.05 329.52H506.97" fill="none" stroke="#a81c2a" stroke-width="1.3"/>
<path d="M304.05 327.96 306.16 327.96 308.28 327.96 310.39 327.96 312.5 327.96 314.62 327.96 316.73 327.96 318.85 327.96 320.96 327.96 323.07 327.96 325.19 327.96 327.3 327.96 329.42 327.96 331.53 327.96 333.64 327.96 335.76 327.96 337.87 327.96 339.98 327.96 342.1 327.96 344.21 327.96 346.32 327.96 348.44 327.96 350.55 327.96 352.67 327.96 354.78 327.96 356.89 327.96 359.01 327.96 361.12 327.96 363.24 327.96 365.35 327.96 367.46 327.96 369.58 327.96 371.69 327.96 373.8 327.96 375.92 327.96 378.03 327.96 380.14 327.96 382.26 327.96 384.37 327.96 386.49 327.96 388.6 327.96 390.71 327.96 392.83 327.96 394.94 327.96 397.06 327.96 399.17 327.96 401.28 327.96 403.4 327.96 405.51 327.96 407.62 327.96 409.74 327.96 411.85 327.96 413.97 327.96 416.08 327.96 418.19 327.96 420.31 327.96 422.42 327.95 424.53 327.95 426.65 327.95 428.76 327.95 430.88 327.95 432.99 327.94 435.1 327.92 437.22 327.9 439.33 327.87 441.44 327.83 443.56 327.77 445.67 327.68 447.79 327.57 449.9 327.42 452.01 327.22 454.13 326.99 456.24 326.69 458.35 326.34 460.47 325.93 462.58 325.46 464.7 324.91 466.81 324.3 468.92 323.62 471.04 322.88 473.15 322.07 475.26 321.2 477.38 320.28 479.49 319.32 481.61 318.31 483.72 317.26 485.83 316.19 487.95 315.09 490.06 313.99 492.17 312.87 494.29 311.75 496.4 310.63 498.51 309.52 500.63 308.43 502.74 307.35 504.86 306.3 506.97 305.27" fill="none" stroke="#c8d820" stroke-width="1.15"/>
<path d="M304.05 328.4 306.16 328.16 308.28 327.88 310.39 327.55 312.5 327.19 314.62 326.78 316.73 326.33 318.85 325.84 320.96 325.3 323.07 324.72 325.19 324.11 327.3 323.45 329.42 322.77 331.53 322.05 333.64 321.3 335.76 320.53 337.87 319.74 339.98 318.94 342.1 318.12 344.21 317.29 346.32 316.46 348.44 315.62 350.55 314.79 352.67 313.96 354.78 313.13 356.89 312.32 359.01 311.52 361.12 310.73 363.24 309.96 365.35 309.2 367.46 308.46 369.58 307.75 371.69 307.05 373.8 306.37 375.92 305.72 378.03 305.09 380.14 304.48 382.26 303.9 384.37 303.33 386.49 302.79 388.6 302.27 390.71 301.78 392.83 301.3 394.94 300.85 397.06 300.42 399.17 300 401.28 299.61 403.4 299.23 405.51 298.88 407.62 298.54 409.74 298.22 411.85 297.91 413.97 297.62 416.08 297.34 418.19 297.08 420.31 296.83 422.42 296.6 424.53 296.38 426.65 296.17 428.76 295.97 430.88 295.78 432.99 295.61 435.1 295.44 437.22 295.28 439.33 295.13 441.44 294.99 443.56 294.86 445.67 294.73 447.79 294.61 449.9 294.5 452.01 294.4 454.13 294.3 456.24 294.2 458.35 294.11 460.47 294.03 462.58 293.95 464.7 293.88 466.81 293.81 468.92 293.74 471.04 293.68 473.15 293.62 475.26 293.57 477.38 293.52 479.49 293.47 481.61 293.42 483.72 293.38 485.83 293.34 487.95 293.3 490.06 293.27 492.17 293.23 494.29 293.2 496.4 293.17 498.51 293.14 500.63 293.12 502.74 293.09 504.86 293.07 506.97 293.05" fill="none" stroke="#8a1c26" stroke-width="1.15"/>
<path d="M304.05 327.99 306.16 327.98 308.28 327.96 310.39 327.93 312.5 327.87 314.62 327.79 316.73 327.67 318.85 327.51 320.96 327.28 323.07 326.98 325.19 326.6 327.3 326.12 329.42 325.53 331.53 324.84 333.64 324.03 335.76 323.1 337.87 322.06 339.98 320.9 342.1 319.64 344.21 318.29 346.32 316.85 348.44 315.34 350.55 313.77 352.67 312.15 354.78 310.5 356.89 308.83 359.01 307.15 361.12 305.48 363.24 303.83 365.35 302.2 367.46 300.6 369.58 299.04 371.69 297.54 373.8 296.08 375.92 294.67 378.03 293.33 380.14 292.04 382.26 290.82 384.37 289.65 386.49 288.55 388.6 287.51 390.71 286.52 392.83 285.6 394.94 284.73 397.06 283.91 399.17 283.14 401.28 282.43 403.4 281.76 405.51 281.14 407.62 280.55 409.74 280.01 411.85 279.51 413.97 279.04 416.08 278.61 418.19 278.21 420.31 277.83 422.42 277.49 424.53 277.16 426.65 276.87 428.76 276.59 430.88 276.34 432.99 276.1 435.1 275.89 437.22 275.69 439.33 275.5 441.44 275.33 443.56 275.17 445.67 275.03 447.79 274.89 449.9 274.77 452.01 274.66 454.13 274.55 456.24 274.45 458.35 274.36 460.47 274.28 462.58 274.21 464.7 274.14 466.81 274.07 468.92 274.01 471.04 273.96 473.15 273.91 475.26 273.86 477.38 273.82 479.49 273.78 481.61 273.74 483.72 273.71 485.83 273.68 487.95 273.65 490.06 273.62 492.17 273.6 494.29 273.58 496.4 273.56 498.51 273.54 500.63 273.52 502.74 273.51 504.86 273.49 506.97 273.48" fill="none" stroke="#ff8c1a" stroke-width="1.15"/>
<path d="M304.05 327.82 306.16 327.81 308.28 327.78 310.39 327.75 312.5 327.69 314.62 327.6 316.73 327.48 318.85 327.3 320.96 327.06 323.07 326.74 325.19 326.33 327.3 325.82 329.42 325.2 331.53 324.45 333.64 323.58 335.76 322.58 337.87 321.46 339.98 320.2 342.1 318.83 344.21 317.35 346.32 315.77 348.44 314.1 350.55 312.36 352.67 310.57 354.78 308.73 356.89 306.86 359.01 304.98 361.12 303.1 363.24 301.23 365.35 299.38 367.46 297.56 369.58 295.78 371.69 294.05 373.8 292.37 375.92 290.75 378.03 289.2 380.14 287.7 382.26 286.28 384.37 284.92 386.49 283.62 388.6 282.4 390.71 281.24 392.83 280.15 394.94 279.12 397.06 278.15 399.17 277.24 401.28 276.38 403.4 275.58 405.51 274.84 407.62 274.14 409.74 273.49 411.85 272.88 413.97 272.31 416.08 271.79 418.19 271.3 420.31 270.84 422.42 270.42 424.53 270.03 426.65 269.67 428.76 269.33 430.88 269.02 432.99 268.73 435.1 268.46 437.22 268.21 439.33 267.98 441.44 267.77 443.56 267.58 445.67 267.39 447.79 267.23 449.9 267.07 452.01 266.93 454.13 266.8 456.24 266.68 458.35 266.56 460.47 266.46 462.58 266.36 464.7 266.28 466.81 266.19 468.92 266.12 471.04 266.05 473.15 265.99 475.26 265.93 477.38 265.87 479.49 265.82 481.61 265.78 483.72 265.73 485.83 265.69 487.95 265.66 490.06 265.62 492.17 265.59 494.29 265.56 496.4 265.54 498.51 265.51 500.63 265.49 502.74 265.47 504.86 265.45 506.97 265.43" fill="none" stroke="#aa6630" stroke-width="1.15"/>
<path d="M304.05 327.2 306.16 327.18 308.28 327.16 310.39 327.12 312.5 327.06 314.62 326.97 316.73 326.83 318.85 326.64 320.96 326.38 323.07 326.04 325.19 325.6 327.3 325.06 329.42 324.39 331.53 323.59 333.64 322.66 335.76 321.59 337.87 320.38 339.98 319.03 342.1 317.56 344.21 315.96 346.32 314.26 348.44 312.46 350.55 310.58 352.67 308.63 354.78 306.64 356.89 304.61 359.01 302.57 361.12 300.51 363.24 298.47 365.35 296.45 367.46 294.46 369.58 292.51 371.69 290.61 373.8 288.77 375.92 286.98 378.03 285.27 380.14 283.62 382.26 282.04 384.37 280.54 386.49 279.1 388.6 277.74 390.71 276.46 392.83 275.24 394.94 274.09 397.06 273.01 399.17 271.99 401.28 271.04 403.4 270.14 405.51 269.3 407.62 268.52 409.74 267.79 411.85 267.11 413.97 266.47 416.08 265.88 418.19 265.33 420.31 264.81 422.42 264.33 424.53 263.89 426.65 263.48 428.76 263.1 430.88 262.74 432.99 262.42 435.1 262.11 437.22 261.83 439.33 261.57 441.44 261.33 443.56 261.1 445.67 260.9 447.79 260.71 449.9 260.53 452.01 260.37 454.13 260.21 456.24 260.07 458.35 259.95 460.47 259.83 462.58 259.72 464.7 259.61 466.81 259.52 468.92 259.43 471.04 259.35 473.15 259.28 475.26 259.21 477.38 259.15 479.49 259.09 481.61 259.04 483.72 258.99 485.83 258.94 487.95 258.9 490.06 258.86 492.17 258.82 494.29 258.79 496.4 258.76 498.51 258.73 500.63 258.71 502.74 258.68 504.86 258.66 506.97 258.64" fill="none" stroke="#94a020" stroke-width="1.15"/>
<path d="M304.05 325.39 306.16 325.37 308.28 325.32 310.39 325.26 312.5 325.16 314.62 325.02 316.73 324.83 318.85 324.57 320.96 324.24 323.07 323.81 325.19 323.28 327.3 322.64 329.42 321.87 331.53 320.98 333.64 319.95 335.76 318.79 337.87 317.49 339.98 316.07 342.1 314.53 344.21 312.88 346.32 311.13 348.44 309.29 350.55 307.38 352.67 305.41 354.78 303.4 356.89 301.36 359.01 299.31 361.12 297.25 363.24 295.2 365.35 293.17 367.46 291.17 369.58 289.21 371.69 287.3 373.8 285.44 375.92 283.64 378.03 281.9 380.14 280.22 382.26 278.62 384.37 277.08 386.49 275.61 388.6 274.21 390.71 272.88 392.83 271.62 394.94 270.43 397.06 269.3 399.17 268.24 401.28 267.24 403.4 266.29 405.51 265.41 407.62 264.57 409.74 263.79 411.85 263.06 413.97 262.38 416.08 261.74 418.19 261.14 420.31 260.58 422.42 260.06 424.53 259.57 426.65 259.12 428.76 258.7 430.88 258.31 432.99 257.94 435.1 257.6 437.22 257.28 439.33 256.99 441.44 256.72 443.56 256.46 445.67 256.23 447.79 256.01 449.9 255.81 452.01 255.62 454.13 255.44 456.24 255.28 458.35 255.13 460.47 254.99 462.58 254.86 464.7 254.74 466.81 254.63 468.92 254.53 471.04 254.43 473.15 254.34 475.26 254.26 477.38 254.19 479.49 254.12 481.61 254.05 483.72 253.99 485.83 253.93 487.95 253.88 490.06 253.84 492.17 253.79 494.29 253.75 496.4 253.71 498.51 253.68 500.63 253.64 502.74 253.61 504.86 253.59 506.97 253.56" fill="none" stroke="#a81c2a" stroke-width="1.15"/>
<circle cx="519.7" cy="251.25" r="1.75" fill="#000"/>
<text class="lg" x="528.5" y="253" xml:space="preserve" textLength="10.38" lengthAdjust="spacingAndGlyphs"> MIC</text>
<circle cx="519.7" cy="257.2" r="1.4" fill="none" stroke="#111" stroke-width="0.8"/>
<text class="lg" x="528.5" y="258.95" xml:space="preserve" textLength="16.57" lengthAdjust="spacingAndGlyphs">1/2 MIC</text>
<path d="M517.8 261.85H521.6L519.7 265.05Z" fill="#000"/>
<text class="lg" x="528.5" y="264.9" xml:space="preserve" textLength="16.57" lengthAdjust="spacingAndGlyphs">1/4 MIC</text>
<path d="M518.05 270.3H521.35L519.7 267.5Z" fill="#fff" stroke="#111" stroke-width="0.8"/>
<text class="lg" x="528.5" y="270.85" xml:space="preserve" textLength="16.57" lengthAdjust="spacingAndGlyphs">1/8 MIC</text>
<rect x="518.1" y="273.45" width="3.2" height="3.2" fill="#000"/>
<text class="lg" x="528.5" y="276.8" xml:space="preserve" textLength="19" lengthAdjust="spacingAndGlyphs">1/16 MIC</text>
<rect x="518.35" y="279.65" width="2.7" height="2.7" fill="#fff" stroke="#111" stroke-width="0.8"/>
<text class="lg" x="528.5" y="282.75" xml:space="preserve" textLength="19" lengthAdjust="spacingAndGlyphs">1/32 MIC</text>
<path d="M519.7 284.85L521.8 286.95L519.7 289.05L517.6 286.95Z" fill="#000"/>
<text class="lg" x="528.5" y="288.7" xml:space="preserve" textLength="6.74" lengthAdjust="spacingAndGlyphs">CK</text>
<text class="gz" x="514.8" y="297.2">Gompertz:</text>
<path d="M514.4 304.1H525.7" stroke="#b84646" stroke-width="1.45"/>
<text class="lg" x="528.5" y="305.95" textLength="12.8" lengthAdjust="spacingAndGlyphs">1 MIC</text>
<path d="M514.4 310.05H525.7" stroke="#c8d820" stroke-width="1.45"/>
<text class="lg" x="528.5" y="311.9" textLength="16.57" lengthAdjust="spacingAndGlyphs">1/2 MIC</text>
<path d="M514.4 316H525.7" stroke="#8a1c26" stroke-width="1.45"/>
<text class="lg" x="528.5" y="317.85" textLength="16.57" lengthAdjust="spacingAndGlyphs">1/4 MIC</text>
<path d="M514.4 321.95H525.7" stroke="#ff8c1a" stroke-width="1.45"/>
<text class="lg" x="528.5" y="323.8" textLength="16.57" lengthAdjust="spacingAndGlyphs">1/8 MIC</text>
<path d="M514.4 327.9H525.7" stroke="#aa6630" stroke-width="1.45"/>
<text class="lg" x="528.5" y="329.75" textLength="19" lengthAdjust="spacingAndGlyphs">1/16 MIC</text>
<path d="M514.4 333.85H525.7" stroke="#94a020" stroke-width="1.45"/>
<text class="lg" x="528.5" y="335.7" textLength="19" lengthAdjust="spacingAndGlyphs">1/32 MIC</text>
<path d="M514.4 339.8H525.7" stroke="#a81c2a" stroke-width="1.45"/>
<text class="lg" x="528.5" y="341.65" textLength="6.74" lengthAdjust="spacingAndGlyphs">CK</text></g>
</svg>
</body></html>
